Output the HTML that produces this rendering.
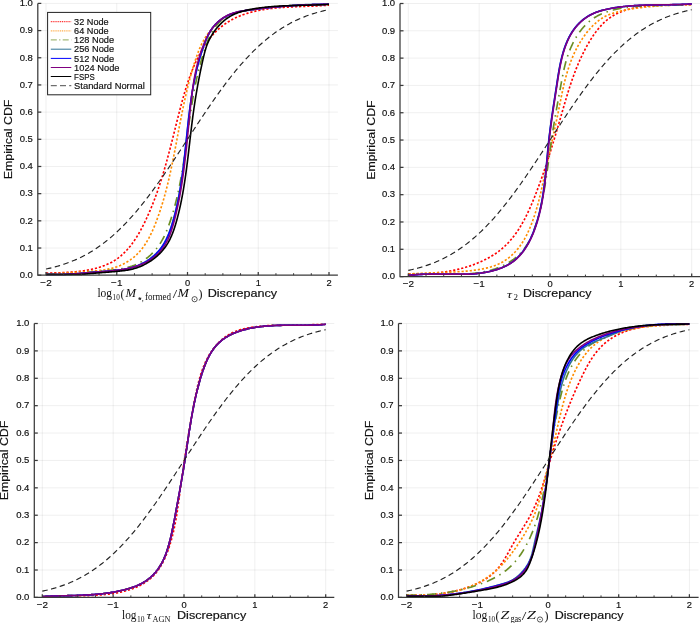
<!DOCTYPE html>
<html><head><meta charset="utf-8"><style>
html,body{margin:0;padding:0;background:#fff;width:700px;height:623px;overflow:hidden;font-family:"Liberation Sans",sans-serif;}
svg{display:block;will-change:transform}
</style></head><body>
<svg width="700" height="623" viewBox="0 0 700 623">
<rect width="700" height="623" fill="#fff"/>
<g stroke="#000" stroke-opacity="0.062" stroke-width="1">
<line x1="37.80" y1="248.02" x2="337.90" y2="248.02"/>
<line x1="37.80" y1="220.84" x2="337.90" y2="220.84"/>
<line x1="37.80" y1="193.66" x2="337.90" y2="193.66"/>
<line x1="37.80" y1="166.48" x2="337.90" y2="166.48"/>
<line x1="37.80" y1="139.30" x2="337.90" y2="139.30"/>
<line x1="37.80" y1="112.12" x2="337.90" y2="112.12"/>
<line x1="37.80" y1="84.94" x2="337.90" y2="84.94"/>
<line x1="37.80" y1="57.76" x2="337.90" y2="57.76"/>
<line x1="37.80" y1="30.58" x2="337.90" y2="30.58"/>
<line x1="37.80" y1="3.40" x2="337.90" y2="3.40"/>
<line x1="46.00" y1="275.20" x2="46.00" y2="3.40"/>
<line x1="116.75" y1="275.20" x2="116.75" y2="3.40"/>
<line x1="187.50" y1="275.20" x2="187.50" y2="3.40"/>
<line x1="258.25" y1="275.20" x2="258.25" y2="3.40"/>
<line x1="329.00" y1="275.20" x2="329.00" y2="3.40"/>
</g>
<g stroke="#000" stroke-opacity="0.062" stroke-width="1">
<line x1="400.00" y1="249.29" x2="700.50" y2="249.29"/>
<line x1="400.00" y1="221.98" x2="700.50" y2="221.98"/>
<line x1="400.00" y1="194.67" x2="700.50" y2="194.67"/>
<line x1="400.00" y1="167.36" x2="700.50" y2="167.36"/>
<line x1="400.00" y1="140.05" x2="700.50" y2="140.05"/>
<line x1="400.00" y1="112.74" x2="700.50" y2="112.74"/>
<line x1="400.00" y1="85.43" x2="700.50" y2="85.43"/>
<line x1="400.00" y1="58.12" x2="700.50" y2="58.12"/>
<line x1="400.00" y1="30.81" x2="700.50" y2="30.81"/>
<line x1="400.00" y1="3.50" x2="700.50" y2="3.50"/>
<line x1="408.30" y1="276.60" x2="408.30" y2="3.50"/>
<line x1="479.15" y1="276.60" x2="479.15" y2="3.50"/>
<line x1="550.00" y1="276.60" x2="550.00" y2="3.50"/>
<line x1="620.85" y1="276.60" x2="620.85" y2="3.50"/>
<line x1="691.70" y1="276.60" x2="691.70" y2="3.50"/>
</g>
<g stroke="#000" stroke-opacity="0.062" stroke-width="1">
<line x1="34.30" y1="570.01" x2="334.30" y2="570.01"/>
<line x1="34.30" y1="542.62" x2="334.30" y2="542.62"/>
<line x1="34.30" y1="515.23" x2="334.30" y2="515.23"/>
<line x1="34.30" y1="487.84" x2="334.30" y2="487.84"/>
<line x1="34.30" y1="460.45" x2="334.30" y2="460.45"/>
<line x1="34.30" y1="433.06" x2="334.30" y2="433.06"/>
<line x1="34.30" y1="405.67" x2="334.30" y2="405.67"/>
<line x1="34.30" y1="378.28" x2="334.30" y2="378.28"/>
<line x1="34.30" y1="350.89" x2="334.30" y2="350.89"/>
<line x1="34.30" y1="323.50" x2="334.30" y2="323.50"/>
<line x1="42.30" y1="597.40" x2="42.30" y2="323.50"/>
<line x1="113.15" y1="597.40" x2="113.15" y2="323.50"/>
<line x1="184.00" y1="597.40" x2="184.00" y2="323.50"/>
<line x1="254.85" y1="597.40" x2="254.85" y2="323.50"/>
<line x1="325.70" y1="597.40" x2="325.70" y2="323.50"/>
</g>
<g stroke="#000" stroke-opacity="0.062" stroke-width="1">
<line x1="398.50" y1="570.01" x2="698.60" y2="570.01"/>
<line x1="398.50" y1="542.62" x2="698.60" y2="542.62"/>
<line x1="398.50" y1="515.23" x2="698.60" y2="515.23"/>
<line x1="398.50" y1="487.84" x2="698.60" y2="487.84"/>
<line x1="398.50" y1="460.45" x2="698.60" y2="460.45"/>
<line x1="398.50" y1="433.06" x2="698.60" y2="433.06"/>
<line x1="398.50" y1="405.67" x2="698.60" y2="405.67"/>
<line x1="398.50" y1="378.28" x2="698.60" y2="378.28"/>
<line x1="398.50" y1="350.89" x2="698.60" y2="350.89"/>
<line x1="398.50" y1="323.50" x2="698.60" y2="323.50"/>
<line x1="406.60" y1="597.40" x2="406.60" y2="323.50"/>
<line x1="477.30" y1="597.40" x2="477.30" y2="323.50"/>
<line x1="548.00" y1="597.40" x2="548.00" y2="323.50"/>
<line x1="618.70" y1="597.40" x2="618.70" y2="323.50"/>
<line x1="689.40" y1="597.40" x2="689.40" y2="323.50"/>
</g>
<g fill="none" stroke-linejoin="round">
<path d="M46.00 273.06 L47.09 273.04 L48.18 273.02 L49.27 272.99 L50.36 272.97 L51.45 272.95 L52.54 272.92 L53.64 272.90 L54.73 272.87 L55.83 272.84 L56.93 272.82 L58.03 272.78 L59.13 272.75 L60.24 272.71 L61.34 272.67 L62.45 272.63 L63.56 272.58 L64.67 272.53 L65.78 272.47 L66.89 272.41 L68.01 272.35 L69.12 272.28 L70.24 272.20 L71.36 272.12 L72.48 272.03 L73.60 271.94 L74.72 271.84 L75.84 271.73 L76.97 271.61 L78.09 271.49 L79.22 271.36 L80.35 271.22 L81.48 271.07 L82.61 270.91 L83.74 270.74 L84.87 270.57 L86.00 270.38 L87.13 270.18 L88.26 269.98 L89.39 269.76 L90.51 269.53 L91.63 269.29 L92.75 269.04 L93.87 268.78 L94.97 268.50 L96.08 268.21 L97.18 267.91 L98.27 267.59 L99.36 267.27 L100.44 266.92 L101.51 266.57 L102.58 266.20 L103.63 265.81 L104.68 265.41 L105.71 264.99 L106.74 264.56 L107.76 264.11 L108.76 263.65 L109.76 263.17 L110.74 262.67 L111.71 262.16 L112.66 261.62 L113.60 261.07 L114.53 260.50 L115.45 259.92 L116.35 259.31 L117.23 258.69 L118.11 258.06 L118.97 257.40 L119.81 256.74 L120.65 256.05 L121.47 255.35 L122.28 254.64 L123.08 253.91 L123.86 253.16 L124.64 252.41 L125.40 251.64 L126.15 250.85 L126.89 250.06 L127.62 249.25 L128.34 248.43 L129.04 247.60 L129.74 246.75 L130.43 245.90 L131.10 245.03 L131.77 244.16 L132.43 243.27 L133.07 242.38 L133.71 241.48 L134.34 240.56 L134.96 239.64 L135.57 238.72 L136.18 237.78 L136.77 236.83 L137.36 235.88 L137.94 234.93 L138.51 233.96 L139.07 232.99 L139.63 232.02 L140.18 231.04 L140.72 230.05 L141.25 229.06 L141.78 228.07 L142.30 227.07 L142.82 226.07 L143.33 225.07 L143.83 224.06 L144.33 223.05 L144.82 222.04 L145.31 221.03 L145.79 220.01 L146.27 219.00 L146.74 217.98 L147.21 216.96 L147.67 215.94 L148.13 214.92 L148.58 213.90 L149.03 212.88 L149.48 211.85 L149.92 210.83 L150.35 209.80 L150.78 208.78 L151.21 207.75 L151.63 206.72 L152.05 205.69 L152.46 204.66 L152.87 203.63 L153.28 202.59 L153.68 201.56 L154.08 200.52 L154.47 199.49 L154.87 198.45 L155.25 197.41 L155.64 196.37 L156.01 195.33 L156.39 194.29 L156.76 193.25 L157.13 192.20 L157.50 191.16 L157.86 190.11 L158.22 189.07 L158.58 188.02 L158.93 186.97 L159.28 185.92 L159.63 184.87 L159.97 183.82 L160.31 182.77 L160.65 181.72 L160.98 180.66 L161.32 179.61 L161.65 178.55 L161.97 177.49 L162.30 176.44 L162.62 175.38 L162.94 174.32 L163.26 173.26 L163.57 172.20 L163.89 171.14 L164.20 170.08 L164.51 169.01 L164.81 167.95 L165.12 166.88 L165.42 165.82 L165.72 164.75 L166.02 163.68 L166.32 162.62 L166.61 161.55 L166.91 160.48 L167.20 159.41 L167.49 158.34 L167.78 157.27 L168.07 156.19 L168.36 155.12 L168.64 154.05 L168.92 152.97 L169.21 151.90 L169.49 150.82 L169.77 149.75 L170.05 148.67 L170.33 147.59 L170.61 146.51 L170.88 145.43 L171.16 144.35 L171.44 143.27 L171.71 142.19 L171.99 141.11 L172.26 140.03 L172.53 138.95 L172.81 137.86 L173.08 136.78 L173.35 135.69 L173.63 134.61 L173.90 133.52 L174.17 132.44 L174.44 131.35 L174.71 130.26 L174.99 129.18 L175.26 128.09 L175.53 127.00 L175.81 125.91 L176.08 124.82 L176.35 123.73 L176.63 122.64 L176.90 121.55 L177.18 120.46 L177.45 119.36 L177.73 118.27 L178.00 117.18 L178.28 116.08 L178.56 114.99 L178.84 113.90 L179.12 112.80 L179.40 111.71 L179.69 110.61 L179.97 109.52 L180.26 108.42 L180.54 107.32 L180.83 106.23 L181.12 105.13 L181.41 104.04 L181.71 102.94 L182.00 101.85 L182.30 100.75 L182.60 99.66 L182.90 98.57 L183.21 97.48 L183.52 96.38 L183.83 95.30 L184.14 94.21 L184.46 93.12 L184.78 92.03 L185.10 90.95 L185.43 89.87 L185.76 88.78 L186.09 87.70 L186.43 86.63 L186.77 85.55 L187.12 84.48 L187.47 83.41 L187.82 82.34 L188.18 81.27 L188.54 80.20 L188.91 79.14 L189.28 78.08 L189.66 77.03 L190.04 75.97 L190.42 74.92 L190.82 73.87 L191.21 72.83 L191.62 71.79 L192.02 70.75 L192.44 69.72 L192.86 68.68 L193.28 67.66 L193.71 66.63 L194.15 65.61 L194.59 64.60 L195.04 63.59 L195.50 62.58 L195.96 61.58 L196.43 60.58 L196.91 59.58 L197.39 58.59 L197.88 57.61 L198.38 56.63 L198.88 55.65 L199.40 54.68 L199.92 53.71 L200.44 52.75 L200.98 51.80 L201.52 50.85 L202.08 49.90 L202.63 48.97 L203.20 48.03 L203.78 47.11 L204.36 46.18 L204.96 45.27 L205.56 44.36 L206.17 43.46 L206.79 42.56 L207.42 41.67 L208.06 40.78 L208.71 39.91 L209.37 39.04 L210.04 38.18 L210.72 37.33 L211.41 36.49 L212.12 35.65 L212.84 34.83 L213.57 34.01 L214.31 33.21 L215.07 32.42 L215.84 31.63 L216.62 30.86 L217.42 30.10 L218.23 29.35 L219.06 28.62 L219.90 27.89 L220.75 27.18 L221.61 26.49 L222.49 25.80 L223.37 25.13 L224.27 24.48 L225.17 23.84 L226.09 23.21 L227.01 22.60 L227.94 22.01 L228.88 21.43 L229.82 20.87 L230.78 20.32 L231.74 19.79 L232.71 19.27 L233.68 18.76 L234.66 18.27 L235.65 17.80 L236.64 17.33 L237.65 16.88 L238.65 16.45 L239.67 16.03 L240.69 15.62 L241.71 15.22 L242.74 14.84 L243.78 14.46 L244.82 14.10 L245.87 13.75 L246.92 13.42 L247.98 13.09 L249.04 12.78 L250.11 12.47 L251.18 12.18 L252.26 11.90 L253.34 11.63 L254.42 11.36 L255.51 11.11 L256.60 10.87 L257.70 10.64 L258.80 10.41 L259.90 10.20 L261.01 9.99 L262.12 9.79 L263.23 9.60 L264.35 9.42 L265.47 9.25 L266.59 9.08 L267.71 8.92 L268.83 8.77 L269.96 8.63 L271.09 8.49 L272.22 8.36 L273.36 8.23 L274.49 8.11 L275.63 8.00 L276.76 7.89 L277.90 7.79 L279.04 7.69 L280.18 7.60 L281.32 7.51 L282.46 7.43 L283.61 7.35 L284.75 7.27 L285.89 7.20 L287.03 7.14 L288.17 7.07 L289.32 7.01 L290.46 6.96 L291.60 6.90 L292.74 6.85 L293.88 6.80 L295.01 6.75 L296.15 6.71 L297.29 6.66 L298.42 6.62 L299.55 6.58 L300.68 6.54 L301.81 6.50 L302.94 6.46 L304.06 6.42 L305.19 6.38 L306.31 6.34 L307.42 6.30 L308.54 6.26 L309.65 6.22 L310.76 6.18 L311.86 6.14 L312.96 6.10 L314.06 6.05 L315.16 6.00 L316.25 5.95 L317.34 5.90 L318.42 5.85 L319.50 5.79 L320.57 5.73 L321.64 5.67 L322.71 5.60 L323.77 5.53 L324.82 5.46 L325.87 5.38 L326.92 5.30 L327.96 5.21 L329.00 5.12" stroke="#ff0000" stroke-width="1.65" stroke-dasharray="2.2 1.9"/>
<path d="M46.00 273.79 L47.16 273.79 L48.32 273.79 L49.48 273.77 L50.63 273.75 L51.78 273.73 L52.93 273.70 L54.08 273.66 L55.22 273.61 L56.36 273.56 L57.50 273.51 L58.64 273.45 L59.78 273.39 L60.91 273.32 L62.05 273.25 L63.18 273.18 L64.32 273.10 L65.45 273.02 L66.58 272.94 L67.72 272.85 L68.85 272.77 L69.98 272.68 L71.12 272.60 L72.25 272.51 L73.39 272.43 L74.53 272.34 L75.67 272.25 L76.81 272.17 L77.95 272.09 L79.10 272.01 L80.24 271.93 L81.39 271.85 L82.55 271.78 L83.70 271.71 L84.86 271.63 L86.02 271.56 L87.18 271.49 L88.34 271.42 L89.50 271.35 L90.66 271.27 L91.83 271.19 L92.99 271.10 L94.15 271.01 L95.31 270.91 L96.48 270.81 L97.64 270.69 L98.80 270.57 L99.95 270.44 L101.11 270.29 L102.26 270.14 L103.41 269.97 L104.56 269.80 L105.70 269.60 L106.85 269.39 L107.98 269.17 L109.12 268.93 L110.25 268.67 L111.37 268.40 L112.49 268.11 L113.61 267.79 L114.71 267.46 L115.82 267.10 L116.92 266.73 L118.01 266.32 L119.09 265.90 L120.17 265.46 L121.23 264.99 L122.29 264.50 L123.34 263.99 L124.38 263.45 L125.40 262.90 L126.41 262.33 L127.41 261.74 L128.40 261.13 L129.36 260.49 L130.32 259.85 L131.25 259.18 L132.17 258.49 L133.07 257.79 L133.95 257.07 L134.81 256.33 L135.65 255.58 L136.47 254.81 L137.27 254.03 L138.06 253.23 L138.83 252.42 L139.58 251.59 L140.32 250.75 L141.04 249.89 L141.74 249.02 L142.43 248.14 L143.10 247.25 L143.76 246.34 L144.40 245.43 L145.03 244.50 L145.64 243.56 L146.24 242.61 L146.83 241.65 L147.41 240.68 L147.97 239.71 L148.52 238.72 L149.07 237.73 L149.60 236.72 L150.11 235.71 L150.62 234.69 L151.12 233.67 L151.61 232.64 L152.09 231.60 L152.56 230.56 L153.03 229.51 L153.48 228.46 L153.93 227.40 L154.37 226.34 L154.80 225.27 L155.23 224.20 L155.65 223.13 L156.06 222.06 L156.47 220.98 L156.88 219.90 L157.28 218.82 L157.67 217.74 L158.06 216.66 L158.45 215.57 L158.83 214.49 L159.20 213.40 L159.57 212.31 L159.94 211.22 L160.30 210.12 L160.66 209.03 L161.01 207.93 L161.36 206.84 L161.70 205.74 L162.04 204.63 L162.38 203.53 L162.71 202.43 L163.04 201.32 L163.37 200.22 L163.69 199.11 L164.00 198.00 L164.32 196.89 L164.63 195.78 L164.93 194.67 L165.24 193.55 L165.53 192.44 L165.83 191.32 L166.12 190.20 L166.41 189.09 L166.70 187.97 L166.98 186.85 L167.26 185.72 L167.54 184.60 L167.82 183.48 L168.09 182.36 L168.36 181.23 L168.62 180.10 L168.89 178.98 L169.15 177.85 L169.41 176.72 L169.66 175.59 L169.92 174.46 L170.17 173.33 L170.42 172.20 L170.67 171.07 L170.91 169.93 L171.15 168.80 L171.40 167.67 L171.63 166.53 L171.87 165.40 L172.11 164.26 L172.34 163.13 L172.58 161.99 L172.81 160.85 L173.04 159.72 L173.26 158.58 L173.49 157.44 L173.72 156.30 L173.94 155.16 L174.16 154.03 L174.39 152.89 L174.61 151.75 L174.83 150.61 L175.05 149.47 L175.26 148.33 L175.48 147.19 L175.70 146.05 L175.92 144.91 L176.13 143.77 L176.35 142.63 L176.56 141.49 L176.78 140.35 L176.99 139.21 L177.21 138.07 L177.42 136.93 L177.63 135.79 L177.85 134.65 L178.06 133.51 L178.27 132.38 L178.49 131.24 L178.70 130.10 L178.92 128.96 L179.13 127.82 L179.35 126.69 L179.56 125.55 L179.78 124.41 L180.00 123.28 L180.22 122.14 L180.44 121.01 L180.65 119.87 L180.88 118.74 L181.10 117.61 L181.32 116.47 L181.54 115.34 L181.77 114.21 L181.99 113.08 L182.22 111.95 L182.45 110.82 L182.68 109.69 L182.91 108.57 L183.14 107.44 L183.38 106.31 L183.62 105.19 L183.85 104.06 L184.09 102.94 L184.34 101.82 L184.58 100.70 L184.82 99.58 L185.07 98.46 L185.32 97.34 L185.57 96.22 L185.83 95.11 L186.08 93.99 L186.34 92.88 L186.60 91.77 L186.86 90.66 L187.13 89.55 L187.39 88.44 L187.66 87.33 L187.94 86.22 L188.21 85.12 L188.49 84.02 L188.77 82.91 L189.05 81.81 L189.34 80.71 L189.63 79.62 L189.92 78.52 L190.21 77.43 L190.51 76.33 L190.81 75.24 L191.11 74.15 L191.42 73.06 L191.73 71.98 L192.04 70.89 L192.36 69.81 L192.68 68.73 L193.00 67.65 L193.33 66.57 L193.66 65.50 L193.99 64.42 L194.33 63.35 L194.67 62.28 L195.02 61.21 L195.37 60.14 L195.72 59.08 L196.08 58.02 L196.44 56.96 L196.80 55.90 L197.18 54.84 L197.55 53.79 L197.94 52.74 L198.34 51.69 L198.75 50.64 L199.17 49.59 L199.61 48.55 L200.06 47.51 L200.52 46.47 L201.00 45.44 L201.50 44.40 L202.02 43.37 L202.56 42.34 L203.12 41.32 L203.70 40.29 L204.29 39.28 L204.91 38.27 L205.54 37.27 L206.19 36.27 L206.86 35.29 L207.55 34.31 L208.25 33.34 L208.97 32.39 L209.71 31.44 L210.46 30.51 L211.22 29.60 L212.00 28.70 L212.80 27.81 L213.61 26.94 L214.43 26.09 L215.27 25.26 L216.12 24.44 L216.98 23.65 L217.86 22.87 L218.74 22.12 L219.64 21.39 L220.55 20.68 L221.47 20.00 L222.40 19.34 L223.34 18.71 L224.29 18.11 L225.25 17.53 L226.22 16.98 L227.20 16.46 L228.19 15.96 L229.18 15.49 L230.18 15.05 L231.19 14.62 L232.21 14.22 L233.24 13.84 L234.28 13.48 L235.32 13.13 L236.37 12.81 L237.42 12.50 L238.49 12.20 L239.56 11.93 L240.64 11.66 L241.72 11.41 L242.81 11.17 L243.90 10.94 L245.00 10.71 L246.11 10.50 L247.22 10.29 L248.34 10.09 L249.46 9.90 L250.59 9.71 L251.72 9.53 L252.86 9.35 L254.00 9.17 L255.15 9.00 L256.29 8.83 L257.45 8.67 L258.60 8.52 L259.77 8.36 L260.93 8.21 L262.10 8.07 L263.27 7.93 L264.44 7.79 L265.61 7.66 L266.79 7.53 L267.97 7.40 L269.15 7.28 L270.34 7.16 L271.52 7.05 L272.71 6.94 L273.90 6.83 L275.09 6.73 L276.28 6.63 L277.47 6.53 L278.66 6.43 L279.85 6.34 L281.04 6.25 L282.24 6.17 L283.43 6.09 L284.62 6.01 L285.81 5.93 L287.00 5.85 L288.19 5.78 L289.38 5.71 L290.57 5.65 L291.76 5.58 L292.94 5.52 L294.13 5.46 L295.31 5.40 L296.49 5.34 L297.67 5.29 L298.84 5.24 L300.01 5.19 L301.18 5.14 L302.35 5.09 L303.51 5.05 L304.67 5.00 L305.83 4.96 L306.98 4.92 L308.13 4.88 L309.28 4.84 L310.42 4.81 L311.55 4.77 L312.69 4.74 L313.81 4.70 L314.94 4.67 L316.05 4.64 L317.16 4.61 L318.27 4.58 L319.37 4.55 L320.47 4.52 L321.55 4.49 L322.64 4.46 L323.71 4.43 L324.78 4.41 L325.85 4.38 L326.90 4.35 L327.95 4.32 L328.99 4.30" stroke="#ff8c00" stroke-width="1.65" stroke-dasharray="2.2 1.9"/>
<path d="M46.00 274.11 L47.21 274.11 L48.42 274.11 L49.63 274.11 L50.83 274.11 L52.03 274.11 L53.22 274.11 L54.41 274.11 L55.59 274.11 L56.78 274.11 L57.95 274.11 L59.13 274.11 L60.30 274.11 L61.47 274.11 L62.64 274.11 L63.80 274.11 L64.96 274.11 L66.13 274.11 L67.28 274.11 L68.44 274.11 L69.59 274.11 L70.75 274.11 L71.90 274.06 L73.05 273.97 L74.20 273.87 L75.35 273.77 L76.50 273.66 L77.65 273.55 L78.80 273.44 L79.95 273.32 L81.10 273.20 L82.25 273.08 L83.40 272.95 L84.55 272.83 L85.70 272.70 L86.85 272.57 L88.00 272.44 L89.16 272.31 L90.31 272.18 L91.47 272.06 L92.63 271.93 L93.79 271.80 L94.96 271.68 L96.12 271.55 L97.29 271.43 L98.47 271.32 L99.64 271.20 L100.82 271.09 L102.00 270.98 L103.18 270.88 L104.37 270.77 L105.55 270.66 L106.74 270.56 L107.93 270.45 L109.12 270.34 L110.30 270.22 L111.49 270.10 L112.68 269.97 L113.86 269.84 L115.04 269.70 L116.22 269.55 L117.40 269.39 L118.58 269.21 L119.75 269.03 L120.91 268.84 L122.08 268.63 L123.23 268.40 L124.38 268.17 L125.53 267.91 L126.67 267.64 L127.80 267.35 L128.93 267.03 L130.05 266.70 L131.16 266.35 L132.26 265.98 L133.35 265.58 L134.43 265.16 L135.51 264.71 L136.57 264.24 L137.63 263.74 L138.67 263.22 L139.70 262.68 L140.72 262.11 L141.73 261.52 L142.72 260.91 L143.70 260.28 L144.67 259.62 L145.62 258.95 L146.56 258.26 L147.49 257.54 L148.40 256.81 L149.29 256.06 L150.17 255.29 L151.03 254.50 L151.88 253.70 L152.70 252.87 L153.51 252.04 L154.30 251.18 L155.08 250.31 L155.83 249.43 L156.57 248.53 L157.28 247.62 L157.98 246.69 L158.65 245.75 L159.31 244.80 L159.95 243.84 L160.57 242.86 L161.17 241.87 L161.75 240.87 L162.32 239.87 L162.88 238.85 L163.42 237.82 L163.94 236.79 L164.45 235.74 L164.95 234.69 L165.43 233.63 L165.91 232.56 L166.37 231.49 L166.82 230.41 L167.25 229.33 L167.68 228.24 L168.10 227.14 L168.51 226.05 L168.92 224.94 L169.31 223.84 L169.70 222.73 L170.08 221.62 L170.45 220.51 L170.82 219.39 L171.18 218.28 L171.54 217.16 L171.89 216.04 L172.24 214.92 L172.58 213.80 L172.92 212.68 L173.25 211.55 L173.57 210.43 L173.89 209.30 L174.21 208.17 L174.52 207.04 L174.83 205.91 L175.13 204.78 L175.42 203.64 L175.71 202.51 L176.00 201.37 L176.28 200.24 L176.56 199.10 L176.84 197.96 L177.11 196.82 L177.37 195.67 L177.63 194.53 L177.89 193.39 L178.15 192.24 L178.40 191.09 L178.64 189.95 L178.88 188.80 L179.12 187.65 L179.36 186.50 L179.59 185.35 L179.82 184.20 L180.04 183.04 L180.27 181.89 L180.49 180.73 L180.70 179.58 L180.92 178.42 L181.13 177.27 L181.33 176.11 L181.54 174.95 L181.74 173.79 L181.94 172.63 L182.14 171.47 L182.33 170.31 L182.52 169.15 L182.71 167.98 L182.90 166.82 L183.09 165.66 L183.27 164.49 L183.45 163.33 L183.63 162.17 L183.81 161.00 L183.99 159.83 L184.16 158.67 L184.33 157.50 L184.51 156.34 L184.68 155.17 L184.84 154.00 L185.01 152.83 L185.18 151.66 L185.34 150.50 L185.51 149.33 L185.67 148.16 L185.83 146.99 L186.00 145.82 L186.16 144.65 L186.32 143.48 L186.48 142.31 L186.64 141.14 L186.80 139.97 L186.95 138.81 L187.11 137.64 L187.27 136.47 L187.43 135.30 L187.59 134.13 L187.75 132.96 L187.90 131.79 L188.06 130.62 L188.22 129.45 L188.38 128.28 L188.54 127.11 L188.70 125.95 L188.86 124.78 L189.02 123.61 L189.19 122.44 L189.35 121.28 L189.51 120.11 L189.68 118.94 L189.84 117.78 L190.01 116.61 L190.18 115.45 L190.35 114.28 L190.52 113.12 L190.69 111.96 L190.87 110.79 L191.04 109.63 L191.22 108.47 L191.40 107.31 L191.58 106.15 L191.77 104.99 L191.95 103.83 L192.14 102.67 L192.33 101.51 L192.52 100.35 L192.71 99.20 L192.91 98.04 L193.11 96.88 L193.31 95.73 L193.52 94.58 L193.72 93.42 L193.93 92.27 L194.14 91.12 L194.36 89.97 L194.58 88.82 L194.80 87.68 L195.02 86.53 L195.25 85.38 L195.48 84.24 L195.72 83.10 L195.96 81.95 L196.20 80.81 L196.44 79.67 L196.69 78.53 L196.95 77.39 L197.20 76.26 L197.46 75.12 L197.73 73.99 L198.00 72.85 L198.27 71.72 L198.55 70.59 L198.83 69.46 L199.12 68.34 L199.41 67.21 L199.70 66.08 L200.00 64.96 L200.31 63.84 L200.62 62.72 L200.93 61.60 L201.25 60.48 L201.57 59.36 L201.90 58.25 L202.24 57.14 L202.58 56.03 L202.92 54.92 L203.27 53.81 L203.63 52.70 L203.99 51.60 L204.36 50.50 L204.73 49.39 L205.11 48.29 L205.50 47.20 L205.89 46.10 L206.29 45.01 L206.69 43.92 L207.10 42.83 L207.52 41.74 L207.94 40.66 L208.38 39.58 L208.83 38.51 L209.29 37.45 L209.77 36.39 L210.26 35.34 L210.77 34.31 L211.30 33.28 L211.84 32.27 L212.41 31.27 L213.00 30.28 L213.61 29.31 L214.24 28.35 L214.90 27.41 L215.59 26.49 L216.30 25.59 L217.05 24.71 L217.82 23.84 L218.62 23.00 L219.45 22.18 L220.30 21.39 L221.19 20.61 L222.09 19.87 L223.02 19.15 L223.98 18.45 L224.95 17.79 L225.94 17.15 L226.96 16.55 L227.99 15.97 L229.04 15.43 L230.11 14.92 L231.19 14.44 L232.28 14.00 L233.39 13.58 L234.51 13.20 L235.64 12.84 L236.78 12.51 L237.93 12.19 L239.09 11.90 L240.26 11.63 L241.43 11.38 L242.60 11.15 L243.78 10.92 L244.97 10.71 L246.15 10.51 L247.34 10.32 L248.52 10.14 L249.71 9.96 L250.89 9.78 L252.07 9.61 L253.25 9.44 L254.43 9.28 L255.61 9.12 L256.78 8.96 L257.96 8.80 L259.13 8.65 L260.30 8.50 L261.47 8.36 L262.64 8.22 L263.80 8.08 L264.97 7.95 L266.14 7.82 L267.30 7.69 L268.46 7.56 L269.62 7.44 L270.78 7.32 L271.95 7.21 L273.10 7.09 L274.26 6.98 L275.42 6.87 L276.58 6.77 L277.74 6.67 L278.89 6.57 L280.05 6.47 L281.21 6.38 L282.36 6.29 L283.52 6.20 L284.67 6.11 L285.83 6.03 L286.98 5.95 L288.14 5.87 L289.29 5.79 L290.45 5.72 L291.60 5.65 L292.76 5.58 L293.92 5.51 L295.07 5.44 L296.23 5.38 L297.39 5.32 L298.54 5.26 L299.70 5.20 L300.86 5.15 L302.02 5.09 L303.18 5.04 L304.34 4.99 L305.50 4.94 L306.67 4.90 L307.83 4.85 L308.99 4.81 L310.16 4.77 L311.33 4.73 L312.49 4.69 L313.66 4.65 L314.83 4.62 L316.01 4.59 L317.18 4.55 L318.35 4.52 L319.53 4.49 L320.71 4.46 L321.89 4.44 L323.07 4.41 L324.25 4.39 L325.43 4.36 L326.62 4.34 L327.81 4.32 L329.00 4.30" stroke="#6b8e23" stroke-width="1.65" stroke-dasharray="9 5 1.5 5"/>
<path d="M46.00 274.49 L47.12 274.49 L48.24 274.49 L49.37 274.49 L50.50 274.49 L51.64 274.49 L52.78 274.49 L53.92 274.49 L55.07 274.49 L56.23 274.49 L57.38 274.49 L58.55 274.49 L59.71 274.49 L60.88 274.49 L62.05 274.49 L63.23 274.49 L64.40 274.49 L65.59 274.49 L66.77 274.49 L67.96 274.49 L69.15 274.49 L70.34 274.45 L71.53 274.36 L72.73 274.26 L73.92 274.16 L75.12 274.06 L76.32 273.95 L77.53 273.84 L78.73 273.72 L79.94 273.60 L81.14 273.48 L82.35 273.36 L83.56 273.24 L84.77 273.11 L85.98 272.99 L87.18 272.87 L88.39 272.74 L89.60 272.62 L90.81 272.50 L92.02 272.38 L93.23 272.26 L94.44 272.14 L95.65 272.03 L96.86 271.92 L98.06 271.82 L99.27 271.71 L100.47 271.62 L101.67 271.52 L102.87 271.44 L104.07 271.35 L105.27 271.27 L106.47 271.18 L107.66 271.10 L108.85 271.01 L110.04 270.93 L111.23 270.84 L112.41 270.74 L113.59 270.64 L114.77 270.54 L115.95 270.43 L117.12 270.31 L118.29 270.18 L119.45 270.04 L120.61 269.89 L121.77 269.73 L122.92 269.55 L124.07 269.37 L125.22 269.16 L126.36 268.95 L127.50 268.71 L128.63 268.46 L129.76 268.19 L130.88 267.90 L131.99 267.59 L133.11 267.26 L134.21 266.90 L135.31 266.53 L136.41 266.12 L137.50 265.70 L138.58 265.25 L139.65 264.78 L140.72 264.29 L141.77 263.77 L142.82 263.23 L143.86 262.67 L144.88 262.09 L145.90 261.48 L146.90 260.86 L147.89 260.21 L148.86 259.55 L149.82 258.86 L150.77 258.15 L151.70 257.43 L152.61 256.68 L153.51 255.92 L154.39 255.14 L155.25 254.34 L156.10 253.52 L156.92 252.68 L157.72 251.83 L158.51 250.96 L159.27 250.07 L160.01 249.16 L160.72 248.24 L161.42 247.31 L162.09 246.35 L162.73 245.39 L163.36 244.41 L163.96 243.41 L164.55 242.40 L165.11 241.38 L165.66 240.35 L166.19 239.31 L166.70 238.25 L167.19 237.19 L167.67 236.11 L168.13 235.03 L168.58 233.94 L169.02 232.84 L169.44 231.73 L169.84 230.62 L170.24 229.50 L170.63 228.37 L171.00 227.24 L171.37 226.11 L171.73 224.97 L172.08 223.83 L172.42 222.68 L172.75 221.54 L173.08 220.39 L173.40 219.24 L173.72 218.09 L174.03 216.94 L174.34 215.79 L174.64 214.64 L174.94 213.48 L175.23 212.33 L175.51 211.17 L175.79 210.02 L176.07 208.86 L176.33 207.70 L176.60 206.54 L176.86 205.38 L177.11 204.21 L177.37 203.05 L177.61 201.89 L177.85 200.72 L178.09 199.56 L178.32 198.39 L178.55 197.22 L178.78 196.05 L179.00 194.88 L179.21 193.71 L179.43 192.54 L179.63 191.37 L179.84 190.20 L180.04 189.03 L180.24 187.85 L180.43 186.68 L180.62 185.50 L180.81 184.33 L181.00 183.15 L181.18 181.98 L181.36 180.80 L181.53 179.62 L181.71 178.44 L181.88 177.26 L182.04 176.09 L182.21 174.91 L182.37 173.73 L182.53 172.55 L182.69 171.36 L182.84 170.18 L182.99 169.00 L183.14 167.82 L183.29 166.64 L183.44 165.45 L183.58 164.27 L183.73 163.09 L183.87 161.91 L184.01 160.72 L184.14 159.54 L184.28 158.35 L184.42 157.17 L184.55 155.99 L184.68 154.80 L184.82 153.62 L184.95 152.43 L185.08 151.25 L185.20 150.06 L185.33 148.88 L185.46 147.70 L185.59 146.51 L185.71 145.33 L185.84 144.14 L185.96 142.96 L186.09 141.77 L186.21 140.59 L186.34 139.41 L186.46 138.22 L186.59 137.04 L186.71 135.86 L186.84 134.67 L186.96 133.49 L187.09 132.31 L187.22 131.13 L187.34 129.94 L187.47 128.76 L187.60 127.58 L187.73 126.40 L187.86 125.22 L187.99 124.04 L188.12 122.86 L188.26 121.68 L188.39 120.50 L188.53 119.32 L188.66 118.15 L188.80 116.97 L188.94 115.79 L189.09 114.62 L189.23 113.44 L189.37 112.27 L189.52 111.09 L189.67 109.92 L189.82 108.75 L189.98 107.58 L190.13 106.40 L190.29 105.23 L190.45 104.06 L190.62 102.90 L190.78 101.73 L190.95 100.56 L191.12 99.39 L191.29 98.23 L191.47 97.06 L191.65 95.90 L191.83 94.74 L192.02 93.57 L192.21 92.41 L192.40 91.25 L192.60 90.09 L192.80 88.94 L193.00 87.78 L193.21 86.62 L193.42 85.47 L193.63 84.32 L193.85 83.16 L194.08 82.01 L194.30 80.86 L194.53 79.71 L194.77 78.56 L195.01 77.42 L195.25 76.27 L195.50 75.13 L195.75 73.99 L196.01 72.84 L196.27 71.70 L196.54 70.56 L196.81 69.43 L197.09 68.29 L197.37 67.16 L197.66 66.02 L197.95 64.89 L198.25 63.76 L198.55 62.63 L198.86 61.51 L199.18 60.38 L199.50 59.26 L199.82 58.13 L200.15 57.01 L200.49 55.89 L200.84 54.78 L201.19 53.66 L201.54 52.54 L201.90 51.43 L202.27 50.32 L202.65 49.21 L203.03 48.10 L203.42 47.00 L203.81 45.89 L204.21 44.79 L204.62 43.69 L205.04 42.60 L205.47 41.50 L205.90 40.41 L206.35 39.33 L206.82 38.25 L207.30 37.18 L207.79 36.12 L208.30 35.07 L208.83 34.03 L209.39 33.00 L209.96 31.99 L210.56 30.98 L211.18 30.00 L211.83 29.02 L212.51 28.07 L213.21 27.13 L213.95 26.21 L214.72 25.31 L215.52 24.43 L216.35 23.57 L217.22 22.74 L218.12 21.92 L219.05 21.14 L220.00 20.37 L220.97 19.64 L221.97 18.93 L222.99 18.25 L224.03 17.60 L225.09 16.97 L226.16 16.39 L227.24 15.83 L228.33 15.30 L229.44 14.81 L230.55 14.36 L231.66 13.94 L232.79 13.55 L233.91 13.18 L235.05 12.85 L236.19 12.54 L237.33 12.25 L238.48 11.99 L239.63 11.74 L240.79 11.51 L241.95 11.30 L243.11 11.10 L244.27 10.91 L245.44 10.73 L246.61 10.56 L247.78 10.40 L248.95 10.23 L250.11 10.07 L251.28 9.92 L252.45 9.76 L253.62 9.60 L254.79 9.45 L255.97 9.29 L257.14 9.14 L258.31 8.99 L259.48 8.84 L260.65 8.69 L261.82 8.55 L262.99 8.40 L264.16 8.26 L265.34 8.12 L266.51 7.98 L267.68 7.84 L268.85 7.71 L270.02 7.57 L271.20 7.44 L272.37 7.31 L273.54 7.18 L274.72 7.06 L275.89 6.93 L277.07 6.81 L278.24 6.69 L279.41 6.58 L280.59 6.46 L281.76 6.35 L282.94 6.24 L284.12 6.13 L285.29 6.03 L286.47 5.93 L287.64 5.83 L288.82 5.73 L290.00 5.63 L291.17 5.54 L292.35 5.45 L293.53 5.37 L294.71 5.28 L295.88 5.20 L297.06 5.12 L298.24 5.05 L299.42 4.98 L300.60 4.91 L301.78 4.84 L302.96 4.78 L304.14 4.72 L305.32 4.67 L306.50 4.61 L307.68 4.56 L308.86 4.52 L310.05 4.47 L311.23 4.44 L312.41 4.40 L313.59 4.37 L314.78 4.34 L315.96 4.31 L317.14 4.29 L318.33 4.28 L319.51 4.26 L320.70 4.25 L321.88 4.25 L323.07 4.25 L324.25 4.25 L325.44 4.25 L326.63 4.25 L327.81 4.25 L329.00 4.25" stroke="#2e7396" stroke-width="1.6"/>
<path d="M46.00 274.49 L47.12 274.49 L48.24 274.49 L49.37 274.49 L50.50 274.49 L51.64 274.49 L52.78 274.49 L53.93 274.49 L55.08 274.49 L56.23 274.49 L57.39 274.49 L58.55 274.49 L59.72 274.49 L60.89 274.49 L62.06 274.49 L63.24 274.46 L64.42 274.41 L65.60 274.36 L66.78 274.30 L67.97 274.24 L69.16 274.18 L70.35 274.11 L71.55 274.04 L72.74 273.96 L73.94 273.88 L75.14 273.80 L76.34 273.72 L77.55 273.63 L78.75 273.54 L79.96 273.45 L81.17 273.36 L82.38 273.26 L83.58 273.17 L84.79 273.07 L86.00 272.97 L87.22 272.87 L88.43 272.77 L89.64 272.67 L90.85 272.57 L92.06 272.47 L93.27 272.37 L94.48 272.27 L95.69 272.17 L96.90 272.07 L98.11 271.98 L99.31 271.88 L100.52 271.79 L101.72 271.69 L102.93 271.60 L104.13 271.51 L105.33 271.41 L106.52 271.32 L107.72 271.22 L108.91 271.12 L110.10 271.01 L111.29 270.91 L112.48 270.79 L113.66 270.67 L114.84 270.55 L116.02 270.42 L117.19 270.28 L118.36 270.13 L119.53 269.97 L120.69 269.80 L121.85 269.63 L123.01 269.44 L124.16 269.24 L125.31 269.02 L126.45 268.80 L127.59 268.56 L128.72 268.30 L129.85 268.03 L130.98 267.74 L132.10 267.44 L133.21 267.12 L134.32 266.78 L135.43 266.42 L136.52 266.04 L137.61 265.64 L138.70 265.22 L139.78 264.78 L140.84 264.32 L141.90 263.84 L142.95 263.33 L143.99 262.80 L145.02 262.25 L146.04 261.67 L147.04 261.07 L148.03 260.44 L149.01 259.79 L149.97 259.11 L150.92 258.41 L151.86 257.69 L152.77 256.94 L153.67 256.18 L154.56 255.39 L155.42 254.58 L156.27 253.75 L157.09 252.90 L157.90 252.04 L158.69 251.15 L159.45 250.26 L160.19 249.34 L160.91 248.41 L161.61 247.46 L162.28 246.50 L162.93 245.53 L163.56 244.54 L164.17 243.54 L164.76 242.53 L165.32 241.51 L165.87 240.47 L166.40 239.43 L166.91 238.37 L167.41 237.31 L167.89 236.24 L168.35 235.15 L168.80 234.06 L169.23 232.97 L169.66 231.86 L170.07 230.75 L170.46 229.64 L170.85 228.52 L171.22 227.39 L171.59 226.26 L171.95 225.13 L172.30 223.99 L172.64 222.85 L172.97 221.71 L173.30 220.57 L173.62 219.42 L173.94 218.28 L174.25 217.13 L174.55 215.98 L174.85 214.83 L175.15 213.68 L175.43 212.53 L175.72 211.37 L176.00 210.22 L176.27 209.06 L176.54 207.90 L176.80 206.74 L177.06 205.58 L177.31 204.42 L177.56 203.26 L177.81 202.09 L178.05 200.93 L178.28 199.76 L178.51 198.60 L178.74 197.43 L178.96 196.26 L179.18 195.09 L179.40 193.92 L179.61 192.75 L179.81 191.58 L180.02 190.40 L180.22 189.23 L180.41 188.06 L180.60 186.88 L180.79 185.70 L180.98 184.53 L181.16 183.35 L181.34 182.17 L181.52 180.99 L181.69 179.81 L181.86 178.63 L182.03 177.45 L182.19 176.27 L182.36 175.08 L182.52 173.90 L182.67 172.72 L182.83 171.53 L182.98 170.35 L183.13 169.17 L183.28 167.98 L183.42 166.79 L183.57 165.61 L183.71 164.42 L183.85 163.24 L183.99 162.05 L184.13 160.86 L184.26 159.67 L184.40 158.49 L184.53 157.30 L184.66 156.11 L184.79 154.92 L184.92 153.73 L185.05 152.55 L185.18 151.36 L185.30 150.17 L185.43 148.98 L185.55 147.79 L185.68 146.60 L185.80 145.41 L185.92 144.22 L186.05 143.04 L186.17 141.85 L186.29 140.66 L186.41 139.47 L186.54 138.28 L186.66 137.09 L186.78 135.91 L186.90 134.72 L187.03 133.53 L187.15 132.34 L187.27 131.16 L187.40 129.97 L187.52 128.79 L187.65 127.60 L187.78 126.41 L187.90 125.23 L188.03 124.05 L188.16 122.86 L188.29 121.68 L188.42 120.49 L188.56 119.31 L188.69 118.13 L188.83 116.95 L188.97 115.77 L189.11 114.59 L189.25 113.41 L189.39 112.23 L189.53 111.05 L189.68 109.87 L189.83 108.70 L189.98 107.52 L190.14 106.35 L190.29 105.17 L190.45 104.00 L190.61 102.83 L190.77 101.66 L190.94 100.48 L191.11 99.31 L191.28 98.15 L191.46 96.98 L191.63 95.81 L191.81 94.64 L192.00 93.48 L192.19 92.32 L192.38 91.15 L192.57 89.99 L192.77 88.83 L192.97 87.67 L193.17 86.51 L193.38 85.36 L193.60 84.20 L193.81 83.05 L194.03 81.89 L194.26 80.74 L194.49 79.59 L194.72 78.44 L194.96 77.29 L195.20 76.15 L195.44 75.00 L195.70 73.86 L195.95 72.72 L196.21 71.57 L196.48 70.44 L196.75 69.30 L197.02 68.16 L197.30 67.03 L197.59 65.89 L197.88 64.76 L198.18 63.63 L198.48 62.50 L198.79 61.38 L199.10 60.25 L199.42 59.13 L199.74 58.01 L200.08 56.89 L200.41 55.77 L200.75 54.66 L201.10 53.54 L201.46 52.43 L201.82 51.32 L202.19 50.21 L202.56 49.11 L202.94 48.00 L203.33 46.90 L203.72 45.80 L204.13 44.70 L204.53 43.61 L204.95 42.51 L205.38 41.42 L205.81 40.34 L206.26 39.26 L206.72 38.19 L207.20 37.12 L207.70 36.07 L208.21 35.02 L208.74 33.99 L209.29 32.96 L209.86 31.95 L210.46 30.96 L211.08 29.97 L211.73 29.00 L212.40 28.05 L213.10 27.12 L213.84 26.20 L214.60 25.31 L215.40 24.43 L216.23 23.57 L217.09 22.74 L217.98 21.93 L218.90 21.14 L219.84 20.38 L220.81 19.64 L221.81 18.93 L222.82 18.25 L223.85 17.60 L224.90 16.98 L225.97 16.38 L227.05 15.82 L228.14 15.29 L229.24 14.80 L230.35 14.34 L231.47 13.91 L232.60 13.51 L233.73 13.13 L234.87 12.79 L236.02 12.47 L237.17 12.17 L238.33 11.89 L239.49 11.64 L240.66 11.40 L241.83 11.17 L243.00 10.96 L244.18 10.76 L245.36 10.58 L246.54 10.40 L247.71 10.22 L248.89 10.06 L250.07 9.89 L251.25 9.73 L252.43 9.57 L253.61 9.42 L254.78 9.26 L255.96 9.11 L257.14 8.96 L258.31 8.82 L259.49 8.68 L260.66 8.53 L261.83 8.40 L263.01 8.26 L264.18 8.13 L265.35 7.99 L266.53 7.87 L267.70 7.74 L268.87 7.62 L270.04 7.49 L271.22 7.37 L272.39 7.26 L273.56 7.14 L274.73 7.03 L275.90 6.92 L277.07 6.81 L278.25 6.71 L279.42 6.61 L280.59 6.51 L281.76 6.41 L282.93 6.31 L284.10 6.22 L285.28 6.13 L286.45 6.04 L287.62 5.95 L288.79 5.87 L289.97 5.79 L291.14 5.71 L292.31 5.63 L293.49 5.55 L294.66 5.48 L295.84 5.41 L297.01 5.34 L298.19 5.28 L299.36 5.21 L300.54 5.15 L301.72 5.09 L302.89 5.03 L304.07 4.98 L305.25 4.92 L306.43 4.87 L307.61 4.82 L308.79 4.78 L309.97 4.73 L311.16 4.69 L312.34 4.65 L313.52 4.61 L314.71 4.57 L315.89 4.54 L317.08 4.51 L318.27 4.48 L319.46 4.45 L320.65 4.42 L321.84 4.40 L323.03 4.38 L324.22 4.36 L325.41 4.34 L326.61 4.32 L327.80 4.31 L329.00 4.30" stroke="#0000ff" stroke-width="1.6"/>
<path d="M46.00 274.49 L47.13 274.49 L48.26 274.49 L49.40 274.49 L50.54 274.49 L51.68 274.49 L52.83 274.49 L53.98 274.49 L55.14 274.49 L56.29 274.49 L57.46 274.49 L58.62 274.49 L59.79 274.49 L60.96 274.49 L62.14 274.48 L63.32 274.44 L64.50 274.39 L65.68 274.34 L66.87 274.29 L68.05 274.23 L69.25 274.16 L70.44 274.10 L71.63 274.02 L72.83 273.95 L74.03 273.87 L75.23 273.79 L76.43 273.71 L77.63 273.63 L78.84 273.54 L80.04 273.45 L81.25 273.36 L82.45 273.26 L83.66 273.17 L84.87 273.07 L86.08 272.97 L87.29 272.87 L88.50 272.77 L89.71 272.67 L90.92 272.57 L92.13 272.47 L93.34 272.37 L94.56 272.27 L95.77 272.17 L96.97 272.07 L98.18 271.97 L99.39 271.87 L100.60 271.77 L101.81 271.67 L103.01 271.58 L104.22 271.48 L105.42 271.38 L106.62 271.28 L107.82 271.18 L109.02 271.07 L110.21 270.96 L111.41 270.85 L112.60 270.73 L113.79 270.61 L114.98 270.48 L116.17 270.34 L117.35 270.20 L118.53 270.05 L119.71 269.89 L120.88 269.72 L122.06 269.54 L123.23 269.35 L124.39 269.16 L125.55 268.94 L126.71 268.72 L127.87 268.49 L129.02 268.24 L130.17 267.97 L131.31 267.70 L132.45 267.40 L133.59 267.09 L134.72 266.77 L135.85 266.43 L136.97 266.07 L138.09 265.69 L139.20 265.29 L140.30 264.87 L141.39 264.44 L142.48 263.98 L143.56 263.50 L144.63 263.00 L145.68 262.48 L146.73 261.93 L147.76 261.36 L148.78 260.77 L149.79 260.15 L150.78 259.51 L151.75 258.84 L152.71 258.15 L153.66 257.44 L154.58 256.70 L155.49 255.95 L156.38 255.17 L157.24 254.37 L158.09 253.56 L158.92 252.72 L159.72 251.87 L160.50 250.99 L161.26 250.10 L161.99 249.20 L162.70 248.27 L163.38 247.33 L164.04 246.38 L164.67 245.41 L165.28 244.42 L165.87 243.42 L166.43 242.41 L166.97 241.39 L167.50 240.35 L168.00 239.31 L168.48 238.25 L168.95 237.18 L169.40 236.10 L169.83 235.02 L170.25 233.92 L170.65 232.82 L171.04 231.71 L171.42 230.59 L171.79 229.47 L172.14 228.34 L172.49 227.20 L172.82 226.07 L173.15 224.92 L173.47 223.78 L173.78 222.63 L174.09 221.48 L174.39 220.33 L174.69 219.18 L174.99 218.02 L175.28 216.87 L175.56 215.71 L175.84 214.55 L176.12 213.39 L176.39 212.23 L176.66 211.07 L176.92 209.91 L177.18 208.74 L177.44 207.58 L177.69 206.41 L177.94 205.24 L178.18 204.08 L178.42 202.91 L178.66 201.74 L178.89 200.56 L179.12 199.39 L179.34 198.22 L179.57 197.04 L179.78 195.87 L180.00 194.69 L180.21 193.51 L180.42 192.34 L180.63 191.16 L180.83 189.98 L181.03 188.80 L181.22 187.62 L181.41 186.43 L181.60 185.25 L181.79 184.07 L181.98 182.89 L182.16 181.70 L182.34 180.52 L182.51 179.33 L182.69 178.14 L182.86 176.96 L183.03 175.77 L183.19 174.58 L183.36 173.39 L183.52 172.20 L183.68 171.01 L183.83 169.82 L183.99 168.63 L184.14 167.44 L184.29 166.25 L184.44 165.06 L184.59 163.87 L184.73 162.68 L184.87 161.49 L185.02 160.29 L185.16 159.10 L185.29 157.91 L185.43 156.72 L185.56 155.52 L185.70 154.33 L185.83 153.14 L185.96 151.94 L186.09 150.75 L186.22 149.56 L186.35 148.36 L186.47 147.17 L186.60 145.98 L186.72 144.78 L186.84 143.59 L186.97 142.40 L187.09 141.20 L187.21 140.01 L187.33 138.82 L187.45 137.63 L187.57 136.43 L187.68 135.24 L187.80 134.05 L187.92 132.86 L188.04 131.67 L188.15 130.48 L188.27 129.28 L188.38 128.09 L188.50 126.90 L188.62 125.72 L188.73 124.53 L188.85 123.34 L188.96 122.15 L189.08 120.96 L189.20 119.77 L189.31 118.59 L189.43 117.40 L189.55 116.22 L189.66 115.03 L189.78 113.85 L189.90 112.66 L190.02 111.48 L190.14 110.30 L190.26 109.12 L190.38 107.94 L190.51 106.76 L190.63 105.58 L190.76 104.40 L190.89 103.22 L191.01 102.05 L191.15 100.87 L191.28 99.70 L191.42 98.52 L191.55 97.35 L191.70 96.18 L191.84 95.01 L191.99 93.84 L192.14 92.67 L192.29 91.50 L192.45 90.33 L192.61 89.17 L192.78 88.00 L192.94 86.84 L193.12 85.68 L193.30 84.52 L193.48 83.36 L193.66 82.20 L193.86 81.04 L194.05 79.89 L194.25 78.73 L194.46 77.58 L194.68 76.43 L194.89 75.27 L195.12 74.13 L195.35 72.98 L195.59 71.83 L195.83 70.69 L196.08 69.54 L196.34 68.40 L196.60 67.26 L196.87 66.12 L197.15 64.99 L197.43 63.85 L197.73 62.72 L198.03 61.58 L198.33 60.45 L198.65 59.32 L198.98 58.20 L199.31 57.07 L199.65 55.95 L200.00 54.82 L200.36 53.70 L200.73 52.59 L201.11 51.47 L201.50 50.35 L201.89 49.24 L202.30 48.13 L202.72 47.02 L203.14 45.91 L203.58 44.81 L204.03 43.71 L204.48 42.61 L204.95 41.51 L205.44 40.42 L205.93 39.33 L206.44 38.25 L206.97 37.18 L207.51 36.12 L208.07 35.07 L208.64 34.02 L209.23 32.99 L209.84 31.97 L210.47 30.97 L211.12 29.98 L211.79 29.00 L212.49 28.05 L213.20 27.10 L213.94 26.18 L214.70 25.28 L215.49 24.40 L216.30 23.54 L217.13 22.70 L217.99 21.88 L218.87 21.09 L219.78 20.32 L220.70 19.59 L221.65 18.87 L222.61 18.19 L223.60 17.53 L224.60 16.91 L225.62 16.32 L226.66 15.76 L227.72 15.23 L228.79 14.74 L229.87 14.28 L230.97 13.85 L232.09 13.45 L233.21 13.08 L234.35 12.74 L235.50 12.42 L236.65 12.13 L237.82 11.85 L238.99 11.60 L240.17 11.36 L241.36 11.14 L242.55 10.94 L243.74 10.74 L244.94 10.56 L246.14 10.38 L247.34 10.22 L248.54 10.05 L249.74 9.89 L250.94 9.74 L252.14 9.58 L253.33 9.43 L254.53 9.28 L255.72 9.13 L256.91 8.99 L258.11 8.84 L259.30 8.70 L260.49 8.56 L261.68 8.43 L262.86 8.29 L264.05 8.16 L265.24 8.03 L266.42 7.91 L267.61 7.78 L268.79 7.66 L269.97 7.54 L271.16 7.42 L272.34 7.30 L273.52 7.19 L274.70 7.08 L275.88 6.97 L277.06 6.86 L278.24 6.75 L279.42 6.65 L280.60 6.55 L281.78 6.45 L282.95 6.36 L284.13 6.26 L285.31 6.17 L286.49 6.08 L287.66 5.99 L288.84 5.91 L290.02 5.83 L291.19 5.74 L292.37 5.67 L293.54 5.59 L294.72 5.51 L295.90 5.44 L297.07 5.37 L298.25 5.30 L299.43 5.24 L300.60 5.18 L301.78 5.11 L302.96 5.06 L304.14 5.00 L305.32 4.94 L306.49 4.89 L307.67 4.84 L308.85 4.79 L310.03 4.75 L311.21 4.70 L312.39 4.66 L313.57 4.62 L314.76 4.58 L315.94 4.55 L317.12 4.51 L318.31 4.48 L319.49 4.45 L320.68 4.43 L321.86 4.40 L323.05 4.38 L324.24 4.36 L325.43 4.34 L326.62 4.32 L327.81 4.31 L329.00 4.30" stroke="#800080" stroke-width="1.6"/>
<path d="M46.00 274.49 L47.15 274.49 L48.31 274.49 L49.46 274.49 L50.62 274.49 L51.78 274.49 L52.94 274.49 L54.11 274.49 L55.28 274.49 L56.45 274.49 L57.62 274.49 L58.79 274.49 L59.96 274.49 L61.14 274.49 L62.32 274.49 L63.50 274.49 L64.68 274.49 L65.86 274.49 L67.05 274.49 L68.23 274.49 L69.42 274.49 L70.61 274.49 L71.80 274.49 L72.99 274.49 L74.18 274.49 L75.37 274.49 L76.56 274.49 L77.75 274.49 L78.95 274.49 L80.14 274.45 L81.34 274.36 L82.53 274.27 L83.73 274.18 L84.92 274.08 L86.12 273.98 L87.31 273.88 L88.51 273.78 L89.70 273.68 L90.90 273.57 L92.09 273.47 L93.29 273.37 L94.48 273.26 L95.68 273.16 L96.87 273.06 L98.06 272.95 L99.25 272.85 L100.44 272.75 L101.63 272.66 L102.82 272.56 L104.01 272.47 L105.20 272.37 L106.39 272.28 L107.57 272.18 L108.75 272.09 L109.94 271.99 L111.12 271.90 L112.30 271.80 L113.47 271.70 L114.65 271.60 L115.82 271.49 L117.00 271.39 L118.17 271.28 L119.34 271.16 L120.50 271.04 L121.67 270.91 L122.83 270.77 L123.99 270.63 L125.14 270.47 L126.30 270.29 L127.45 270.11 L128.60 269.90 L129.75 269.68 L130.89 269.43 L132.04 269.17 L133.17 268.89 L134.31 268.58 L135.44 268.24 L136.57 267.88 L137.70 267.49 L138.82 267.08 L139.93 266.64 L141.04 266.18 L142.14 265.69 L143.24 265.18 L144.32 264.65 L145.40 264.09 L146.46 263.51 L147.52 262.91 L148.57 262.29 L149.60 261.65 L150.62 260.99 L151.62 260.30 L152.62 259.60 L153.60 258.88 L154.56 258.14 L155.50 257.38 L156.43 256.60 L157.34 255.81 L158.24 254.99 L159.11 254.17 L159.96 253.32 L160.80 252.46 L161.61 251.59 L162.40 250.70 L163.17 249.79 L163.91 248.87 L164.63 247.94 L165.33 247.00 L166.00 246.04 L166.64 245.07 L167.27 244.09 L167.87 243.10 L168.44 242.09 L169.00 241.08 L169.54 240.06 L170.06 239.02 L170.56 237.98 L171.04 236.93 L171.51 235.87 L171.96 234.80 L172.39 233.73 L172.81 232.65 L173.22 231.56 L173.61 230.47 L173.99 229.37 L174.36 228.27 L174.72 227.16 L175.07 226.04 L175.41 224.93 L175.75 223.81 L176.07 222.68 L176.39 221.56 L176.70 220.43 L177.01 219.30 L177.32 218.17 L177.61 217.04 L177.91 215.90 L178.19 214.76 L178.48 213.63 L178.76 212.49 L179.03 211.35 L179.30 210.20 L179.56 209.06 L179.82 207.91 L180.08 206.76 L180.33 205.62 L180.58 204.46 L180.82 203.31 L181.06 202.16 L181.30 201.00 L181.53 199.85 L181.75 198.69 L181.98 197.53 L182.20 196.37 L182.42 195.21 L182.63 194.05 L182.84 192.89 L183.04 191.72 L183.25 190.55 L183.45 189.39 L183.64 188.22 L183.84 187.05 L184.03 185.88 L184.21 184.71 L184.40 183.54 L184.58 182.36 L184.76 181.19 L184.94 180.01 L185.11 178.84 L185.29 177.66 L185.46 176.48 L185.62 175.31 L185.79 174.13 L185.95 172.95 L186.11 171.77 L186.27 170.58 L186.43 169.40 L186.59 168.22 L186.74 167.04 L186.89 165.85 L187.04 164.67 L187.19 163.48 L187.34 162.30 L187.49 161.11 L187.63 159.93 L187.78 158.74 L187.92 157.55 L188.07 156.37 L188.21 155.18 L188.35 153.99 L188.49 152.80 L188.63 151.61 L188.77 150.42 L188.90 149.24 L189.04 148.05 L189.18 146.86 L189.32 145.67 L189.46 144.48 L189.59 143.29 L189.73 142.10 L189.87 140.91 L190.00 139.72 L190.14 138.53 L190.28 137.34 L190.42 136.15 L190.56 134.96 L190.70 133.77 L190.84 132.58 L190.98 131.39 L191.12 130.20 L191.26 129.02 L191.40 127.83 L191.55 126.64 L191.69 125.45 L191.84 124.27 L191.98 123.08 L192.13 121.89 L192.28 120.71 L192.44 119.52 L192.59 118.34 L192.74 117.15 L192.90 115.97 L193.06 114.78 L193.22 113.60 L193.38 112.42 L193.55 111.24 L193.71 110.06 L193.88 108.88 L194.05 107.70 L194.22 106.52 L194.40 105.34 L194.58 104.17 L194.75 102.99 L194.94 101.81 L195.12 100.64 L195.30 99.47 L195.49 98.29 L195.68 97.12 L195.87 95.95 L196.06 94.78 L196.26 93.61 L196.46 92.45 L196.66 91.28 L196.86 90.11 L197.06 88.95 L197.27 87.79 L197.47 86.63 L197.68 85.47 L197.89 84.31 L198.11 83.15 L198.32 81.99 L198.54 80.84 L198.76 79.68 L198.98 78.53 L199.21 77.38 L199.43 76.23 L199.66 75.08 L199.89 73.94 L200.12 72.79 L200.35 71.65 L200.59 70.51 L200.83 69.37 L201.07 68.23 L201.31 67.09 L201.55 65.96 L201.80 64.82 L202.05 63.69 L202.30 62.56 L202.55 61.43 L202.80 60.31 L203.06 59.18 L203.31 58.06 L203.57 56.94 L203.84 55.82 L204.10 54.70 L204.38 53.59 L204.66 52.48 L204.96 51.36 L205.27 50.26 L205.60 49.15 L205.94 48.04 L206.30 46.94 L206.69 45.84 L207.09 44.74 L207.53 43.65 L207.98 42.56 L208.47 41.47 L208.97 40.38 L209.51 39.31 L210.06 38.23 L210.64 37.17 L211.24 36.12 L211.86 35.07 L212.51 34.04 L213.17 33.01 L213.86 32.00 L214.57 31.00 L215.29 30.02 L216.04 29.05 L216.80 28.10 L217.58 27.17 L218.38 26.25 L219.20 25.35 L220.03 24.47 L220.88 23.62 L221.74 22.78 L222.62 21.97 L223.51 21.18 L224.42 20.41 L225.34 19.68 L226.28 18.96 L227.22 18.28 L228.18 17.62 L229.15 16.99 L230.14 16.40 L231.13 15.83 L232.13 15.29 L233.14 14.78 L234.17 14.30 L235.20 13.84 L236.24 13.40 L237.29 12.99 L238.36 12.60 L239.43 12.23 L240.50 11.88 L241.59 11.55 L242.69 11.23 L243.79 10.93 L244.90 10.65 L246.02 10.38 L247.14 10.12 L248.28 9.87 L249.42 9.63 L250.56 9.40 L251.71 9.18 L252.87 8.97 L254.04 8.76 L255.21 8.57 L256.38 8.38 L257.56 8.20 L258.75 8.03 L259.94 7.87 L261.13 7.71 L262.33 7.56 L263.53 7.42 L264.74 7.28 L265.95 7.15 L267.16 7.03 L268.38 6.92 L269.60 6.80 L270.82 6.70 L272.04 6.60 L273.27 6.50 L274.49 6.42 L275.72 6.33 L276.96 6.25 L278.19 6.18 L279.42 6.10 L280.65 6.04 L281.89 5.97 L283.12 5.92 L284.36 5.86 L285.59 5.81 L286.83 5.76 L288.06 5.71 L289.29 5.67 L290.52 5.62 L291.75 5.59 L292.98 5.55 L294.21 5.51 L295.43 5.48 L296.65 5.45 L297.87 5.41 L299.09 5.38 L300.30 5.36 L301.51 5.33 L302.72 5.30 L303.92 5.27 L305.12 5.24 L306.32 5.21 L307.51 5.19 L308.70 5.16 L309.88 5.13 L311.05 5.09 L312.23 5.06 L313.39 5.03 L314.55 4.99 L315.70 4.96 L316.85 4.92 L317.99 4.88 L319.13 4.83 L320.25 4.79 L321.37 4.74 L322.49 4.68 L323.59 4.63 L324.69 4.57 L325.78 4.51 L326.86 4.44 L327.93 4.37 L328.99 4.30" stroke="#000000" stroke-width="1.6"/>
<path d="M46.00 269.02 L47.42 268.72 L48.84 268.40 L50.27 268.08 L51.69 267.74 L53.11 267.39 L54.53 267.02 L55.95 266.64 L57.38 266.25 L58.80 265.84 L60.22 265.41 L61.64 264.97 L63.07 264.52 L64.49 264.04 L65.91 263.55 L67.33 263.05 L68.75 262.52 L70.18 261.98 L71.60 261.42 L73.02 260.84 L74.44 260.24 L75.86 259.63 L77.29 258.99 L78.71 258.33 L80.13 257.65 L81.55 256.95 L82.97 256.23 L84.40 255.49 L85.82 254.72 L87.24 253.94 L88.66 253.13 L90.09 252.29 L91.51 251.44 L92.93 250.56 L94.35 249.65 L95.77 248.73 L97.20 247.77 L98.62 246.80 L100.04 245.79 L101.46 244.76 L102.88 243.71 L104.31 242.63 L105.73 241.53 L107.15 240.40 L108.57 239.24 L109.99 238.06 L111.42 236.85 L112.84 235.61 L114.26 234.35 L115.68 233.06 L117.11 231.75 L118.53 230.40 L119.95 229.04 L121.37 227.64 L122.79 226.22 L124.22 224.77 L125.64 223.30 L127.06 221.80 L128.48 220.27 L129.90 218.72 L131.33 217.14 L132.75 215.54 L134.17 213.91 L135.59 212.26 L137.02 210.58 L138.44 208.88 L139.86 207.15 L141.28 205.40 L142.70 203.63 L144.13 201.84 L145.55 200.02 L146.97 198.18 L148.39 196.32 L149.81 194.44 L151.24 192.54 L152.66 190.62 L154.08 188.68 L155.50 186.72 L156.92 184.74 L158.35 182.75 L159.77 180.74 L161.19 178.71 L162.61 176.67 L164.04 174.61 L165.46 172.54 L166.88 170.46 L168.30 168.37 L169.72 166.26 L171.15 164.14 L172.57 162.02 L173.99 159.88 L175.41 157.74 L176.83 155.58 L178.26 153.43 L179.68 151.26 L181.10 149.09 L182.52 146.92 L183.94 144.75 L185.37 142.57 L186.79 140.39 L188.21 138.21 L189.63 136.03 L191.06 133.85 L192.48 131.68 L193.90 129.51 L195.32 127.34 L196.74 125.17 L198.17 123.02 L199.59 120.86 L201.01 118.72 L202.43 116.58 L203.85 114.46 L205.28 112.34 L206.70 110.23 L208.12 108.14 L209.54 106.06 L210.96 103.99 L212.39 101.93 L213.81 99.89 L215.23 97.86 L216.65 95.85 L218.08 93.86 L219.50 91.88 L220.92 89.92 L222.34 87.98 L223.76 86.06 L225.19 84.16 L226.61 82.28 L228.03 80.42 L229.45 78.58 L230.87 76.76 L232.30 74.97 L233.72 73.20 L235.14 71.45 L236.56 69.72 L237.98 68.02 L239.41 66.34 L240.83 64.69 L242.25 63.06 L243.67 61.46 L245.10 59.88 L246.52 58.33 L247.94 56.80 L249.36 55.30 L250.78 53.83 L252.21 52.38 L253.63 50.96 L255.05 49.56 L256.47 48.20 L257.89 46.85 L259.32 45.54 L260.74 44.25 L262.16 42.99 L263.58 41.75 L265.01 40.54 L266.43 39.36 L267.85 38.20 L269.27 37.07 L270.69 35.97 L272.12 34.89 L273.54 33.84 L274.96 32.81 L276.38 31.80 L277.80 30.83 L279.23 29.87 L280.65 28.95 L282.07 28.04 L283.49 27.16 L284.91 26.31 L286.34 25.47 L287.76 24.66 L289.18 23.88 L290.60 23.11 L292.03 22.37 L293.45 21.65 L294.87 20.95 L296.29 20.27 L297.71 19.61 L299.14 18.97 L300.56 18.36 L301.98 17.76 L303.40 17.18 L304.82 16.62 L306.25 16.08 L307.67 15.55 L309.09 15.05 L310.51 14.56 L311.93 14.08 L313.36 13.63 L314.78 13.19 L316.20 12.76 L317.62 12.35 L319.05 11.96 L320.47 11.58 L321.89 11.21 L323.31 10.86 L324.73 10.52 L326.16 10.20 L327.58 9.88 L329.00 9.58" stroke="#222" stroke-width="1.15" stroke-dasharray="5.5 3.5"/>
</g>
<g stroke="#3a3a3a" stroke-width="1.25" fill="none">
<path d="M37.80 3.40 L37.80 275.20 L337.90 275.20"/>
<line x1="37.80" y1="275.20" x2="41.30" y2="275.20"/>
<line x1="37.80" y1="248.02" x2="41.30" y2="248.02"/>
<line x1="37.80" y1="220.84" x2="41.30" y2="220.84"/>
<line x1="37.80" y1="193.66" x2="41.30" y2="193.66"/>
<line x1="37.80" y1="166.48" x2="41.30" y2="166.48"/>
<line x1="37.80" y1="139.30" x2="41.30" y2="139.30"/>
<line x1="37.80" y1="112.12" x2="41.30" y2="112.12"/>
<line x1="37.80" y1="84.94" x2="41.30" y2="84.94"/>
<line x1="37.80" y1="57.76" x2="41.30" y2="57.76"/>
<line x1="37.80" y1="30.58" x2="41.30" y2="30.58"/>
<line x1="37.80" y1="3.40" x2="41.30" y2="3.40"/>
<line x1="46.00" y1="275.20" x2="46.00" y2="272.00"/>
<line x1="116.75" y1="275.20" x2="116.75" y2="272.00"/>
<line x1="187.50" y1="275.20" x2="187.50" y2="272.00"/>
<line x1="258.25" y1="275.20" x2="258.25" y2="272.00"/>
<line x1="329.00" y1="275.20" x2="329.00" y2="272.00"/>
</g>
<g stroke="#3a3a3a" stroke-width="1" fill="none">
<line x1="63.69" y1="275.20" x2="63.69" y2="273.20"/>
<line x1="81.38" y1="275.20" x2="81.38" y2="273.20"/>
<line x1="99.06" y1="275.20" x2="99.06" y2="273.20"/>
<line x1="134.44" y1="275.20" x2="134.44" y2="273.20"/>
<line x1="152.12" y1="275.20" x2="152.12" y2="273.20"/>
<line x1="169.81" y1="275.20" x2="169.81" y2="273.20"/>
<line x1="205.19" y1="275.20" x2="205.19" y2="273.20"/>
<line x1="222.88" y1="275.20" x2="222.88" y2="273.20"/>
<line x1="240.56" y1="275.20" x2="240.56" y2="273.20"/>
<line x1="275.94" y1="275.20" x2="275.94" y2="273.20"/>
<line x1="293.62" y1="275.20" x2="293.62" y2="273.20"/>
<line x1="311.31" y1="275.20" x2="311.31" y2="273.20"/>
</g>
<g font-family="Liberation Sans, sans-serif" stroke="#111" stroke-width="0.18" font-size="9.8" fill="#111">
<text x="32.90" y="278.00" text-anchor="end" textLength="13.2" lengthAdjust="spacingAndGlyphs">0.0</text>
<text x="32.90" y="250.82" text-anchor="end" textLength="13.2" lengthAdjust="spacingAndGlyphs">0.1</text>
<text x="32.90" y="223.64" text-anchor="end" textLength="13.2" lengthAdjust="spacingAndGlyphs">0.2</text>
<text x="32.90" y="196.46" text-anchor="end" textLength="13.2" lengthAdjust="spacingAndGlyphs">0.3</text>
<text x="32.90" y="169.28" text-anchor="end" textLength="13.2" lengthAdjust="spacingAndGlyphs">0.4</text>
<text x="32.90" y="142.10" text-anchor="end" textLength="13.2" lengthAdjust="spacingAndGlyphs">0.5</text>
<text x="32.90" y="114.92" text-anchor="end" textLength="13.2" lengthAdjust="spacingAndGlyphs">0.6</text>
<text x="32.90" y="87.74" text-anchor="end" textLength="13.2" lengthAdjust="spacingAndGlyphs">0.7</text>
<text x="32.90" y="60.56" text-anchor="end" textLength="13.2" lengthAdjust="spacingAndGlyphs">0.8</text>
<text x="32.90" y="33.38" text-anchor="end" textLength="13.2" lengthAdjust="spacingAndGlyphs">0.9</text>
<text x="32.90" y="6.20" text-anchor="end" textLength="13.2" lengthAdjust="spacingAndGlyphs">1.0</text>
<text x="46.00" y="286.00" text-anchor="middle" textLength="11.3" lengthAdjust="spacingAndGlyphs">−2</text>
<text x="116.75" y="286.00" text-anchor="middle" textLength="11.3" lengthAdjust="spacingAndGlyphs">−1</text>
<text x="187.50" y="286.00" text-anchor="middle" textLength="5.2" lengthAdjust="spacingAndGlyphs">0</text>
<text x="258.25" y="286.00" text-anchor="middle" textLength="5.2" lengthAdjust="spacingAndGlyphs">1</text>
<text x="329.00" y="286.00" text-anchor="middle" textLength="5.2" lengthAdjust="spacingAndGlyphs">2</text>
</g>
<g fill="none" stroke-linejoin="round">
<path d="M408.30 273.87 L409.36 273.87 L410.41 273.87 L411.47 273.87 L412.54 273.87 L413.61 273.87 L414.68 273.87 L415.76 273.87 L416.84 273.87 L417.92 273.87 L419.01 273.87 L420.10 273.87 L421.19 273.87 L422.28 273.87 L423.38 273.87 L424.48 273.84 L425.58 273.79 L426.69 273.73 L427.79 273.67 L428.90 273.60 L430.01 273.53 L431.12 273.45 L432.23 273.36 L433.34 273.27 L434.46 273.17 L435.57 273.06 L436.69 272.94 L437.81 272.82 L438.92 272.69 L440.04 272.56 L441.16 272.42 L442.27 272.27 L443.39 272.11 L444.51 271.95 L445.62 271.77 L446.74 271.59 L447.86 271.41 L448.97 271.21 L450.08 271.01 L451.20 270.80 L452.31 270.58 L453.42 270.36 L454.53 270.12 L455.63 269.88 L456.74 269.63 L457.84 269.37 L458.94 269.11 L460.04 268.83 L461.13 268.55 L462.23 268.26 L463.32 267.96 L464.41 267.65 L465.49 267.33 L466.57 267.01 L467.65 266.67 L468.72 266.33 L469.80 265.98 L470.86 265.62 L471.93 265.24 L472.99 264.86 L474.04 264.48 L475.09 264.08 L476.14 263.67 L477.18 263.25 L478.22 262.83 L479.25 262.39 L480.28 261.94 L481.30 261.49 L482.31 261.02 L483.32 260.55 L484.33 260.06 L485.32 259.57 L486.31 259.06 L487.30 258.55 L488.27 258.02 L489.24 257.48 L490.20 256.94 L491.15 256.38 L492.09 255.81 L493.02 255.24 L493.95 254.65 L494.86 254.05 L495.77 253.44 L496.66 252.82 L497.54 252.19 L498.42 251.55 L499.28 250.89 L500.13 250.23 L500.97 249.55 L501.80 248.86 L502.62 248.17 L503.43 247.46 L504.22 246.74 L505.00 246.01 L505.78 245.27 L506.54 244.52 L507.29 243.75 L508.03 242.98 L508.76 242.20 L509.48 241.41 L510.19 240.61 L510.89 239.80 L511.58 238.99 L512.26 238.16 L512.93 237.32 L513.59 236.48 L514.25 235.63 L514.89 234.77 L515.52 233.90 L516.15 233.02 L516.77 232.14 L517.38 231.25 L517.98 230.35 L518.57 229.44 L519.16 228.53 L519.74 227.61 L520.31 226.69 L520.87 225.75 L521.43 224.81 L521.97 223.87 L522.52 222.92 L523.05 221.96 L523.58 221.00 L524.10 220.03 L524.62 219.06 L525.13 218.08 L525.63 217.10 L526.13 216.11 L526.62 215.12 L527.11 214.13 L527.59 213.13 L528.06 212.12 L528.53 211.11 L529.00 210.10 L529.46 209.09 L529.92 208.07 L530.37 207.05 L530.82 206.02 L531.26 205.00 L531.70 203.97 L532.14 202.93 L532.57 201.90 L533.00 200.86 L533.42 199.82 L533.84 198.78 L534.26 197.74 L534.68 196.70 L535.09 195.65 L535.50 194.61 L535.91 193.56 L536.32 192.52 L536.72 191.47 L537.12 190.42 L537.52 189.37 L537.92 188.32 L538.31 187.27 L538.70 186.21 L539.09 185.16 L539.48 184.11 L539.87 183.05 L540.25 182.00 L540.63 180.94 L541.01 179.88 L541.39 178.83 L541.76 177.77 L542.13 176.71 L542.51 175.65 L542.88 174.59 L543.24 173.53 L543.61 172.47 L543.97 171.41 L544.33 170.35 L544.69 169.29 L545.05 168.22 L545.41 167.16 L545.76 166.10 L546.11 165.03 L546.47 163.97 L546.81 162.90 L547.16 161.84 L547.51 160.77 L547.85 159.71 L548.20 158.64 L548.54 157.57 L548.88 156.51 L549.22 155.44 L549.56 154.37 L549.89 153.31 L550.23 152.24 L550.56 151.17 L550.89 150.11 L551.23 149.04 L551.56 147.97 L551.88 146.90 L552.21 145.84 L552.54 144.77 L552.86 143.70 L553.19 142.63 L553.51 141.56 L553.83 140.50 L554.16 139.43 L554.48 138.36 L554.80 137.29 L555.11 136.23 L555.43 135.16 L555.75 134.09 L556.06 133.03 L556.38 131.96 L556.69 130.89 L557.01 129.83 L557.32 128.76 L557.63 127.70 L557.95 126.63 L558.26 125.57 L558.57 124.50 L558.88 123.44 L559.19 122.38 L559.50 121.31 L559.81 120.25 L560.11 119.19 L560.42 118.13 L560.73 117.06 L561.04 116.00 L561.34 114.94 L561.65 113.88 L561.96 112.82 L562.26 111.77 L562.57 110.71 L562.87 109.65 L563.18 108.59 L563.49 107.54 L563.79 106.48 L564.10 105.43 L564.41 104.37 L564.71 103.32 L565.02 102.27 L565.33 101.22 L565.64 100.17 L565.96 99.12 L566.27 98.07 L566.59 97.02 L566.90 95.97 L567.22 94.92 L567.54 93.88 L567.86 92.83 L568.19 91.79 L568.51 90.75 L568.84 89.71 L569.17 88.67 L569.50 87.63 L569.84 86.59 L570.18 85.55 L570.52 84.51 L570.87 83.48 L571.21 82.45 L571.56 81.41 L571.92 80.38 L572.28 79.35 L572.64 78.32 L573.00 77.29 L573.37 76.27 L573.74 75.24 L574.12 74.22 L574.50 73.19 L574.89 72.17 L575.28 71.15 L575.67 70.13 L576.07 69.12 L576.47 68.10 L576.88 67.09 L577.30 66.07 L577.72 65.06 L578.14 64.05 L578.57 63.04 L579.01 62.04 L579.45 61.03 L579.89 60.03 L580.35 59.02 L580.80 58.02 L581.27 57.02 L581.74 56.03 L582.22 55.03 L582.70 54.04 L583.19 53.04 L583.69 52.05 L584.19 51.07 L584.70 50.08 L585.22 49.09 L585.75 48.11 L586.28 47.13 L586.82 46.15 L587.37 45.17 L587.92 44.19 L588.49 43.22 L589.06 42.25 L589.64 41.28 L590.22 40.31 L590.82 39.35 L591.43 38.39 L592.04 37.44 L592.66 36.49 L593.29 35.55 L593.93 34.62 L594.58 33.70 L595.24 32.78 L595.91 31.87 L596.59 30.98 L597.28 30.09 L597.98 29.21 L598.69 28.35 L599.41 27.50 L600.14 26.66 L600.88 25.83 L601.63 25.02 L602.40 24.23 L603.17 23.45 L603.96 22.69 L604.76 21.94 L605.57 21.21 L606.39 20.50 L607.22 19.81 L608.07 19.13 L608.93 18.48 L609.80 17.85 L610.68 17.24 L611.58 16.65 L612.48 16.08 L613.40 15.52 L614.33 14.99 L615.27 14.47 L616.22 13.98 L617.18 13.50 L618.16 13.04 L619.14 12.59 L620.13 12.17 L621.13 11.76 L622.13 11.36 L623.15 10.98 L624.18 10.62 L625.21 10.27 L626.25 9.94 L627.30 9.62 L628.36 9.32 L629.42 9.03 L630.49 8.75 L631.57 8.49 L632.65 8.24 L633.74 8.00 L634.83 7.77 L635.93 7.56 L637.04 7.36 L638.15 7.16 L639.26 6.98 L640.38 6.81 L641.50 6.65 L642.63 6.50 L643.76 6.36 L644.89 6.23 L646.02 6.11 L647.16 6.00 L648.30 5.89 L649.45 5.79 L650.59 5.70 L651.74 5.62 L652.88 5.54 L654.03 5.47 L655.18 5.41 L656.33 5.35 L657.48 5.30 L658.63 5.25 L659.78 5.21 L660.93 5.17 L662.07 5.13 L663.22 5.10 L664.36 5.07 L665.51 5.05 L666.65 5.03 L667.79 5.01 L668.92 4.99 L670.06 4.98 L671.19 4.96 L672.31 4.95 L673.44 4.94 L674.56 4.93 L675.67 4.92 L676.78 4.90 L677.89 4.89 L678.99 4.88 L680.08 4.86 L681.17 4.85 L682.26 4.83 L683.33 4.81 L684.40 4.78 L685.47 4.76 L686.53 4.73 L687.58 4.69 L688.62 4.66 L689.66 4.61 L690.68 4.57 L691.70 4.52" stroke="#ff0000" stroke-width="1.65" stroke-dasharray="2.2 1.9"/>
<path d="M408.30 274.14 L409.42 274.04 L410.54 273.94 L411.66 273.85 L412.78 273.76 L413.91 273.67 L415.03 273.59 L416.16 273.52 L417.29 273.45 L418.43 273.38 L419.56 273.32 L420.70 273.26 L421.84 273.20 L422.98 273.15 L424.12 273.10 L425.27 273.05 L426.41 273.00 L427.56 272.96 L428.71 272.92 L429.86 272.88 L431.01 272.84 L432.16 272.80 L433.31 272.76 L434.46 272.73 L435.62 272.69 L436.77 272.66 L437.93 272.62 L439.08 272.59 L440.24 272.55 L441.40 272.51 L442.56 272.47 L443.72 272.44 L444.88 272.40 L446.03 272.35 L447.19 272.31 L448.35 272.27 L449.51 272.22 L450.67 272.17 L451.83 272.11 L452.99 272.06 L454.15 272.00 L455.31 271.94 L456.47 271.87 L457.63 271.80 L458.78 271.73 L459.94 271.65 L461.10 271.57 L462.25 271.48 L463.41 271.39 L464.56 271.29 L465.72 271.19 L466.87 271.08 L468.02 270.96 L469.17 270.84 L470.32 270.72 L471.47 270.58 L472.61 270.44 L473.76 270.29 L474.90 270.14 L476.04 269.98 L477.18 269.81 L478.32 269.63 L479.46 269.44 L480.59 269.25 L481.73 269.05 L482.86 268.83 L483.98 268.61 L485.11 268.37 L486.22 268.12 L487.34 267.86 L488.45 267.58 L489.55 267.29 L490.64 266.98 L491.73 266.66 L492.81 266.31 L493.88 265.95 L494.95 265.57 L496.00 265.17 L497.05 264.75 L498.08 264.30 L499.11 263.84 L500.12 263.35 L501.12 262.83 L502.11 262.29 L503.09 261.73 L504.05 261.14 L505.00 260.53 L505.94 259.90 L506.87 259.25 L507.78 258.58 L508.67 257.89 L509.56 257.18 L510.43 256.45 L511.28 255.70 L512.12 254.94 L512.95 254.16 L513.76 253.36 L514.55 252.54 L515.33 251.72 L516.10 250.87 L516.84 250.02 L517.58 249.15 L518.29 248.27 L518.99 247.37 L519.67 246.47 L520.34 245.55 L520.99 244.62 L521.63 243.68 L522.25 242.73 L522.86 241.77 L523.45 240.81 L524.03 239.83 L524.60 238.84 L525.15 237.85 L525.70 236.85 L526.23 235.84 L526.75 234.82 L527.25 233.80 L527.75 232.77 L528.23 231.73 L528.71 230.69 L529.17 229.64 L529.63 228.59 L530.07 227.54 L530.51 226.48 L530.94 225.41 L531.36 224.35 L531.77 223.28 L532.17 222.20 L532.56 221.13 L532.95 220.06 L533.33 218.98 L533.71 217.90 L534.07 216.82 L534.44 215.73 L534.79 214.65 L535.14 213.56 L535.48 212.47 L535.81 211.38 L536.15 210.29 L536.47 209.19 L536.79 208.10 L537.10 207.00 L537.41 205.90 L537.72 204.80 L538.02 203.70 L538.31 202.60 L538.60 201.49 L538.89 200.38 L539.17 199.28 L539.45 198.17 L539.72 197.06 L539.99 195.94 L540.26 194.83 L540.53 193.72 L540.79 192.60 L541.05 191.48 L541.31 190.37 L541.56 189.25 L541.81 188.13 L542.06 187.01 L542.31 185.88 L542.56 184.76 L542.80 183.63 L543.05 182.51 L543.29 181.38 L543.53 180.26 L543.77 179.13 L544.01 178.00 L544.25 176.87 L544.49 175.74 L544.73 174.61 L544.97 173.48 L545.21 172.34 L545.44 171.21 L545.68 170.08 L545.93 168.94 L546.17 167.81 L546.41 166.67 L546.65 165.53 L546.90 164.40 L547.14 163.26 L547.39 162.12 L547.64 160.98 L547.89 159.85 L548.13 158.71 L548.38 157.57 L548.63 156.43 L548.88 155.29 L549.14 154.15 L549.39 153.01 L549.64 151.87 L549.89 150.73 L550.14 149.59 L550.40 148.45 L550.65 147.31 L550.90 146.17 L551.16 145.03 L551.41 143.89 L551.66 142.75 L551.92 141.61 L552.17 140.47 L552.42 139.33 L552.67 138.19 L552.92 137.05 L553.17 135.92 L553.43 134.78 L553.68 133.64 L553.93 132.50 L554.17 131.36 L554.42 130.23 L554.67 129.09 L554.92 127.95 L555.16 126.82 L555.41 125.68 L555.65 124.55 L555.89 123.42 L556.13 122.28 L556.37 121.15 L556.61 120.02 L556.85 118.89 L557.09 117.76 L557.32 116.63 L557.56 115.50 L557.79 114.37 L558.02 113.24 L558.25 112.12 L558.47 110.99 L558.70 109.87 L558.92 108.75 L559.15 107.62 L559.37 106.50 L559.59 105.38 L559.81 104.27 L560.03 103.15 L560.26 102.03 L560.48 100.92 L560.70 99.80 L560.92 98.69 L561.15 97.58 L561.37 96.47 L561.60 95.36 L561.83 94.25 L562.06 93.15 L562.30 92.04 L562.53 90.94 L562.77 89.84 L563.01 88.74 L563.26 87.64 L563.50 86.54 L563.76 85.45 L564.01 84.35 L564.27 83.26 L564.54 82.17 L564.80 81.08 L565.08 80.00 L565.36 78.91 L565.64 77.83 L565.93 76.75 L566.22 75.67 L566.52 74.59 L566.83 73.52 L567.14 72.44 L567.46 71.37 L567.79 70.30 L568.13 69.24 L568.47 68.17 L568.82 67.11 L569.17 66.05 L569.54 64.99 L569.91 63.93 L570.29 62.88 L570.68 61.83 L571.08 60.78 L571.49 59.73 L571.90 58.69 L572.33 57.65 L572.77 56.61 L573.22 55.57 L573.67 54.54 L574.14 53.50 L574.62 52.47 L575.11 51.45 L575.61 50.42 L576.12 49.40 L576.65 48.38 L577.18 47.37 L577.73 46.35 L578.29 45.34 L578.87 44.33 L579.45 43.33 L580.05 42.33 L580.67 41.33 L581.29 40.33 L581.93 39.34 L582.59 38.35 L583.25 37.36 L583.93 36.39 L584.63 35.42 L585.33 34.45 L586.05 33.50 L586.79 32.55 L587.53 31.62 L588.29 30.70 L589.06 29.79 L589.84 28.89 L590.64 28.01 L591.44 27.14 L592.26 26.29 L593.09 25.45 L593.93 24.64 L594.79 23.84 L595.65 23.06 L596.53 22.30 L597.42 21.56 L598.32 20.85 L599.23 20.16 L600.15 19.49 L601.08 18.85 L602.02 18.24 L602.97 17.65 L603.94 17.09 L604.91 16.56 L605.89 16.05 L606.89 15.58 L607.89 15.12 L608.90 14.70 L609.92 14.29 L610.95 13.91 L611.99 13.54 L613.04 13.19 L614.09 12.86 L615.16 12.55 L616.23 12.25 L617.31 11.96 L618.39 11.68 L619.48 11.41 L620.58 11.15 L621.69 10.90 L622.80 10.65 L623.91 10.41 L625.04 10.18 L626.17 9.95 L627.30 9.73 L628.44 9.52 L629.58 9.31 L630.73 9.11 L631.88 8.92 L633.04 8.73 L634.20 8.55 L635.36 8.38 L636.53 8.21 L637.70 8.04 L638.87 7.88 L640.05 7.73 L641.22 7.58 L642.40 7.44 L643.58 7.30 L644.77 7.17 L645.95 7.04 L647.14 6.92 L648.32 6.80 L649.51 6.69 L650.70 6.58 L651.89 6.47 L653.07 6.37 L654.26 6.27 L655.45 6.18 L656.63 6.09 L657.82 6.00 L659.00 5.92 L660.19 5.84 L661.37 5.76 L662.54 5.69 L663.72 5.62 L664.89 5.55 L666.07 5.49 L667.23 5.43 L668.40 5.37 L669.56 5.31 L670.72 5.26 L671.87 5.21 L673.02 5.16 L674.17 5.11 L675.31 5.06 L676.44 5.02 L677.57 4.98 L678.70 4.93 L679.82 4.89 L680.93 4.86 L682.04 4.82 L683.14 4.78 L684.24 4.75 L685.32 4.71 L686.41 4.68 L687.48 4.64 L688.55 4.61 L689.60 4.58 L690.65 4.54 L691.70 4.51" stroke="#ff8c00" stroke-width="1.65" stroke-dasharray="2.2 1.9"/>
<path d="M408.30 275.24 L409.41 275.10 L410.52 274.98 L411.63 274.87 L412.75 274.77 L413.88 274.68 L415.01 274.60 L416.15 274.52 L417.29 274.45 L418.43 274.39 L419.58 274.34 L420.73 274.30 L421.89 274.26 L423.05 274.22 L424.22 274.20 L425.38 274.17 L426.56 274.16 L427.73 274.15 L428.91 274.14 L430.09 274.13 L431.27 274.13 L432.46 274.13 L433.65 274.13 L434.84 274.13 L436.03 274.13 L437.23 274.13 L438.42 274.13 L439.62 274.13 L440.82 274.13 L442.02 274.13 L443.23 274.13 L444.43 274.13 L445.63 274.13 L446.84 274.13 L448.05 274.13 L449.25 274.13 L450.46 274.13 L451.67 274.13 L452.87 274.13 L454.08 274.13 L455.29 274.13 L456.49 274.13 L457.70 274.13 L458.90 274.13 L460.11 274.13 L461.31 274.13 L462.51 274.12 L463.71 274.07 L464.91 274.01 L466.10 273.95 L467.30 273.88 L468.49 273.80 L469.68 273.72 L470.87 273.62 L472.05 273.52 L473.24 273.40 L474.42 273.28 L475.59 273.14 L476.77 273.00 L477.94 272.84 L479.11 272.68 L480.27 272.50 L481.43 272.31 L482.59 272.10 L483.74 271.88 L484.89 271.65 L486.03 271.41 L487.17 271.15 L488.30 270.88 L489.43 270.59 L490.56 270.29 L491.68 269.97 L492.79 269.64 L493.90 269.29 L495.00 268.92 L496.10 268.53 L497.19 268.13 L498.27 267.71 L499.35 267.28 L500.42 266.82 L501.49 266.35 L502.54 265.86 L503.59 265.35 L504.63 264.82 L505.66 264.28 L506.68 263.72 L507.68 263.14 L508.68 262.55 L509.66 261.93 L510.64 261.30 L511.60 260.65 L512.54 259.99 L513.48 259.30 L514.39 258.60 L515.30 257.89 L516.19 257.15 L517.06 256.40 L517.92 255.63 L518.76 254.84 L519.58 254.04 L520.38 253.22 L521.17 252.38 L521.94 251.52 L522.69 250.65 L523.41 249.76 L524.12 248.85 L524.81 247.92 L525.48 246.98 L526.13 246.03 L526.76 245.06 L527.37 244.07 L527.96 243.07 L528.54 242.06 L529.10 241.04 L529.64 240.00 L530.17 238.96 L530.69 237.90 L531.19 236.83 L531.67 235.75 L532.14 234.67 L532.60 233.58 L533.05 232.48 L533.48 231.37 L533.91 230.26 L534.32 229.14 L534.72 228.02 L535.11 226.89 L535.49 225.76 L535.87 224.63 L536.24 223.49 L536.59 222.35 L536.94 221.22 L537.29 220.08 L537.63 218.94 L537.96 217.80 L538.28 216.65 L538.60 215.51 L538.91 214.37 L539.21 213.22 L539.51 212.08 L539.81 210.93 L540.09 209.79 L540.37 208.64 L540.65 207.49 L540.92 206.34 L541.19 205.19 L541.45 204.04 L541.70 202.89 L541.95 201.74 L542.19 200.59 L542.43 199.44 L542.67 198.28 L542.90 197.13 L543.13 195.97 L543.35 194.82 L543.57 193.66 L543.78 192.50 L543.99 191.35 L544.20 190.19 L544.40 189.03 L544.60 187.87 L544.80 186.71 L544.99 185.55 L545.18 184.39 L545.37 183.23 L545.56 182.07 L545.74 180.91 L545.92 179.75 L546.10 178.58 L546.27 177.42 L546.44 176.26 L546.62 175.09 L546.78 173.93 L546.95 172.77 L547.12 171.60 L547.28 170.44 L547.44 169.27 L547.61 168.11 L547.77 166.94 L547.92 165.77 L548.08 164.61 L548.24 163.44 L548.40 162.28 L548.55 161.11 L548.71 159.94 L548.87 158.77 L549.02 157.61 L549.18 156.44 L549.34 155.27 L549.49 154.11 L549.65 152.94 L549.81 151.77 L549.96 150.60 L550.12 149.43 L550.28 148.27 L550.44 147.10 L550.61 145.93 L550.77 144.76 L550.93 143.60 L551.10 142.43 L551.27 141.26 L551.44 140.09 L551.61 138.93 L551.78 137.76 L551.96 136.59 L552.14 135.42 L552.32 134.26 L552.50 133.09 L552.68 131.92 L552.86 130.76 L553.05 129.59 L553.24 128.43 L553.43 127.26 L553.62 126.09 L553.81 124.93 L554.00 123.76 L554.19 122.60 L554.39 121.44 L554.59 120.27 L554.78 119.11 L554.98 117.95 L555.18 116.78 L555.38 115.62 L555.59 114.46 L555.79 113.30 L555.99 112.14 L556.20 110.97 L556.40 109.81 L556.61 108.65 L556.81 107.49 L557.02 106.34 L557.23 105.18 L557.44 104.02 L557.65 102.86 L557.86 101.71 L558.07 100.55 L558.27 99.39 L558.49 98.24 L558.70 97.09 L558.91 95.93 L559.12 94.78 L559.33 93.63 L559.54 92.48 L559.75 91.32 L559.96 90.17 L560.17 89.02 L560.38 87.88 L560.59 86.73 L560.80 85.58 L561.01 84.43 L561.22 83.29 L561.43 82.14 L561.64 81.00 L561.86 79.86 L562.07 78.71 L562.29 77.57 L562.51 76.43 L562.74 75.29 L562.97 74.15 L563.20 73.02 L563.44 71.88 L563.68 70.74 L563.93 69.61 L564.19 68.47 L564.46 67.34 L564.73 66.21 L565.01 65.08 L565.30 63.95 L565.60 62.82 L565.91 61.69 L566.24 60.57 L566.57 59.44 L566.91 58.32 L567.27 57.19 L567.63 56.07 L568.01 54.95 L568.41 53.83 L568.81 52.72 L569.23 51.61 L569.66 50.50 L570.10 49.40 L570.56 48.30 L571.03 47.21 L571.51 46.13 L572.01 45.05 L572.52 43.98 L573.04 42.91 L573.58 41.85 L574.13 40.81 L574.70 39.77 L575.28 38.74 L575.87 37.72 L576.48 36.71 L577.10 35.71 L577.74 34.73 L578.39 33.75 L579.06 32.79 L579.74 31.84 L580.43 30.90 L581.14 29.98 L581.87 29.08 L582.61 28.18 L583.37 27.31 L584.14 26.45 L584.93 25.60 L585.73 24.78 L586.55 23.97 L587.39 23.18 L588.24 22.40 L589.11 21.65 L589.99 20.92 L590.89 20.20 L591.81 19.51 L592.74 18.83 L593.70 18.18 L594.66 17.55 L595.65 16.95 L596.65 16.36 L597.67 15.80 L598.70 15.26 L599.75 14.74 L600.81 14.25 L601.89 13.77 L602.97 13.31 L604.07 12.87 L605.18 12.45 L606.30 12.05 L607.43 11.67 L608.56 11.30 L609.71 10.95 L610.86 10.62 L612.01 10.30 L613.17 10.00 L614.34 9.71 L615.51 9.43 L616.68 9.17 L617.85 8.92 L619.02 8.68 L620.19 8.46 L621.37 8.24 L622.54 8.04 L623.72 7.85 L624.89 7.67 L626.07 7.49 L627.24 7.33 L628.42 7.18 L629.60 7.04 L630.78 6.90 L631.95 6.78 L633.13 6.66 L634.31 6.55 L635.49 6.45 L636.67 6.35 L637.84 6.26 L639.02 6.18 L640.20 6.11 L641.38 6.04 L642.56 5.98 L643.74 5.92 L644.92 5.87 L646.10 5.82 L647.27 5.77 L648.45 5.73 L649.63 5.70 L650.81 5.66 L651.99 5.63 L653.17 5.61 L654.34 5.58 L655.52 5.56 L656.70 5.54 L657.87 5.52 L659.05 5.50 L660.23 5.49 L661.40 5.47 L662.58 5.46 L663.75 5.44 L664.92 5.42 L666.10 5.40 L667.27 5.39 L668.44 5.37 L669.61 5.34 L670.78 5.32 L671.95 5.29 L673.12 5.27 L674.29 5.23 L675.46 5.20 L676.62 5.16 L677.79 5.12 L678.95 5.07 L680.12 5.02 L681.28 4.96 L682.44 4.90 L683.60 4.83 L684.76 4.76 L685.92 4.68 L687.08 4.60 L688.24 4.50 L689.39 4.40 L690.55 4.30 L691.70 4.18" stroke="#6b8e23" stroke-width="1.65" stroke-dasharray="9 5 1.5 5"/>
<path d="M408.30 275.51 L409.48 275.36 L410.65 275.22 L411.83 275.09 L413.01 274.97 L414.19 274.86 L415.37 274.76 L416.54 274.67 L417.72 274.59 L418.91 274.52 L420.09 274.45 L421.27 274.40 L422.45 274.35 L423.63 274.31 L424.82 274.28 L426.00 274.25 L427.19 274.23 L428.37 274.22 L429.56 274.21 L430.74 274.20 L431.93 274.20 L433.12 274.20 L434.31 274.20 L435.50 274.20 L436.69 274.20 L437.88 274.20 L439.07 274.20 L440.26 274.20 L441.45 274.20 L442.65 274.20 L443.84 274.20 L445.04 274.20 L446.23 274.20 L447.43 274.20 L448.62 274.20 L449.82 274.20 L451.02 274.20 L452.22 274.20 L453.42 274.20 L454.62 274.20 L455.82 274.20 L457.02 274.20 L458.23 274.20 L459.43 274.20 L460.63 274.20 L461.84 274.20 L463.05 274.20 L464.25 274.20 L465.46 274.20 L466.67 274.20 L467.88 274.20 L469.09 274.17 L470.30 274.10 L471.51 274.02 L472.72 273.93 L473.93 273.83 L475.15 273.72 L476.36 273.60 L477.58 273.46 L478.79 273.32 L480.01 273.17 L481.23 273.00 L482.45 272.82 L483.66 272.63 L484.88 272.42 L486.09 272.20 L487.30 271.97 L488.50 271.72 L489.71 271.45 L490.90 271.17 L492.09 270.88 L493.27 270.57 L494.45 270.24 L495.62 269.90 L496.77 269.54 L497.92 269.16 L499.06 268.76 L500.19 268.34 L501.30 267.91 L502.40 267.45 L503.49 266.98 L504.57 266.48 L505.63 265.97 L506.67 265.43 L507.70 264.87 L508.71 264.30 L509.71 263.69 L510.68 263.07 L511.64 262.42 L512.58 261.75 L513.49 261.06 L514.39 260.34 L515.27 259.60 L516.13 258.85 L516.97 258.07 L517.79 257.27 L518.60 256.45 L519.39 255.61 L520.16 254.75 L520.91 253.88 L521.65 252.99 L522.37 252.08 L523.07 251.16 L523.76 250.22 L524.43 249.26 L525.08 248.29 L525.72 247.31 L526.35 246.31 L526.96 245.30 L527.55 244.28 L528.14 243.24 L528.70 242.20 L529.26 241.14 L529.79 240.07 L530.32 238.99 L530.83 237.91 L531.33 236.81 L531.82 235.71 L532.30 234.60 L532.76 233.49 L533.21 232.36 L533.65 231.23 L534.08 230.10 L534.50 228.96 L534.91 227.82 L535.30 226.67 L535.69 225.52 L536.07 224.37 L536.43 223.21 L536.79 222.06 L537.14 220.90 L537.48 219.74 L537.81 218.58 L538.13 217.42 L538.45 216.26 L538.75 215.10 L539.05 213.94 L539.34 212.78 L539.62 211.61 L539.89 210.45 L540.16 209.29 L540.42 208.12 L540.67 206.95 L540.91 205.79 L541.15 204.62 L541.38 203.45 L541.61 202.28 L541.83 201.11 L542.04 199.94 L542.24 198.77 L542.45 197.60 L542.64 196.42 L542.83 195.25 L543.02 194.08 L543.20 192.90 L543.37 191.73 L543.54 190.55 L543.71 189.37 L543.87 188.20 L544.02 187.02 L544.18 185.84 L544.33 184.66 L544.47 183.49 L544.61 182.31 L544.75 181.13 L544.89 179.95 L545.02 178.77 L545.15 177.58 L545.28 176.40 L545.40 175.22 L545.53 174.04 L545.65 172.86 L545.76 171.67 L545.88 170.49 L545.99 169.30 L546.11 168.12 L546.22 166.94 L546.33 165.75 L546.44 164.57 L546.55 163.38 L546.66 162.19 L546.77 161.01 L546.88 159.82 L546.98 158.63 L547.09 157.45 L547.20 156.26 L547.31 155.07 L547.42 153.88 L547.53 152.70 L547.64 151.51 L547.75 150.32 L547.87 149.13 L547.98 147.94 L548.10 146.75 L548.22 145.57 L548.34 144.38 L548.46 143.19 L548.59 142.00 L548.72 140.81 L548.85 139.62 L548.98 138.43 L549.12 137.24 L549.25 136.05 L549.40 134.86 L549.54 133.67 L549.68 132.48 L549.83 131.29 L549.98 130.10 L550.14 128.91 L550.29 127.72 L550.45 126.53 L550.61 125.34 L550.77 124.15 L550.93 122.96 L551.09 121.78 L551.26 120.59 L551.42 119.40 L551.59 118.21 L551.76 117.02 L551.93 115.83 L552.11 114.64 L552.28 113.45 L552.46 112.27 L552.63 111.08 L552.81 109.89 L552.99 108.70 L553.17 107.52 L553.35 106.33 L553.53 105.14 L553.71 103.96 L553.89 102.77 L554.07 101.58 L554.25 100.40 L554.43 99.21 L554.62 98.03 L554.80 96.84 L554.98 95.66 L555.17 94.48 L555.35 93.29 L555.53 92.11 L555.71 90.93 L555.90 89.74 L556.08 88.56 L556.26 87.38 L556.44 86.20 L556.62 85.02 L556.80 83.84 L556.98 82.66 L557.16 81.48 L557.34 80.30 L557.53 79.12 L557.71 77.94 L557.90 76.77 L558.09 75.59 L558.28 74.41 L558.48 73.24 L558.68 72.06 L558.88 70.89 L559.09 69.72 L559.30 68.54 L559.53 67.37 L559.75 66.20 L559.99 65.03 L560.23 63.86 L560.48 62.69 L560.73 61.52 L561.00 60.35 L561.27 59.18 L561.56 58.01 L561.85 56.85 L562.15 55.68 L562.47 54.52 L562.79 53.36 L563.13 52.20 L563.48 51.05 L563.84 49.90 L564.22 48.75 L564.61 47.61 L565.01 46.48 L565.42 45.35 L565.85 44.23 L566.30 43.12 L566.76 42.01 L567.24 40.92 L567.73 39.83 L568.24 38.75 L568.76 37.69 L569.31 36.63 L569.87 35.59 L570.45 34.55 L571.04 33.54 L571.66 32.53 L572.30 31.54 L572.95 30.56 L573.63 29.60 L574.33 28.65 L575.05 27.72 L575.79 26.81 L576.55 25.91 L577.33 25.04 L578.13 24.18 L578.95 23.34 L579.79 22.52 L580.65 21.72 L581.53 20.94 L582.43 20.18 L583.34 19.44 L584.27 18.73 L585.22 18.04 L586.19 17.37 L587.17 16.73 L588.17 16.11 L589.18 15.52 L590.21 14.95 L591.25 14.41 L592.31 13.90 L593.38 13.41 L594.47 12.95 L595.56 12.50 L596.67 12.08 L597.78 11.69 L598.91 11.31 L600.05 10.95 L601.19 10.61 L602.34 10.29 L603.50 9.98 L604.67 9.69 L605.84 9.42 L607.01 9.16 L608.19 8.91 L609.38 8.67 L610.56 8.45 L611.75 8.23 L612.94 8.03 L614.13 7.83 L615.32 7.65 L616.51 7.47 L617.70 7.29 L618.90 7.13 L620.09 6.98 L621.29 6.83 L622.48 6.69 L623.68 6.56 L624.88 6.43 L626.08 6.31 L627.28 6.20 L628.48 6.09 L629.68 5.99 L630.88 5.90 L632.08 5.81 L633.28 5.73 L634.49 5.65 L635.69 5.58 L636.89 5.51 L638.09 5.45 L639.30 5.39 L640.50 5.33 L641.70 5.28 L642.91 5.24 L644.11 5.19 L645.31 5.15 L646.52 5.12 L647.72 5.08 L648.92 5.05 L650.12 5.02 L651.33 5.00 L652.53 4.97 L653.73 4.95 L654.93 4.93 L656.13 4.91 L657.33 4.89 L658.53 4.87 L659.73 4.86 L660.93 4.84 L662.13 4.82 L663.32 4.81 L664.52 4.79 L665.71 4.78 L666.91 4.76 L668.10 4.74 L669.29 4.72 L670.48 4.70 L671.67 4.68 L672.86 4.66 L674.05 4.64 L675.24 4.61 L676.42 4.58 L677.61 4.55 L678.79 4.52 L679.97 4.48 L681.15 4.44 L682.33 4.40 L683.51 4.35 L684.68 4.30 L685.86 4.25 L687.03 4.19 L688.20 4.12 L689.37 4.06 L690.53 3.98 L691.70 3.91" stroke="#2e7396" stroke-width="1.6"/>
<path d="M408.30 275.51 L409.48 275.36 L410.66 275.21 L411.83 275.08 L413.01 274.96 L414.19 274.85 L415.37 274.75 L416.55 274.66 L417.73 274.58 L418.91 274.51 L420.09 274.45 L421.27 274.39 L422.46 274.34 L423.64 274.30 L424.82 274.27 L426.01 274.24 L427.19 274.22 L428.38 274.21 L429.56 274.20 L430.75 274.19 L431.94 274.19 L433.12 274.19 L434.31 274.19 L435.50 274.19 L436.69 274.19 L437.88 274.19 L439.07 274.19 L440.26 274.19 L441.46 274.19 L442.65 274.19 L443.84 274.19 L445.04 274.19 L446.23 274.19 L447.43 274.19 L448.62 274.19 L449.82 274.19 L451.02 274.19 L452.22 274.19 L453.42 274.19 L454.62 274.19 L455.82 274.19 L457.02 274.19 L458.22 274.19 L459.43 274.19 L460.63 274.19 L461.83 274.19 L463.04 274.19 L464.25 274.19 L465.45 274.19 L466.66 274.19 L467.87 274.19 L469.08 274.17 L470.29 274.10 L471.50 274.02 L472.71 273.93 L473.93 273.83 L475.14 273.72 L476.35 273.60 L477.57 273.46 L478.79 273.32 L480.00 273.17 L481.22 273.00 L482.44 272.82 L483.66 272.63 L484.87 272.43 L486.09 272.21 L487.30 271.98 L488.50 271.73 L489.70 271.47 L490.90 271.19 L492.09 270.90 L493.27 270.59 L494.45 270.26 L495.62 269.92 L496.78 269.56 L497.93 269.18 L499.07 268.78 L500.19 268.37 L501.31 267.93 L502.41 267.48 L503.50 267.01 L504.58 266.52 L505.64 266.00 L506.69 265.47 L507.72 264.91 L508.73 264.33 L509.73 263.73 L510.71 263.11 L511.66 262.47 L512.60 261.80 L513.52 261.11 L514.42 260.39 L515.30 259.66 L516.16 258.90 L517.01 258.12 L517.83 257.32 L518.64 256.51 L519.43 255.67 L520.20 254.82 L520.95 253.94 L521.69 253.05 L522.41 252.15 L523.12 251.22 L523.81 250.28 L524.48 249.33 L525.13 248.36 L525.78 247.38 L526.40 246.38 L527.01 245.37 L527.61 244.35 L528.19 243.32 L528.76 242.27 L529.31 241.22 L529.85 240.15 L530.38 239.08 L530.89 237.99 L531.40 236.90 L531.88 235.80 L532.36 234.69 L532.83 233.57 L533.28 232.45 L533.72 231.32 L534.15 230.18 L534.57 229.05 L534.98 227.90 L535.37 226.76 L535.76 225.61 L536.14 224.46 L536.51 223.30 L536.86 222.15 L537.21 220.99 L537.55 219.83 L537.88 218.67 L538.21 217.51 L538.52 216.35 L538.83 215.19 L539.12 214.03 L539.41 212.87 L539.70 211.70 L539.97 210.54 L540.24 209.38 L540.49 208.21 L540.75 207.04 L540.99 205.88 L541.23 204.71 L541.46 203.54 L541.69 202.37 L541.91 201.20 L542.12 200.03 L542.33 198.86 L542.53 197.69 L542.72 196.52 L542.92 195.34 L543.10 194.17 L543.28 192.99 L543.46 191.82 L543.63 190.64 L543.79 189.47 L543.95 188.29 L544.11 187.11 L544.26 185.94 L544.41 184.76 L544.56 183.58 L544.70 182.40 L544.84 181.22 L544.98 180.04 L545.11 178.86 L545.24 177.68 L545.37 176.50 L545.49 175.32 L545.61 174.13 L545.74 172.95 L545.85 171.77 L545.97 170.58 L546.09 169.40 L546.20 168.22 L546.31 167.03 L546.42 165.85 L546.53 164.66 L546.64 163.48 L546.75 162.29 L546.86 161.10 L546.97 159.92 L547.08 158.73 L547.18 157.54 L547.29 156.36 L547.40 155.17 L547.51 153.98 L547.62 152.79 L547.73 151.61 L547.85 150.42 L547.96 149.23 L548.07 148.04 L548.19 146.85 L548.31 145.66 L548.43 144.47 L548.55 143.28 L548.68 142.10 L548.81 140.91 L548.94 139.72 L549.07 138.53 L549.20 137.34 L549.34 136.15 L549.48 134.96 L549.63 133.77 L549.77 132.58 L549.92 131.39 L550.07 130.20 L550.22 129.01 L550.38 127.82 L550.53 126.63 L550.69 125.44 L550.85 124.25 L551.02 123.06 L551.18 121.87 L551.34 120.68 L551.51 119.50 L551.68 118.31 L551.85 117.12 L552.02 115.93 L552.19 114.74 L552.37 113.55 L552.54 112.36 L552.72 111.18 L552.90 109.99 L553.07 108.80 L553.25 107.61 L553.43 106.43 L553.61 105.24 L553.79 104.05 L553.97 102.87 L554.16 101.68 L554.34 100.50 L554.52 99.31 L554.70 98.13 L554.89 96.94 L555.07 95.76 L555.25 94.57 L555.43 93.39 L555.62 92.21 L555.80 91.02 L555.98 89.84 L556.16 88.66 L556.35 87.48 L556.53 86.30 L556.71 85.12 L556.89 83.93 L557.07 82.76 L557.25 81.58 L557.43 80.40 L557.61 79.22 L557.80 78.04 L557.98 76.86 L558.17 75.69 L558.36 74.51 L558.56 73.34 L558.76 72.16 L558.96 70.99 L559.17 69.81 L559.39 68.64 L559.61 67.47 L559.83 66.29 L560.07 65.12 L560.31 63.95 L560.56 62.78 L560.81 61.61 L561.08 60.44 L561.35 59.28 L561.63 58.11 L561.93 56.94 L562.23 55.78 L562.54 54.61 L562.87 53.45 L563.20 52.29 L563.55 51.14 L563.91 49.99 L564.29 48.84 L564.68 47.70 L565.08 46.57 L565.49 45.44 L565.92 44.32 L566.36 43.20 L566.82 42.10 L567.30 41.00 L567.79 39.91 L568.30 38.84 L568.82 37.77 L569.36 36.71 L569.92 35.67 L570.50 34.63 L571.10 33.61 L571.71 32.61 L572.35 31.61 L573.00 30.64 L573.68 29.67 L574.37 28.73 L575.09 27.79 L575.82 26.88 L576.58 25.98 L577.36 25.10 L578.16 24.24 L578.98 23.40 L579.82 22.58 L580.68 21.77 L581.56 20.99 L582.45 20.23 L583.37 19.50 L584.30 18.78 L585.25 18.09 L586.21 17.42 L587.19 16.77 L588.19 16.15 L589.20 15.56 L590.23 14.99 L591.27 14.45 L592.33 13.93 L593.40 13.44 L594.48 12.98 L595.57 12.53 L596.68 12.11 L597.79 11.71 L598.92 11.33 L600.05 10.97 L601.20 10.63 L602.35 10.31 L603.51 10.00 L604.67 9.71 L605.84 9.43 L607.02 9.17 L608.19 8.92 L609.38 8.69 L610.56 8.46 L611.75 8.24 L612.94 8.04 L614.13 7.84 L615.32 7.65 L616.51 7.47 L617.70 7.30 L618.90 7.14 L620.09 6.98 L621.29 6.83 L622.48 6.69 L623.68 6.56 L624.88 6.43 L626.08 6.31 L627.28 6.20 L628.48 6.09 L629.68 5.99 L630.88 5.89 L632.08 5.81 L633.28 5.72 L634.48 5.64 L635.69 5.57 L636.89 5.50 L638.09 5.44 L639.29 5.38 L640.50 5.33 L641.70 5.27 L642.90 5.23 L644.11 5.18 L645.31 5.14 L646.52 5.11 L647.72 5.07 L648.92 5.04 L650.12 5.01 L651.33 4.99 L652.53 4.96 L653.73 4.94 L654.93 4.92 L656.13 4.90 L657.33 4.88 L658.53 4.86 L659.73 4.85 L660.93 4.83 L662.13 4.82 L663.32 4.80 L664.52 4.78 L665.72 4.77 L666.91 4.75 L668.10 4.73 L669.30 4.72 L670.49 4.70 L671.68 4.68 L672.87 4.65 L674.05 4.63 L675.24 4.60 L676.43 4.58 L677.61 4.55 L678.79 4.51 L679.97 4.48 L681.15 4.44 L682.33 4.39 L683.51 4.35 L684.68 4.30 L685.86 4.24 L687.03 4.19 L688.20 4.12 L689.37 4.06 L690.53 3.98 L691.70 3.91" stroke="#0000ff" stroke-width="1.6"/>
<path d="M408.30 275.51 L409.48 275.35 L410.66 275.21 L411.84 275.08 L413.02 274.95 L414.20 274.84 L415.38 274.74 L416.56 274.65 L417.75 274.56 L418.93 274.49 L420.11 274.42 L421.29 274.37 L422.47 274.32 L423.66 274.28 L424.84 274.24 L426.03 274.21 L427.21 274.19 L428.40 274.17 L429.58 274.16 L430.77 274.16 L431.95 274.15 L433.14 274.15 L434.33 274.15 L435.51 274.15 L436.70 274.15 L437.89 274.15 L439.08 274.15 L440.27 274.15 L441.46 274.15 L442.65 274.15 L443.85 274.15 L445.04 274.15 L446.23 274.15 L447.43 274.15 L448.62 274.15 L449.82 274.15 L451.01 274.15 L452.21 274.15 L453.41 274.15 L454.61 274.15 L455.81 274.15 L457.01 274.15 L458.21 274.15 L459.41 274.15 L460.61 274.15 L461.82 274.15 L463.02 274.15 L464.23 274.15 L465.43 274.15 L466.64 274.15 L467.85 274.15 L469.06 274.15 L470.27 274.08 L471.48 274.01 L472.69 273.92 L473.90 273.82 L475.12 273.71 L476.33 273.60 L477.55 273.47 L478.76 273.33 L479.98 273.18 L481.20 273.02 L482.42 272.84 L483.64 272.65 L484.86 272.45 L486.07 272.24 L487.28 272.01 L488.49 271.76 L489.70 271.50 L490.90 271.23 L492.09 270.94 L493.27 270.64 L494.45 270.31 L495.63 269.98 L496.79 269.62 L497.94 269.25 L499.08 268.86 L500.22 268.45 L501.34 268.02 L502.44 267.57 L503.54 267.10 L504.62 266.61 L505.69 266.10 L506.74 265.58 L507.77 265.02 L508.79 264.45 L509.79 263.86 L510.77 263.24 L511.74 262.60 L512.68 261.94 L513.60 261.25 L514.51 260.54 L515.40 259.81 L516.26 259.06 L517.11 258.29 L517.94 257.50 L518.75 256.68 L519.55 255.85 L520.32 255.00 L521.08 254.13 L521.82 253.25 L522.55 252.35 L523.26 251.43 L523.95 250.49 L524.62 249.54 L525.28 248.58 L525.93 247.60 L526.56 246.60 L527.17 245.60 L527.77 244.58 L528.36 243.55 L528.93 242.51 L529.49 241.45 L530.03 240.39 L530.56 239.32 L531.08 238.23 L531.58 237.14 L532.07 236.04 L532.55 234.94 L533.02 233.82 L533.47 232.70 L533.92 231.57 L534.35 230.44 L534.77 229.30 L535.18 228.16 L535.58 227.02 L535.97 225.87 L536.35 224.72 L536.72 223.56 L537.08 222.41 L537.43 221.25 L537.77 220.09 L538.11 218.94 L538.43 217.78 L538.75 216.62 L539.05 215.46 L539.35 214.30 L539.64 213.13 L539.93 211.97 L540.20 210.81 L540.47 209.64 L540.73 208.48 L540.99 207.31 L541.23 206.15 L541.47 204.98 L541.71 203.81 L541.93 202.64 L542.15 201.47 L542.37 200.30 L542.58 199.13 L542.78 197.96 L542.98 196.79 L543.17 195.62 L543.35 194.44 L543.54 193.27 L543.71 192.10 L543.88 190.92 L544.05 189.74 L544.21 188.57 L544.37 187.39 L544.53 186.21 L544.68 185.04 L544.82 183.86 L544.97 182.68 L545.11 181.50 L545.24 180.32 L545.38 179.14 L545.51 177.96 L545.64 176.78 L545.76 175.60 L545.88 174.42 L546.01 173.23 L546.12 172.05 L546.24 170.87 L546.36 169.69 L546.47 168.50 L546.58 167.32 L546.70 166.13 L546.81 164.95 L546.92 163.76 L547.02 162.58 L547.13 161.39 L547.24 160.21 L547.35 159.02 L547.46 157.83 L547.57 156.65 L547.68 155.46 L547.79 154.27 L547.90 153.08 L548.01 151.90 L548.12 150.71 L548.23 149.52 L548.35 148.33 L548.46 147.14 L548.58 145.96 L548.70 144.77 L548.82 143.58 L548.95 142.39 L549.08 141.20 L549.21 140.01 L549.34 138.82 L549.47 137.63 L549.61 136.44 L549.75 135.25 L549.89 134.06 L550.04 132.88 L550.19 131.69 L550.34 130.50 L550.49 129.31 L550.64 128.12 L550.80 126.93 L550.96 125.74 L551.12 124.55 L551.28 123.36 L551.44 122.17 L551.61 120.98 L551.77 119.79 L551.94 118.60 L552.11 117.42 L552.28 116.23 L552.45 115.04 L552.63 113.85 L552.80 112.66 L552.98 111.47 L553.15 110.29 L553.33 109.10 L553.51 107.91 L553.69 106.73 L553.87 105.54 L554.05 104.35 L554.23 103.17 L554.41 101.98 L554.59 100.79 L554.78 99.61 L554.96 98.42 L555.14 97.24 L555.33 96.05 L555.51 94.87 L555.69 93.69 L555.87 92.50 L556.06 91.32 L556.24 90.14 L556.42 88.95 L556.60 87.77 L556.79 86.59 L556.97 85.41 L557.15 84.23 L557.33 83.05 L557.51 81.87 L557.69 80.69 L557.87 79.51 L558.05 78.33 L558.24 77.16 L558.43 75.98 L558.62 74.80 L558.81 73.63 L559.01 72.45 L559.21 71.28 L559.42 70.10 L559.64 68.93 L559.85 67.75 L560.08 66.58 L560.31 65.41 L560.55 64.24 L560.80 63.07 L561.05 61.90 L561.31 60.73 L561.58 59.56 L561.86 58.39 L562.15 57.22 L562.46 56.06 L562.77 54.89 L563.09 53.73 L563.42 52.57 L563.77 51.42 L564.13 50.26 L564.50 49.12 L564.88 47.97 L565.28 46.84 L565.69 45.71 L566.12 44.58 L566.56 43.47 L567.01 42.36 L567.48 41.26 L567.97 40.17 L568.47 39.09 L568.99 38.02 L569.53 36.96 L570.09 35.91 L570.66 34.87 L571.25 33.85 L571.86 32.84 L572.49 31.84 L573.14 30.86 L573.81 29.89 L574.50 28.94 L575.21 28.00 L575.95 27.08 L576.70 26.18 L577.47 25.30 L578.27 24.43 L579.08 23.58 L579.92 22.76 L580.77 21.95 L581.65 21.16 L582.54 20.40 L583.45 19.65 L584.37 18.93 L585.32 18.23 L586.28 17.56 L587.25 16.91 L588.25 16.28 L589.25 15.68 L590.28 15.11 L591.32 14.56 L592.37 14.04 L593.44 13.54 L594.51 13.07 L595.61 12.62 L596.71 12.20 L597.82 11.79 L598.94 11.41 L600.08 11.04 L601.22 10.70 L602.37 10.37 L603.52 10.06 L604.68 9.76 L605.85 9.48 L607.02 9.22 L608.20 8.97 L609.38 8.73 L610.56 8.50 L611.75 8.28 L612.94 8.07 L614.13 7.87 L615.31 7.68 L616.51 7.49 L617.70 7.32 L618.89 7.15 L620.08 6.99 L621.28 6.84 L622.48 6.70 L623.67 6.56 L624.87 6.43 L626.07 6.31 L627.27 6.20 L628.47 6.09 L629.67 5.98 L630.87 5.89 L632.07 5.80 L633.27 5.71 L634.47 5.63 L635.68 5.56 L636.88 5.49 L638.08 5.42 L639.29 5.36 L640.49 5.30 L641.70 5.25 L642.90 5.20 L644.10 5.16 L645.31 5.12 L646.51 5.08 L647.72 5.04 L648.92 5.01 L650.12 4.98 L651.33 4.95 L652.53 4.93 L653.73 4.91 L654.93 4.88 L656.13 4.86 L657.33 4.85 L658.53 4.83 L659.73 4.81 L660.93 4.80 L662.13 4.78 L663.33 4.77 L664.53 4.75 L665.72 4.73 L666.92 4.72 L668.11 4.70 L669.30 4.68 L670.49 4.67 L671.68 4.65 L672.87 4.62 L674.06 4.60 L675.25 4.58 L676.43 4.55 L677.62 4.52 L678.80 4.49 L679.98 4.45 L681.16 4.42 L682.34 4.38 L683.51 4.33 L684.69 4.28 L685.86 4.23 L687.03 4.18 L688.20 4.12 L689.37 4.05 L690.53 3.98 L691.70 3.91" stroke="#800080" stroke-width="1.6"/>
<path d="M408.30 270.39 L409.72 270.08 L411.15 269.77 L412.57 269.44 L414.00 269.10 L415.42 268.75 L416.84 268.38 L418.27 268.00 L419.69 267.60 L421.12 267.19 L422.54 266.77 L423.97 266.32 L425.39 265.87 L426.81 265.39 L428.24 264.90 L429.66 264.39 L431.09 263.86 L432.51 263.32 L433.93 262.76 L435.36 262.17 L436.78 261.57 L438.21 260.95 L439.63 260.31 L441.05 259.65 L442.48 258.97 L443.90 258.27 L445.33 257.54 L446.75 256.80 L448.18 256.03 L449.60 255.24 L451.02 254.42 L452.45 253.58 L453.87 252.72 L455.30 251.84 L456.72 250.93 L458.14 250.00 L459.57 249.04 L460.99 248.06 L462.42 247.05 L463.84 246.02 L465.26 244.96 L466.69 243.88 L468.11 242.77 L469.54 241.63 L470.96 240.47 L472.39 239.28 L473.81 238.06 L475.23 236.82 L476.66 235.55 L478.08 234.26 L479.51 232.94 L480.93 231.59 L482.35 230.22 L483.78 228.81 L485.20 227.39 L486.63 225.93 L488.05 224.45 L489.47 222.94 L490.90 221.41 L492.32 219.85 L493.75 218.26 L495.17 216.65 L496.60 215.02 L498.02 213.36 L499.44 211.67 L500.87 209.96 L502.29 208.23 L503.72 206.47 L505.14 204.69 L506.56 202.89 L507.99 201.06 L509.41 199.21 L510.84 197.34 L512.26 195.45 L513.68 193.54 L515.11 191.61 L516.53 189.66 L517.96 187.69 L519.38 185.71 L520.81 183.71 L522.23 181.69 L523.65 179.65 L525.08 177.60 L526.50 175.53 L527.93 173.45 L529.35 171.36 L530.77 169.26 L532.20 167.14 L533.62 165.01 L535.05 162.88 L536.47 160.73 L537.89 158.57 L539.32 156.41 L540.74 154.24 L542.17 152.07 L543.59 149.89 L545.02 147.71 L546.44 145.52 L547.86 143.33 L549.29 141.14 L550.71 138.96 L552.14 136.77 L553.56 134.58 L554.98 132.39 L556.41 130.21 L557.83 128.03 L559.26 125.86 L560.68 123.69 L562.11 121.53 L563.53 119.37 L564.95 117.22 L566.38 115.09 L567.80 112.96 L569.23 110.84 L570.65 108.74 L572.07 106.65 L573.50 104.57 L574.92 102.50 L576.35 100.45 L577.77 98.41 L579.19 96.39 L580.62 94.39 L582.04 92.41 L583.47 90.44 L584.89 88.49 L586.32 86.56 L587.74 84.65 L589.16 82.76 L590.59 80.89 L592.01 79.04 L593.44 77.21 L594.86 75.41 L596.28 73.63 L597.71 71.87 L599.13 70.14 L600.56 68.43 L601.98 66.74 L603.40 65.08 L604.83 63.45 L606.25 61.84 L607.68 60.25 L609.10 58.69 L610.53 57.16 L611.95 55.65 L613.37 54.17 L614.80 52.71 L616.22 51.29 L617.65 49.88 L619.07 48.51 L620.49 47.16 L621.92 45.84 L623.34 44.55 L624.77 43.28 L626.19 42.04 L627.61 40.82 L629.04 39.63 L630.46 38.47 L631.89 37.33 L633.31 36.22 L634.74 35.14 L636.16 34.08 L637.58 33.05 L639.01 32.04 L640.43 31.06 L641.86 30.10 L643.28 29.17 L644.70 28.26 L646.13 27.38 L647.55 26.52 L648.98 25.68 L650.40 24.86 L651.82 24.07 L653.25 23.30 L654.67 22.56 L656.10 21.83 L657.52 21.13 L658.95 20.45 L660.37 19.79 L661.79 19.15 L663.22 18.53 L664.64 17.93 L666.07 17.34 L667.49 16.78 L668.91 16.24 L670.34 15.71 L671.76 15.20 L673.19 14.71 L674.61 14.23 L676.03 13.78 L677.46 13.33 L678.88 12.91 L680.31 12.50 L681.73 12.10 L683.16 11.72 L684.58 11.35 L686.00 11.00 L687.43 10.66 L688.85 10.33 L690.28 10.02 L691.70 9.71" stroke="#222" stroke-width="1.15" stroke-dasharray="5.5 3.5"/>
</g>
<g stroke="#3a3a3a" stroke-width="1.25" fill="none">
<path d="M400.00 3.50 L400.00 276.60 L700.50 276.60"/>
<line x1="400.00" y1="276.60" x2="403.50" y2="276.60"/>
<line x1="400.00" y1="249.29" x2="403.50" y2="249.29"/>
<line x1="400.00" y1="221.98" x2="403.50" y2="221.98"/>
<line x1="400.00" y1="194.67" x2="403.50" y2="194.67"/>
<line x1="400.00" y1="167.36" x2="403.50" y2="167.36"/>
<line x1="400.00" y1="140.05" x2="403.50" y2="140.05"/>
<line x1="400.00" y1="112.74" x2="403.50" y2="112.74"/>
<line x1="400.00" y1="85.43" x2="403.50" y2="85.43"/>
<line x1="400.00" y1="58.12" x2="403.50" y2="58.12"/>
<line x1="400.00" y1="30.81" x2="403.50" y2="30.81"/>
<line x1="400.00" y1="3.50" x2="403.50" y2="3.50"/>
<line x1="408.30" y1="276.60" x2="408.30" y2="273.40"/>
<line x1="479.15" y1="276.60" x2="479.15" y2="273.40"/>
<line x1="550.00" y1="276.60" x2="550.00" y2="273.40"/>
<line x1="620.85" y1="276.60" x2="620.85" y2="273.40"/>
<line x1="691.70" y1="276.60" x2="691.70" y2="273.40"/>
</g>
<g stroke="#3a3a3a" stroke-width="1" fill="none">
<line x1="426.01" y1="276.60" x2="426.01" y2="274.60"/>
<line x1="443.73" y1="276.60" x2="443.73" y2="274.60"/>
<line x1="461.44" y1="276.60" x2="461.44" y2="274.60"/>
<line x1="496.86" y1="276.60" x2="496.86" y2="274.60"/>
<line x1="514.58" y1="276.60" x2="514.58" y2="274.60"/>
<line x1="532.29" y1="276.60" x2="532.29" y2="274.60"/>
<line x1="567.71" y1="276.60" x2="567.71" y2="274.60"/>
<line x1="585.43" y1="276.60" x2="585.43" y2="274.60"/>
<line x1="603.14" y1="276.60" x2="603.14" y2="274.60"/>
<line x1="638.56" y1="276.60" x2="638.56" y2="274.60"/>
<line x1="656.28" y1="276.60" x2="656.28" y2="274.60"/>
<line x1="673.99" y1="276.60" x2="673.99" y2="274.60"/>
</g>
<g font-family="Liberation Sans, sans-serif" stroke="#111" stroke-width="0.18" font-size="9.8" fill="#111">
<text x="395.10" y="279.40" text-anchor="end" textLength="13.2" lengthAdjust="spacingAndGlyphs">0.0</text>
<text x="395.10" y="252.09" text-anchor="end" textLength="13.2" lengthAdjust="spacingAndGlyphs">0.1</text>
<text x="395.10" y="224.78" text-anchor="end" textLength="13.2" lengthAdjust="spacingAndGlyphs">0.2</text>
<text x="395.10" y="197.47" text-anchor="end" textLength="13.2" lengthAdjust="spacingAndGlyphs">0.3</text>
<text x="395.10" y="170.16" text-anchor="end" textLength="13.2" lengthAdjust="spacingAndGlyphs">0.4</text>
<text x="395.10" y="142.85" text-anchor="end" textLength="13.2" lengthAdjust="spacingAndGlyphs">0.5</text>
<text x="395.10" y="115.54" text-anchor="end" textLength="13.2" lengthAdjust="spacingAndGlyphs">0.6</text>
<text x="395.10" y="88.23" text-anchor="end" textLength="13.2" lengthAdjust="spacingAndGlyphs">0.7</text>
<text x="395.10" y="60.92" text-anchor="end" textLength="13.2" lengthAdjust="spacingAndGlyphs">0.8</text>
<text x="395.10" y="33.61" text-anchor="end" textLength="13.2" lengthAdjust="spacingAndGlyphs">0.9</text>
<text x="395.10" y="6.30" text-anchor="end" textLength="13.2" lengthAdjust="spacingAndGlyphs">1.0</text>
<text x="408.30" y="287.40" text-anchor="middle" textLength="11.3" lengthAdjust="spacingAndGlyphs">−2</text>
<text x="479.15" y="287.40" text-anchor="middle" textLength="11.3" lengthAdjust="spacingAndGlyphs">−1</text>
<text x="550.00" y="287.40" text-anchor="middle" textLength="5.2" lengthAdjust="spacingAndGlyphs">0</text>
<text x="620.85" y="287.40" text-anchor="middle" textLength="5.2" lengthAdjust="spacingAndGlyphs">1</text>
<text x="691.70" y="287.40" text-anchor="middle" textLength="5.2" lengthAdjust="spacingAndGlyphs">2</text>
</g>
<g fill="none" stroke-linejoin="round">
<path d="M42.30 596.85 L43.43 596.75 L44.57 596.65 L45.70 596.55 L46.84 596.47 L47.99 596.39 L49.14 596.32 L50.29 596.25 L51.44 596.19 L52.60 596.14 L53.76 596.09 L54.92 596.04 L56.09 596.00 L57.26 595.97 L58.43 595.94 L59.61 595.91 L60.79 595.88 L61.97 595.86 L63.15 595.85 L64.33 595.83 L65.52 595.82 L66.71 595.81 L67.90 595.80 L69.09 595.79 L70.28 595.78 L71.48 595.77 L72.67 595.77 L73.87 595.76 L75.07 595.75 L76.27 595.74 L77.47 595.73 L78.67 595.72 L79.88 595.71 L81.08 595.70 L82.29 595.68 L83.49 595.67 L84.70 595.64 L85.90 595.62 L87.11 595.59 L88.31 595.56 L89.52 595.53 L90.72 595.49 L91.93 595.44 L93.13 595.39 L94.34 595.34 L95.54 595.28 L96.75 595.21 L97.95 595.14 L99.15 595.06 L100.35 594.97 L101.55 594.88 L102.75 594.77 L103.95 594.67 L105.14 594.55 L106.34 594.42 L107.53 594.29 L108.72 594.14 L109.91 593.99 L111.10 593.83 L112.28 593.66 L113.46 593.47 L114.64 593.28 L115.82 593.07 L117.00 592.86 L118.17 592.63 L119.34 592.39 L120.51 592.14 L121.68 591.87 L122.84 591.60 L124.00 591.31 L125.15 591.00 L126.30 590.68 L127.45 590.35 L128.59 590.01 L129.72 589.64 L130.85 589.27 L131.96 588.88 L133.07 588.47 L134.18 588.05 L135.27 587.61 L136.35 587.15 L137.42 586.68 L138.48 586.19 L139.53 585.68 L140.57 585.15 L141.59 584.61 L142.60 584.05 L143.60 583.46 L144.59 582.86 L145.55 582.24 L146.51 581.60 L147.44 580.94 L148.36 580.26 L149.26 579.56 L150.15 578.84 L151.01 578.10 L151.86 577.33 L152.69 576.54 L153.49 575.74 L154.28 574.90 L155.05 574.05 L155.80 573.18 L156.52 572.29 L157.23 571.38 L157.93 570.45 L158.60 569.50 L159.26 568.54 L159.90 567.55 L160.52 566.56 L161.13 565.55 L161.72 564.52 L162.29 563.49 L162.85 562.44 L163.39 561.37 L163.92 560.30 L164.44 559.22 L164.94 558.12 L165.43 557.02 L165.90 555.91 L166.37 554.79 L166.82 553.67 L167.25 552.54 L167.68 551.40 L168.09 550.26 L168.50 549.11 L168.89 547.96 L169.27 546.81 L169.65 545.66 L170.01 544.50 L170.37 543.35 L170.71 542.19 L171.05 541.03 L171.38 539.87 L171.70 538.71 L172.01 537.55 L172.31 536.39 L172.61 535.22 L172.90 534.06 L173.18 532.89 L173.45 531.73 L173.72 530.56 L173.98 529.39 L174.23 528.22 L174.48 527.06 L174.72 525.89 L174.95 524.72 L175.18 523.55 L175.40 522.38 L175.62 521.20 L175.83 520.03 L176.04 518.86 L176.25 517.69 L176.44 516.52 L176.64 515.34 L176.83 514.17 L177.02 513.00 L177.20 511.82 L177.38 510.65 L177.55 509.48 L177.73 508.31 L177.90 507.13 L178.07 505.96 L178.23 504.79 L178.39 503.61 L178.55 502.44 L178.71 501.27 L178.87 500.10 L179.03 498.93 L179.18 497.76 L179.34 496.59 L179.49 495.42 L179.64 494.25 L179.80 493.08 L179.95 491.91 L180.10 490.74 L180.25 489.58 L180.41 488.41 L180.56 487.24 L180.71 486.08 L180.87 484.92 L181.02 483.75 L181.18 482.59 L181.34 481.43 L181.50 480.27 L181.66 479.11 L181.82 477.95 L181.98 476.79 L182.14 475.63 L182.30 474.47 L182.47 473.31 L182.63 472.16 L182.80 471.00 L182.96 469.84 L183.13 468.68 L183.30 467.53 L183.47 466.37 L183.64 465.22 L183.81 464.06 L183.98 462.91 L184.15 461.75 L184.33 460.59 L184.50 459.44 L184.68 458.28 L184.85 457.13 L185.03 455.97 L185.21 454.82 L185.39 453.66 L185.57 452.50 L185.75 451.35 L185.93 450.19 L186.11 449.03 L186.29 447.88 L186.48 446.72 L186.66 445.56 L186.85 444.40 L187.04 443.24 L187.23 442.08 L187.41 440.92 L187.61 439.76 L187.80 438.60 L187.99 437.44 L188.18 436.28 L188.38 435.12 L188.57 433.95 L188.77 432.79 L188.96 431.62 L189.16 430.45 L189.36 429.29 L189.56 428.12 L189.76 426.95 L189.96 425.78 L190.17 424.61 L190.37 423.44 L190.57 422.26 L190.78 421.09 L190.99 419.91 L191.19 418.74 L191.40 417.56 L191.61 416.38 L191.82 415.20 L192.04 414.02 L192.25 412.84 L192.46 411.65 L192.68 410.46 L192.89 409.28 L193.11 408.09 L193.33 406.90 L193.55 405.71 L193.77 404.51 L193.99 403.32 L194.21 402.12 L194.44 400.93 L194.67 399.73 L194.90 398.53 L195.13 397.33 L195.37 396.14 L195.61 394.94 L195.85 393.74 L196.10 392.55 L196.36 391.36 L196.62 390.17 L196.88 388.98 L197.15 387.79 L197.42 386.60 L197.70 385.42 L197.99 384.24 L198.29 383.07 L198.59 381.89 L198.90 380.73 L199.22 379.56 L199.54 378.40 L199.88 377.25 L200.22 376.10 L200.57 374.95 L200.93 373.81 L201.30 372.68 L201.68 371.55 L202.08 370.43 L202.48 369.31 L202.89 368.20 L203.32 367.10 L203.75 366.01 L204.20 364.92 L204.66 363.84 L205.14 362.77 L205.62 361.71 L206.12 360.65 L206.64 359.61 L207.16 358.57 L207.70 357.55 L208.26 356.53 L208.83 355.52 L209.42 354.53 L210.02 353.54 L210.64 352.57 L211.27 351.60 L211.92 350.65 L212.59 349.71 L213.28 348.78 L213.98 347.87 L214.70 346.96 L215.44 346.07 L216.19 345.19 L216.97 344.33 L217.76 343.47 L218.57 342.64 L219.41 341.81 L220.26 341.01 L221.13 340.22 L222.02 339.45 L222.92 338.70 L223.84 337.98 L224.78 337.28 L225.73 336.60 L226.70 335.95 L227.68 335.32 L228.68 334.71 L229.69 334.13 L230.72 333.58 L231.75 333.05 L232.80 332.54 L233.86 332.05 L234.93 331.59 L236.02 331.15 L237.11 330.74 L238.21 330.35 L239.32 329.98 L240.44 329.64 L241.57 329.32 L242.70 329.02 L243.85 328.74 L245.00 328.47 L246.15 328.23 L247.31 328.00 L248.48 327.78 L249.65 327.58 L250.83 327.40 L252.01 327.22 L253.19 327.06 L254.37 326.90 L255.56 326.75 L256.75 326.61 L257.94 326.48 L259.13 326.35 L260.33 326.24 L261.53 326.12 L262.72 326.02 L263.92 325.92 L265.12 325.83 L266.32 325.75 L267.53 325.67 L268.73 325.59 L269.94 325.52 L271.14 325.46 L272.35 325.40 L273.55 325.34 L274.76 325.29 L275.97 325.25 L277.18 325.21 L278.39 325.17 L279.59 325.13 L280.80 325.10 L282.01 325.07 L283.22 325.05 L284.43 325.02 L285.63 325.00 L286.84 324.99 L288.05 324.97 L289.25 324.95 L290.46 324.94 L291.66 324.93 L292.86 324.92 L294.07 324.90 L295.27 324.89 L296.46 324.88 L297.66 324.87 L298.86 324.86 L300.05 324.85 L301.24 324.84 L302.43 324.83 L303.62 324.82 L304.81 324.80 L305.99 324.79 L307.18 324.77 L308.36 324.75 L309.53 324.72 L310.71 324.70 L311.88 324.67 L313.05 324.64 L314.22 324.61 L315.38 324.57 L316.54 324.53 L317.70 324.49 L318.85 324.44 L320.00 324.38 L321.15 324.33 L322.29 324.26 L323.43 324.20 L324.57 324.13 L325.70 324.05" stroke="#ff0000" stroke-width="1.65" stroke-dasharray="2.2 1.9"/>
<path d="M42.30 596.58 L43.43 596.51 L44.56 596.45 L45.70 596.39 L46.84 596.33 L47.99 596.28 L49.13 596.23 L50.28 596.18 L51.44 596.14 L52.59 596.10 L53.75 596.06 L54.91 596.02 L56.08 595.98 L57.25 595.95 L58.42 595.91 L59.59 595.88 L60.77 595.85 L61.94 595.82 L63.12 595.79 L64.30 595.76 L65.49 595.73 L66.67 595.70 L67.86 595.67 L69.04 595.64 L70.23 595.61 L71.42 595.58 L72.62 595.54 L73.81 595.51 L75.00 595.47 L76.20 595.43 L77.39 595.39 L78.59 595.35 L79.79 595.30 L80.99 595.26 L82.18 595.20 L83.38 595.15 L84.58 595.09 L85.78 595.03 L86.98 594.97 L88.17 594.90 L89.37 594.83 L90.57 594.75 L91.77 594.67 L92.96 594.59 L94.16 594.50 L95.35 594.40 L96.55 594.30 L97.74 594.19 L98.93 594.08 L100.12 593.96 L101.31 593.84 L102.50 593.71 L103.68 593.57 L104.87 593.42 L106.05 593.27 L107.23 593.11 L108.41 592.95 L109.58 592.77 L110.76 592.59 L111.93 592.40 L113.10 592.20 L114.27 592.00 L115.43 591.78 L116.59 591.56 L117.75 591.33 L118.91 591.08 L120.06 590.83 L121.21 590.57 L122.36 590.30 L123.50 590.01 L124.64 589.72 L125.77 589.42 L126.91 589.11 L128.03 588.78 L129.16 588.44 L130.28 588.10 L131.39 587.73 L132.50 587.36 L133.60 586.97 L134.69 586.56 L135.78 586.14 L136.85 585.69 L137.92 585.24 L138.98 584.76 L140.02 584.26 L141.06 583.74 L142.08 583.20 L143.09 582.64 L144.09 582.05 L145.08 581.44 L146.05 580.80 L147.00 580.14 L147.94 579.45 L148.86 578.74 L149.77 578.00 L150.66 577.23 L151.52 576.43 L152.38 575.62 L153.21 574.78 L154.02 573.92 L154.81 573.05 L155.58 572.15 L156.32 571.24 L157.05 570.32 L157.75 569.38 L158.43 568.44 L159.08 567.48 L159.71 566.51 L160.32 565.53 L160.91 564.54 L161.48 563.54 L162.02 562.53 L162.55 561.51 L163.06 560.48 L163.56 559.44 L164.03 558.39 L164.49 557.34 L164.94 556.28 L165.37 555.20 L165.78 554.13 L166.18 553.04 L166.57 551.95 L166.95 550.85 L167.31 549.74 L167.66 548.63 L168.01 547.51 L168.34 546.38 L168.67 545.25 L168.98 544.12 L169.29 542.98 L169.60 541.83 L169.89 540.68 L170.18 539.53 L170.47 538.37 L170.75 537.21 L171.02 536.05 L171.29 534.88 L171.55 533.71 L171.81 532.53 L172.06 531.36 L172.31 530.18 L172.56 529.00 L172.80 527.82 L173.04 526.64 L173.27 525.45 L173.51 524.27 L173.74 523.08 L173.97 521.90 L174.19 520.71 L174.42 519.53 L174.64 518.34 L174.86 517.16 L175.08 515.98 L175.30 514.79 L175.52 513.61 L175.74 512.44 L175.96 511.26 L176.18 510.08 L176.40 508.91 L176.61 507.74 L176.83 506.57 L177.05 505.40 L177.26 504.23 L177.48 503.06 L177.69 501.89 L177.91 500.73 L178.12 499.56 L178.33 498.40 L178.55 497.24 L178.76 496.07 L178.97 494.91 L179.18 493.75 L179.39 492.59 L179.59 491.44 L179.80 490.28 L180.01 489.12 L180.21 487.97 L180.42 486.81 L180.62 485.66 L180.83 484.50 L181.03 483.35 L181.23 482.19 L181.43 481.04 L181.63 479.89 L181.83 478.74 L182.03 477.58 L182.22 476.43 L182.42 475.28 L182.61 474.13 L182.81 472.98 L183.00 471.83 L183.19 470.68 L183.38 469.53 L183.57 468.38 L183.76 467.23 L183.94 466.08 L184.13 464.93 L184.31 463.78 L184.50 462.62 L184.68 461.47 L184.86 460.32 L185.04 459.17 L185.22 458.02 L185.40 456.87 L185.57 455.71 L185.75 454.56 L185.92 453.41 L186.10 452.25 L186.27 451.10 L186.44 449.95 L186.62 448.79 L186.79 447.64 L186.96 446.48 L187.13 445.33 L187.30 444.17 L187.48 443.02 L187.65 441.86 L187.82 440.71 L188.00 439.55 L188.17 438.40 L188.35 437.24 L188.52 436.08 L188.70 434.92 L188.88 433.77 L189.05 432.61 L189.23 431.45 L189.42 430.29 L189.60 429.14 L189.78 427.98 L189.97 426.82 L190.16 425.66 L190.35 424.50 L190.54 423.34 L190.73 422.18 L190.92 421.02 L191.12 419.87 L191.32 418.71 L191.52 417.55 L191.73 416.39 L191.94 415.22 L192.15 414.06 L192.36 412.90 L192.57 411.74 L192.79 410.58 L193.02 409.42 L193.24 408.26 L193.47 407.10 L193.70 405.94 L193.94 404.77 L194.18 403.61 L194.42 402.45 L194.67 401.29 L194.92 400.13 L195.17 398.96 L195.43 397.80 L195.69 396.64 L195.96 395.47 L196.23 394.31 L196.51 393.15 L196.79 391.99 L197.08 390.82 L197.37 389.66 L197.66 388.49 L197.96 387.33 L198.27 386.17 L198.58 385.00 L198.90 383.84 L199.22 382.68 L199.55 381.51 L199.88 380.35 L200.22 379.18 L200.57 378.02 L200.92 376.85 L201.28 375.69 L201.64 374.53 L202.01 373.37 L202.39 372.21 L202.78 371.05 L203.18 369.90 L203.58 368.76 L204.00 367.62 L204.43 366.48 L204.86 365.35 L205.31 364.23 L205.77 363.12 L206.24 362.02 L206.72 360.92 L207.22 359.84 L207.73 358.77 L208.25 357.71 L208.79 356.66 L209.34 355.62 L209.91 354.60 L210.50 353.59 L211.10 352.59 L211.71 351.61 L212.34 350.65 L212.99 349.71 L213.66 348.78 L214.35 347.87 L215.06 346.98 L215.78 346.11 L216.52 345.25 L217.29 344.42 L218.07 343.62 L218.88 342.83 L219.71 342.07 L220.56 341.32 L221.43 340.60 L222.31 339.91 L223.22 339.23 L224.15 338.58 L225.09 337.94 L226.05 337.33 L227.03 336.73 L228.02 336.16 L229.02 335.61 L230.05 335.07 L231.08 334.55 L232.13 334.05 L233.19 333.57 L234.27 333.11 L235.35 332.67 L236.45 332.24 L237.55 331.83 L238.67 331.43 L239.79 331.05 L240.92 330.69 L242.06 330.34 L243.21 330.01 L244.36 329.69 L245.52 329.39 L246.69 329.10 L247.86 328.82 L249.03 328.56 L250.21 328.31 L251.39 328.07 L252.57 327.85 L253.75 327.64 L254.94 327.44 L256.12 327.25 L257.31 327.07 L258.49 326.90 L259.68 326.75 L260.86 326.60 L262.05 326.46 L263.23 326.34 L264.42 326.22 L265.61 326.11 L266.79 326.01 L267.98 325.91 L269.17 325.83 L270.35 325.75 L271.54 325.68 L272.73 325.62 L273.91 325.56 L275.10 325.51 L276.29 325.46 L277.47 325.42 L278.66 325.39 L279.85 325.36 L281.03 325.33 L282.22 325.31 L283.41 325.29 L284.59 325.27 L285.78 325.26 L286.96 325.25 L288.15 325.25 L289.33 325.24 L290.51 325.24 L291.70 325.24 L292.88 325.24 L294.06 325.24 L295.24 325.24 L296.43 325.24 L297.61 325.24 L298.79 325.24 L299.97 325.24 L301.14 325.24 L302.32 325.23 L303.50 325.23 L304.68 325.22 L305.85 325.21 L307.03 325.20 L308.20 325.18 L309.38 325.16 L310.55 325.14 L311.72 325.11 L312.89 325.08 L314.06 325.04 L315.23 325.00 L316.40 324.95 L317.56 324.89 L318.73 324.83 L319.89 324.77 L321.06 324.69 L322.22 324.61 L323.38 324.52 L324.54 324.43 L325.70 324.32" stroke="#ff8c00" stroke-width="1.65" stroke-dasharray="2.2 1.9"/>
<path d="M42.30 596.58 L43.43 596.51 L44.56 596.45 L45.70 596.39 L46.84 596.33 L47.99 596.28 L49.13 596.23 L50.28 596.18 L51.44 596.14 L52.59 596.10 L53.75 596.06 L54.91 596.02 L56.08 595.98 L57.25 595.95 L58.42 595.91 L59.59 595.88 L60.77 595.85 L61.94 595.82 L63.12 595.79 L64.30 595.76 L65.49 595.73 L66.67 595.70 L67.86 595.67 L69.04 595.64 L70.23 595.61 L71.42 595.58 L72.62 595.54 L73.81 595.51 L75.00 595.47 L76.20 595.43 L77.39 595.39 L78.59 595.35 L79.79 595.30 L80.99 595.26 L82.18 595.20 L83.38 595.15 L84.58 595.09 L85.78 595.03 L86.98 594.97 L88.17 594.90 L89.37 594.83 L90.57 594.75 L91.77 594.67 L92.96 594.59 L94.16 594.50 L95.35 594.40 L96.55 594.30 L97.74 594.19 L98.93 594.08 L100.12 593.96 L101.31 593.84 L102.50 593.71 L103.68 593.57 L104.87 593.42 L106.05 593.27 L107.23 593.11 L108.41 592.95 L109.58 592.77 L110.76 592.59 L111.93 592.40 L113.10 592.20 L114.27 592.00 L115.43 591.78 L116.59 591.56 L117.75 591.33 L118.91 591.08 L120.06 590.83 L121.21 590.57 L122.36 590.30 L123.50 590.01 L124.64 589.72 L125.77 589.42 L126.91 589.11 L128.03 588.78 L129.16 588.44 L130.28 588.10 L131.39 587.73 L132.50 587.36 L133.60 586.97 L134.69 586.56 L135.78 586.14 L136.85 585.69 L137.92 585.24 L138.98 584.76 L140.02 584.26 L141.06 583.74 L142.08 583.20 L143.09 582.64 L144.09 582.05 L145.08 581.44 L146.05 580.80 L147.00 580.14 L147.94 579.45 L148.86 578.74 L149.77 578.00 L150.66 577.23 L151.52 576.43 L152.38 575.62 L153.21 574.78 L154.02 573.92 L154.81 573.05 L155.58 572.15 L156.32 571.24 L157.05 570.32 L157.75 569.38 L158.43 568.44 L159.08 567.48 L159.71 566.51 L160.32 565.53 L160.91 564.54 L161.48 563.54 L162.02 562.53 L162.55 561.51 L163.06 560.48 L163.56 559.44 L164.03 558.39 L164.49 557.34 L164.94 556.28 L165.37 555.20 L165.78 554.13 L166.18 553.04 L166.57 551.95 L166.95 550.85 L167.31 549.74 L167.66 548.63 L168.01 547.51 L168.34 546.38 L168.67 545.25 L168.98 544.12 L169.29 542.98 L169.60 541.83 L169.89 540.68 L170.18 539.53 L170.47 538.37 L170.75 537.21 L171.02 536.05 L171.29 534.88 L171.55 533.71 L171.81 532.53 L172.06 531.36 L172.31 530.18 L172.56 529.00 L172.80 527.82 L173.04 526.64 L173.27 525.45 L173.51 524.27 L173.74 523.08 L173.97 521.90 L174.19 520.71 L174.42 519.53 L174.64 518.34 L174.86 517.16 L175.08 515.98 L175.30 514.79 L175.52 513.61 L175.74 512.44 L175.96 511.26 L176.18 510.08 L176.40 508.91 L176.61 507.74 L176.83 506.57 L177.05 505.40 L177.26 504.23 L177.48 503.06 L177.69 501.89 L177.91 500.73 L178.12 499.56 L178.33 498.40 L178.55 497.24 L178.76 496.07 L178.97 494.91 L179.18 493.75 L179.39 492.59 L179.59 491.44 L179.80 490.28 L180.01 489.12 L180.21 487.97 L180.42 486.81 L180.62 485.66 L180.83 484.50 L181.03 483.35 L181.23 482.19 L181.43 481.04 L181.63 479.89 L181.83 478.74 L182.03 477.58 L182.22 476.43 L182.42 475.28 L182.61 474.13 L182.81 472.98 L183.00 471.83 L183.19 470.68 L183.38 469.53 L183.57 468.38 L183.76 467.23 L183.94 466.08 L184.13 464.93 L184.31 463.78 L184.50 462.62 L184.68 461.47 L184.86 460.32 L185.04 459.17 L185.22 458.02 L185.40 456.87 L185.57 455.71 L185.75 454.56 L185.92 453.41 L186.10 452.25 L186.27 451.10 L186.44 449.95 L186.62 448.79 L186.79 447.64 L186.96 446.48 L187.13 445.33 L187.30 444.17 L187.48 443.02 L187.65 441.86 L187.82 440.71 L188.00 439.55 L188.17 438.40 L188.35 437.24 L188.52 436.08 L188.70 434.92 L188.88 433.77 L189.05 432.61 L189.23 431.45 L189.42 430.29 L189.60 429.14 L189.78 427.98 L189.97 426.82 L190.16 425.66 L190.35 424.50 L190.54 423.34 L190.73 422.18 L190.92 421.02 L191.12 419.87 L191.32 418.71 L191.52 417.55 L191.73 416.39 L191.94 415.22 L192.15 414.06 L192.36 412.90 L192.57 411.74 L192.79 410.58 L193.02 409.42 L193.24 408.26 L193.47 407.10 L193.70 405.94 L193.94 404.77 L194.18 403.61 L194.42 402.45 L194.67 401.29 L194.92 400.13 L195.17 398.96 L195.43 397.80 L195.69 396.64 L195.96 395.47 L196.23 394.31 L196.51 393.15 L196.79 391.99 L197.08 390.82 L197.37 389.66 L197.66 388.49 L197.96 387.33 L198.27 386.17 L198.58 385.00 L198.90 383.84 L199.22 382.68 L199.55 381.51 L199.88 380.35 L200.22 379.18 L200.57 378.02 L200.92 376.85 L201.28 375.69 L201.64 374.53 L202.01 373.37 L202.39 372.21 L202.78 371.05 L203.18 369.90 L203.58 368.76 L204.00 367.62 L204.43 366.48 L204.86 365.35 L205.31 364.23 L205.77 363.12 L206.24 362.02 L206.72 360.92 L207.22 359.84 L207.73 358.77 L208.25 357.71 L208.79 356.66 L209.34 355.62 L209.91 354.60 L210.50 353.59 L211.10 352.59 L211.71 351.61 L212.34 350.65 L212.99 349.71 L213.66 348.78 L214.35 347.87 L215.06 346.98 L215.78 346.11 L216.52 345.25 L217.29 344.42 L218.07 343.62 L218.88 342.83 L219.71 342.07 L220.56 341.32 L221.43 340.60 L222.31 339.91 L223.22 339.23 L224.15 338.58 L225.09 337.94 L226.05 337.33 L227.03 336.73 L228.02 336.16 L229.02 335.61 L230.05 335.07 L231.08 334.55 L232.13 334.05 L233.19 333.57 L234.27 333.11 L235.35 332.67 L236.45 332.24 L237.55 331.83 L238.67 331.43 L239.79 331.05 L240.92 330.69 L242.06 330.34 L243.21 330.01 L244.36 329.69 L245.52 329.39 L246.69 329.10 L247.86 328.82 L249.03 328.56 L250.21 328.31 L251.39 328.07 L252.57 327.85 L253.75 327.64 L254.94 327.44 L256.12 327.25 L257.31 327.07 L258.49 326.90 L259.68 326.75 L260.86 326.60 L262.05 326.46 L263.23 326.34 L264.42 326.22 L265.61 326.11 L266.79 326.01 L267.98 325.91 L269.17 325.83 L270.35 325.75 L271.54 325.68 L272.73 325.62 L273.91 325.56 L275.10 325.51 L276.29 325.46 L277.47 325.42 L278.66 325.39 L279.85 325.36 L281.03 325.33 L282.22 325.31 L283.41 325.29 L284.59 325.27 L285.78 325.26 L286.96 325.25 L288.15 325.25 L289.33 325.24 L290.51 325.24 L291.70 325.24 L292.88 325.24 L294.06 325.24 L295.24 325.24 L296.43 325.24 L297.61 325.24 L298.79 325.24 L299.97 325.24 L301.14 325.24 L302.32 325.23 L303.50 325.23 L304.68 325.22 L305.85 325.21 L307.03 325.20 L308.20 325.18 L309.38 325.16 L310.55 325.14 L311.72 325.11 L312.89 325.08 L314.06 325.04 L315.23 325.00 L316.40 324.95 L317.56 324.89 L318.73 324.83 L319.89 324.77 L321.06 324.69 L322.22 324.61 L323.38 324.52 L324.54 324.43 L325.70 324.32" stroke="#6b8e23" stroke-width="1.65" stroke-dasharray="9 5 1.5 5"/>
<path d="M42.30 596.58 L43.43 596.51 L44.56 596.45 L45.70 596.39 L46.84 596.33 L47.99 596.28 L49.13 596.23 L50.28 596.18 L51.44 596.14 L52.59 596.10 L53.75 596.06 L54.91 596.02 L56.08 595.98 L57.25 595.95 L58.42 595.91 L59.59 595.88 L60.77 595.85 L61.94 595.82 L63.12 595.79 L64.30 595.76 L65.49 595.73 L66.67 595.70 L67.86 595.67 L69.04 595.64 L70.23 595.61 L71.42 595.58 L72.62 595.54 L73.81 595.51 L75.00 595.47 L76.20 595.43 L77.39 595.39 L78.59 595.35 L79.79 595.30 L80.99 595.26 L82.18 595.20 L83.38 595.15 L84.58 595.09 L85.78 595.03 L86.98 594.97 L88.17 594.90 L89.37 594.83 L90.57 594.75 L91.77 594.67 L92.96 594.59 L94.16 594.50 L95.35 594.40 L96.55 594.30 L97.74 594.19 L98.93 594.08 L100.12 593.96 L101.31 593.84 L102.50 593.71 L103.68 593.57 L104.87 593.42 L106.05 593.27 L107.23 593.11 L108.41 592.95 L109.58 592.77 L110.76 592.59 L111.93 592.40 L113.10 592.20 L114.27 592.00 L115.43 591.78 L116.59 591.56 L117.75 591.33 L118.91 591.08 L120.06 590.83 L121.21 590.57 L122.36 590.30 L123.50 590.01 L124.64 589.72 L125.77 589.42 L126.91 589.11 L128.03 588.78 L129.16 588.44 L130.28 588.10 L131.39 587.73 L132.50 587.36 L133.60 586.97 L134.69 586.56 L135.78 586.14 L136.85 585.69 L137.92 585.24 L138.98 584.76 L140.02 584.26 L141.06 583.74 L142.08 583.20 L143.09 582.64 L144.09 582.05 L145.08 581.44 L146.05 580.80 L147.00 580.14 L147.94 579.45 L148.86 578.74 L149.77 578.00 L150.66 577.23 L151.52 576.43 L152.38 575.62 L153.21 574.78 L154.02 573.92 L154.81 573.05 L155.58 572.15 L156.32 571.24 L157.05 570.32 L157.75 569.38 L158.43 568.44 L159.08 567.48 L159.71 566.51 L160.32 565.53 L160.91 564.54 L161.48 563.54 L162.02 562.53 L162.55 561.51 L163.06 560.48 L163.56 559.44 L164.03 558.39 L164.49 557.34 L164.94 556.28 L165.37 555.20 L165.78 554.13 L166.18 553.04 L166.57 551.95 L166.95 550.85 L167.31 549.74 L167.66 548.63 L168.01 547.51 L168.34 546.38 L168.67 545.25 L168.98 544.12 L169.29 542.98 L169.60 541.83 L169.89 540.68 L170.18 539.53 L170.47 538.37 L170.75 537.21 L171.02 536.05 L171.29 534.88 L171.55 533.71 L171.81 532.53 L172.06 531.36 L172.31 530.18 L172.56 529.00 L172.80 527.82 L173.04 526.64 L173.27 525.45 L173.51 524.27 L173.74 523.08 L173.97 521.90 L174.19 520.71 L174.42 519.53 L174.64 518.34 L174.86 517.16 L175.08 515.98 L175.30 514.79 L175.52 513.61 L175.74 512.44 L175.96 511.26 L176.18 510.08 L176.40 508.91 L176.61 507.74 L176.83 506.57 L177.05 505.40 L177.26 504.23 L177.48 503.06 L177.69 501.89 L177.91 500.73 L178.12 499.56 L178.33 498.40 L178.55 497.24 L178.76 496.07 L178.97 494.91 L179.18 493.75 L179.39 492.59 L179.59 491.44 L179.80 490.28 L180.01 489.12 L180.21 487.97 L180.42 486.81 L180.62 485.66 L180.83 484.50 L181.03 483.35 L181.23 482.19 L181.43 481.04 L181.63 479.89 L181.83 478.74 L182.03 477.58 L182.22 476.43 L182.42 475.28 L182.61 474.13 L182.81 472.98 L183.00 471.83 L183.19 470.68 L183.38 469.53 L183.57 468.38 L183.76 467.23 L183.94 466.08 L184.13 464.93 L184.31 463.78 L184.50 462.62 L184.68 461.47 L184.86 460.32 L185.04 459.17 L185.22 458.02 L185.40 456.87 L185.57 455.71 L185.75 454.56 L185.92 453.41 L186.10 452.25 L186.27 451.10 L186.44 449.95 L186.62 448.79 L186.79 447.64 L186.96 446.48 L187.13 445.33 L187.30 444.17 L187.48 443.02 L187.65 441.86 L187.82 440.71 L188.00 439.55 L188.17 438.40 L188.35 437.24 L188.52 436.08 L188.70 434.92 L188.88 433.77 L189.05 432.61 L189.23 431.45 L189.42 430.29 L189.60 429.14 L189.78 427.98 L189.97 426.82 L190.16 425.66 L190.35 424.50 L190.54 423.34 L190.73 422.18 L190.92 421.02 L191.12 419.87 L191.32 418.71 L191.52 417.55 L191.73 416.39 L191.94 415.22 L192.15 414.06 L192.36 412.90 L192.57 411.74 L192.79 410.58 L193.02 409.42 L193.24 408.26 L193.47 407.10 L193.70 405.94 L193.94 404.77 L194.18 403.61 L194.42 402.45 L194.67 401.29 L194.92 400.13 L195.17 398.96 L195.43 397.80 L195.69 396.64 L195.96 395.47 L196.23 394.31 L196.51 393.15 L196.79 391.99 L197.08 390.82 L197.37 389.66 L197.66 388.49 L197.96 387.33 L198.27 386.17 L198.58 385.00 L198.90 383.84 L199.22 382.68 L199.55 381.51 L199.88 380.35 L200.22 379.18 L200.57 378.02 L200.92 376.85 L201.28 375.69 L201.64 374.53 L202.01 373.37 L202.39 372.21 L202.78 371.05 L203.18 369.90 L203.58 368.76 L204.00 367.62 L204.43 366.48 L204.86 365.35 L205.31 364.23 L205.77 363.12 L206.24 362.02 L206.72 360.92 L207.22 359.84 L207.73 358.77 L208.25 357.71 L208.79 356.66 L209.34 355.62 L209.91 354.60 L210.50 353.59 L211.10 352.59 L211.71 351.61 L212.34 350.65 L212.99 349.71 L213.66 348.78 L214.35 347.87 L215.06 346.98 L215.78 346.11 L216.52 345.25 L217.29 344.42 L218.07 343.62 L218.88 342.83 L219.71 342.07 L220.56 341.32 L221.43 340.60 L222.31 339.91 L223.22 339.23 L224.15 338.58 L225.09 337.94 L226.05 337.33 L227.03 336.73 L228.02 336.16 L229.02 335.61 L230.05 335.07 L231.08 334.55 L232.13 334.05 L233.19 333.57 L234.27 333.11 L235.35 332.67 L236.45 332.24 L237.55 331.83 L238.67 331.43 L239.79 331.05 L240.92 330.69 L242.06 330.34 L243.21 330.01 L244.36 329.69 L245.52 329.39 L246.69 329.10 L247.86 328.82 L249.03 328.56 L250.21 328.31 L251.39 328.07 L252.57 327.85 L253.75 327.64 L254.94 327.44 L256.12 327.25 L257.31 327.07 L258.49 326.90 L259.68 326.75 L260.86 326.60 L262.05 326.46 L263.23 326.34 L264.42 326.22 L265.61 326.11 L266.79 326.01 L267.98 325.91 L269.17 325.83 L270.35 325.75 L271.54 325.68 L272.73 325.62 L273.91 325.56 L275.10 325.51 L276.29 325.46 L277.47 325.42 L278.66 325.39 L279.85 325.36 L281.03 325.33 L282.22 325.31 L283.41 325.29 L284.59 325.27 L285.78 325.26 L286.96 325.25 L288.15 325.25 L289.33 325.24 L290.51 325.24 L291.70 325.24 L292.88 325.24 L294.06 325.24 L295.24 325.24 L296.43 325.24 L297.61 325.24 L298.79 325.24 L299.97 325.24 L301.14 325.24 L302.32 325.23 L303.50 325.23 L304.68 325.22 L305.85 325.21 L307.03 325.20 L308.20 325.18 L309.38 325.16 L310.55 325.14 L311.72 325.11 L312.89 325.08 L314.06 325.04 L315.23 325.00 L316.40 324.95 L317.56 324.89 L318.73 324.83 L319.89 324.77 L321.06 324.69 L322.22 324.61 L323.38 324.52 L324.54 324.43 L325.70 324.32" stroke="#2e7396" stroke-width="1.6"/>
<path d="M42.30 596.58 L43.43 596.51 L44.56 596.45 L45.70 596.39 L46.84 596.33 L47.99 596.28 L49.13 596.23 L50.28 596.18 L51.44 596.14 L52.59 596.10 L53.75 596.06 L54.91 596.02 L56.08 595.98 L57.25 595.95 L58.42 595.91 L59.59 595.88 L60.77 595.85 L61.94 595.82 L63.12 595.79 L64.30 595.76 L65.49 595.73 L66.67 595.70 L67.86 595.67 L69.04 595.64 L70.23 595.61 L71.42 595.58 L72.62 595.54 L73.81 595.51 L75.00 595.47 L76.20 595.43 L77.39 595.39 L78.59 595.35 L79.79 595.30 L80.99 595.26 L82.18 595.20 L83.38 595.15 L84.58 595.09 L85.78 595.03 L86.98 594.97 L88.17 594.90 L89.37 594.83 L90.57 594.75 L91.77 594.67 L92.96 594.59 L94.16 594.50 L95.35 594.40 L96.55 594.30 L97.74 594.19 L98.93 594.08 L100.12 593.96 L101.31 593.84 L102.50 593.71 L103.68 593.57 L104.87 593.42 L106.05 593.27 L107.23 593.11 L108.41 592.95 L109.58 592.77 L110.76 592.59 L111.93 592.40 L113.10 592.20 L114.27 592.00 L115.43 591.78 L116.59 591.56 L117.75 591.33 L118.91 591.08 L120.06 590.83 L121.21 590.57 L122.36 590.30 L123.50 590.01 L124.64 589.72 L125.77 589.42 L126.91 589.11 L128.03 588.78 L129.16 588.44 L130.28 588.10 L131.39 587.73 L132.50 587.36 L133.60 586.97 L134.69 586.56 L135.78 586.14 L136.85 585.69 L137.92 585.24 L138.98 584.76 L140.02 584.26 L141.06 583.74 L142.08 583.20 L143.09 582.64 L144.09 582.05 L145.08 581.44 L146.05 580.80 L147.00 580.14 L147.94 579.45 L148.86 578.74 L149.77 578.00 L150.66 577.23 L151.52 576.43 L152.38 575.62 L153.21 574.78 L154.02 573.92 L154.81 573.05 L155.58 572.15 L156.32 571.24 L157.05 570.32 L157.75 569.38 L158.43 568.44 L159.08 567.48 L159.71 566.51 L160.32 565.53 L160.91 564.54 L161.48 563.54 L162.02 562.53 L162.55 561.51 L163.06 560.48 L163.56 559.44 L164.03 558.39 L164.49 557.34 L164.94 556.28 L165.37 555.20 L165.78 554.13 L166.18 553.04 L166.57 551.95 L166.95 550.85 L167.31 549.74 L167.66 548.63 L168.01 547.51 L168.34 546.38 L168.67 545.25 L168.98 544.12 L169.29 542.98 L169.60 541.83 L169.89 540.68 L170.18 539.53 L170.47 538.37 L170.75 537.21 L171.02 536.05 L171.29 534.88 L171.55 533.71 L171.81 532.53 L172.06 531.36 L172.31 530.18 L172.56 529.00 L172.80 527.82 L173.04 526.64 L173.27 525.45 L173.51 524.27 L173.74 523.08 L173.97 521.90 L174.19 520.71 L174.42 519.53 L174.64 518.34 L174.86 517.16 L175.08 515.98 L175.30 514.79 L175.52 513.61 L175.74 512.44 L175.96 511.26 L176.18 510.08 L176.40 508.91 L176.61 507.74 L176.83 506.57 L177.05 505.40 L177.26 504.23 L177.48 503.06 L177.69 501.89 L177.91 500.73 L178.12 499.56 L178.33 498.40 L178.55 497.24 L178.76 496.07 L178.97 494.91 L179.18 493.75 L179.39 492.59 L179.59 491.44 L179.80 490.28 L180.01 489.12 L180.21 487.97 L180.42 486.81 L180.62 485.66 L180.83 484.50 L181.03 483.35 L181.23 482.19 L181.43 481.04 L181.63 479.89 L181.83 478.74 L182.03 477.58 L182.22 476.43 L182.42 475.28 L182.61 474.13 L182.81 472.98 L183.00 471.83 L183.19 470.68 L183.38 469.53 L183.57 468.38 L183.76 467.23 L183.94 466.08 L184.13 464.93 L184.31 463.78 L184.50 462.62 L184.68 461.47 L184.86 460.32 L185.04 459.17 L185.22 458.02 L185.40 456.87 L185.57 455.71 L185.75 454.56 L185.92 453.41 L186.10 452.25 L186.27 451.10 L186.44 449.95 L186.62 448.79 L186.79 447.64 L186.96 446.48 L187.13 445.33 L187.30 444.17 L187.48 443.02 L187.65 441.86 L187.82 440.71 L188.00 439.55 L188.17 438.40 L188.35 437.24 L188.52 436.08 L188.70 434.92 L188.88 433.77 L189.05 432.61 L189.23 431.45 L189.42 430.29 L189.60 429.14 L189.78 427.98 L189.97 426.82 L190.16 425.66 L190.35 424.50 L190.54 423.34 L190.73 422.18 L190.92 421.02 L191.12 419.87 L191.32 418.71 L191.52 417.55 L191.73 416.39 L191.94 415.22 L192.15 414.06 L192.36 412.90 L192.57 411.74 L192.79 410.58 L193.02 409.42 L193.24 408.26 L193.47 407.10 L193.70 405.94 L193.94 404.77 L194.18 403.61 L194.42 402.45 L194.67 401.29 L194.92 400.13 L195.17 398.96 L195.43 397.80 L195.69 396.64 L195.96 395.47 L196.23 394.31 L196.51 393.15 L196.79 391.99 L197.08 390.82 L197.37 389.66 L197.66 388.49 L197.96 387.33 L198.27 386.17 L198.58 385.00 L198.90 383.84 L199.22 382.68 L199.55 381.51 L199.88 380.35 L200.22 379.18 L200.57 378.02 L200.92 376.85 L201.28 375.69 L201.64 374.53 L202.01 373.37 L202.39 372.21 L202.78 371.05 L203.18 369.90 L203.58 368.76 L204.00 367.62 L204.43 366.48 L204.86 365.35 L205.31 364.23 L205.77 363.12 L206.24 362.02 L206.72 360.92 L207.22 359.84 L207.73 358.77 L208.25 357.71 L208.79 356.66 L209.34 355.62 L209.91 354.60 L210.50 353.59 L211.10 352.59 L211.71 351.61 L212.34 350.65 L212.99 349.71 L213.66 348.78 L214.35 347.87 L215.06 346.98 L215.78 346.11 L216.52 345.25 L217.29 344.42 L218.07 343.62 L218.88 342.83 L219.71 342.07 L220.56 341.32 L221.43 340.60 L222.31 339.91 L223.22 339.23 L224.15 338.58 L225.09 337.94 L226.05 337.33 L227.03 336.73 L228.02 336.16 L229.02 335.61 L230.05 335.07 L231.08 334.55 L232.13 334.05 L233.19 333.57 L234.27 333.11 L235.35 332.67 L236.45 332.24 L237.55 331.83 L238.67 331.43 L239.79 331.05 L240.92 330.69 L242.06 330.34 L243.21 330.01 L244.36 329.69 L245.52 329.39 L246.69 329.10 L247.86 328.82 L249.03 328.56 L250.21 328.31 L251.39 328.07 L252.57 327.85 L253.75 327.64 L254.94 327.44 L256.12 327.25 L257.31 327.07 L258.49 326.90 L259.68 326.75 L260.86 326.60 L262.05 326.46 L263.23 326.34 L264.42 326.22 L265.61 326.11 L266.79 326.01 L267.98 325.91 L269.17 325.83 L270.35 325.75 L271.54 325.68 L272.73 325.62 L273.91 325.56 L275.10 325.51 L276.29 325.46 L277.47 325.42 L278.66 325.39 L279.85 325.36 L281.03 325.33 L282.22 325.31 L283.41 325.29 L284.59 325.27 L285.78 325.26 L286.96 325.25 L288.15 325.25 L289.33 325.24 L290.51 325.24 L291.70 325.24 L292.88 325.24 L294.06 325.24 L295.24 325.24 L296.43 325.24 L297.61 325.24 L298.79 325.24 L299.97 325.24 L301.14 325.24 L302.32 325.23 L303.50 325.23 L304.68 325.22 L305.85 325.21 L307.03 325.20 L308.20 325.18 L309.38 325.16 L310.55 325.14 L311.72 325.11 L312.89 325.08 L314.06 325.04 L315.23 325.00 L316.40 324.95 L317.56 324.89 L318.73 324.83 L319.89 324.77 L321.06 324.69 L322.22 324.61 L323.38 324.52 L324.54 324.43 L325.70 324.32" stroke="#0000ff" stroke-width="1.6"/>
<path d="M42.30 596.58 L43.43 596.51 L44.56 596.45 L45.70 596.39 L46.84 596.33 L47.99 596.28 L49.13 596.23 L50.28 596.18 L51.44 596.14 L52.59 596.10 L53.75 596.06 L54.91 596.02 L56.08 595.98 L57.25 595.95 L58.42 595.91 L59.59 595.88 L60.77 595.85 L61.94 595.82 L63.12 595.79 L64.30 595.76 L65.49 595.73 L66.67 595.70 L67.86 595.67 L69.04 595.64 L70.23 595.61 L71.42 595.58 L72.62 595.54 L73.81 595.51 L75.00 595.47 L76.20 595.43 L77.39 595.39 L78.59 595.35 L79.79 595.30 L80.99 595.26 L82.18 595.20 L83.38 595.15 L84.58 595.09 L85.78 595.03 L86.98 594.97 L88.17 594.90 L89.37 594.83 L90.57 594.75 L91.77 594.67 L92.96 594.59 L94.16 594.50 L95.35 594.40 L96.55 594.30 L97.74 594.19 L98.93 594.08 L100.12 593.96 L101.31 593.84 L102.50 593.71 L103.68 593.57 L104.87 593.42 L106.05 593.27 L107.23 593.11 L108.41 592.95 L109.58 592.77 L110.76 592.59 L111.93 592.40 L113.10 592.20 L114.27 592.00 L115.43 591.78 L116.59 591.56 L117.75 591.33 L118.91 591.08 L120.06 590.83 L121.21 590.57 L122.36 590.30 L123.50 590.01 L124.64 589.72 L125.77 589.42 L126.91 589.11 L128.03 588.78 L129.16 588.44 L130.28 588.10 L131.39 587.73 L132.50 587.36 L133.60 586.97 L134.69 586.56 L135.78 586.14 L136.85 585.69 L137.92 585.24 L138.98 584.76 L140.02 584.26 L141.06 583.74 L142.08 583.20 L143.09 582.64 L144.09 582.05 L145.08 581.44 L146.05 580.80 L147.00 580.14 L147.94 579.45 L148.86 578.74 L149.77 578.00 L150.66 577.23 L151.52 576.43 L152.38 575.62 L153.21 574.78 L154.02 573.92 L154.81 573.05 L155.58 572.15 L156.32 571.24 L157.05 570.32 L157.75 569.38 L158.43 568.44 L159.08 567.48 L159.71 566.51 L160.32 565.53 L160.91 564.54 L161.48 563.54 L162.02 562.53 L162.55 561.51 L163.06 560.48 L163.56 559.44 L164.03 558.39 L164.49 557.34 L164.94 556.28 L165.37 555.20 L165.78 554.13 L166.18 553.04 L166.57 551.95 L166.95 550.85 L167.31 549.74 L167.66 548.63 L168.01 547.51 L168.34 546.38 L168.67 545.25 L168.98 544.12 L169.29 542.98 L169.60 541.83 L169.89 540.68 L170.18 539.53 L170.47 538.37 L170.75 537.21 L171.02 536.05 L171.29 534.88 L171.55 533.71 L171.81 532.53 L172.06 531.36 L172.31 530.18 L172.56 529.00 L172.80 527.82 L173.04 526.64 L173.27 525.45 L173.51 524.27 L173.74 523.08 L173.97 521.90 L174.19 520.71 L174.42 519.53 L174.64 518.34 L174.86 517.16 L175.08 515.98 L175.30 514.79 L175.52 513.61 L175.74 512.44 L175.96 511.26 L176.18 510.08 L176.40 508.91 L176.61 507.74 L176.83 506.57 L177.05 505.40 L177.26 504.23 L177.48 503.06 L177.69 501.89 L177.91 500.73 L178.12 499.56 L178.33 498.40 L178.55 497.24 L178.76 496.07 L178.97 494.91 L179.18 493.75 L179.39 492.59 L179.59 491.44 L179.80 490.28 L180.01 489.12 L180.21 487.97 L180.42 486.81 L180.62 485.66 L180.83 484.50 L181.03 483.35 L181.23 482.19 L181.43 481.04 L181.63 479.89 L181.83 478.74 L182.03 477.58 L182.22 476.43 L182.42 475.28 L182.61 474.13 L182.81 472.98 L183.00 471.83 L183.19 470.68 L183.38 469.53 L183.57 468.38 L183.76 467.23 L183.94 466.08 L184.13 464.93 L184.31 463.78 L184.50 462.62 L184.68 461.47 L184.86 460.32 L185.04 459.17 L185.22 458.02 L185.40 456.87 L185.57 455.71 L185.75 454.56 L185.92 453.41 L186.10 452.25 L186.27 451.10 L186.44 449.95 L186.62 448.79 L186.79 447.64 L186.96 446.48 L187.13 445.33 L187.30 444.17 L187.48 443.02 L187.65 441.86 L187.82 440.71 L188.00 439.55 L188.17 438.40 L188.35 437.24 L188.52 436.08 L188.70 434.92 L188.88 433.77 L189.05 432.61 L189.23 431.45 L189.42 430.29 L189.60 429.14 L189.78 427.98 L189.97 426.82 L190.16 425.66 L190.35 424.50 L190.54 423.34 L190.73 422.18 L190.92 421.02 L191.12 419.87 L191.32 418.71 L191.52 417.55 L191.73 416.39 L191.94 415.22 L192.15 414.06 L192.36 412.90 L192.57 411.74 L192.79 410.58 L193.02 409.42 L193.24 408.26 L193.47 407.10 L193.70 405.94 L193.94 404.77 L194.18 403.61 L194.42 402.45 L194.67 401.29 L194.92 400.13 L195.17 398.96 L195.43 397.80 L195.69 396.64 L195.96 395.47 L196.23 394.31 L196.51 393.15 L196.79 391.99 L197.08 390.82 L197.37 389.66 L197.66 388.49 L197.96 387.33 L198.27 386.17 L198.58 385.00 L198.90 383.84 L199.22 382.68 L199.55 381.51 L199.88 380.35 L200.22 379.18 L200.57 378.02 L200.92 376.85 L201.28 375.69 L201.64 374.53 L202.01 373.37 L202.39 372.21 L202.78 371.05 L203.18 369.90 L203.58 368.76 L204.00 367.62 L204.43 366.48 L204.86 365.35 L205.31 364.23 L205.77 363.12 L206.24 362.02 L206.72 360.92 L207.22 359.84 L207.73 358.77 L208.25 357.71 L208.79 356.66 L209.34 355.62 L209.91 354.60 L210.50 353.59 L211.10 352.59 L211.71 351.61 L212.34 350.65 L212.99 349.71 L213.66 348.78 L214.35 347.87 L215.06 346.98 L215.78 346.11 L216.52 345.25 L217.29 344.42 L218.07 343.62 L218.88 342.83 L219.71 342.07 L220.56 341.32 L221.43 340.60 L222.31 339.91 L223.22 339.23 L224.15 338.58 L225.09 337.94 L226.05 337.33 L227.03 336.73 L228.02 336.16 L229.02 335.61 L230.05 335.07 L231.08 334.55 L232.13 334.05 L233.19 333.57 L234.27 333.11 L235.35 332.67 L236.45 332.24 L237.55 331.83 L238.67 331.43 L239.79 331.05 L240.92 330.69 L242.06 330.34 L243.21 330.01 L244.36 329.69 L245.52 329.39 L246.69 329.10 L247.86 328.82 L249.03 328.56 L250.21 328.31 L251.39 328.07 L252.57 327.85 L253.75 327.64 L254.94 327.44 L256.12 327.25 L257.31 327.07 L258.49 326.90 L259.68 326.75 L260.86 326.60 L262.05 326.46 L263.23 326.34 L264.42 326.22 L265.61 326.11 L266.79 326.01 L267.98 325.91 L269.17 325.83 L270.35 325.75 L271.54 325.68 L272.73 325.62 L273.91 325.56 L275.10 325.51 L276.29 325.46 L277.47 325.42 L278.66 325.39 L279.85 325.36 L281.03 325.33 L282.22 325.31 L283.41 325.29 L284.59 325.27 L285.78 325.26 L286.96 325.25 L288.15 325.25 L289.33 325.24 L290.51 325.24 L291.70 325.24 L292.88 325.24 L294.06 325.24 L295.24 325.24 L296.43 325.24 L297.61 325.24 L298.79 325.24 L299.97 325.24 L301.14 325.24 L302.32 325.23 L303.50 325.23 L304.68 325.22 L305.85 325.21 L307.03 325.20 L308.20 325.18 L309.38 325.16 L310.55 325.14 L311.72 325.11 L312.89 325.08 L314.06 325.04 L315.23 325.00 L316.40 324.95 L317.56 324.89 L318.73 324.83 L319.89 324.77 L321.06 324.69 L322.22 324.61 L323.38 324.52 L324.54 324.43 L325.70 324.32" stroke="#800080" stroke-width="1.6"/>
<path d="M42.30 591.17 L43.72 590.87 L45.15 590.55 L46.57 590.22 L48.00 589.88 L49.42 589.53 L50.84 589.16 L52.27 588.77 L53.69 588.38 L55.12 587.96 L56.54 587.54 L57.97 587.09 L59.39 586.63 L60.81 586.16 L62.24 585.66 L63.66 585.15 L65.09 584.63 L66.51 584.08 L67.93 583.52 L69.36 582.93 L70.78 582.33 L72.21 581.71 L73.63 581.06 L75.05 580.40 L76.48 579.72 L77.90 579.01 L79.33 578.29 L80.75 577.54 L82.18 576.77 L83.60 575.97 L85.02 575.16 L86.45 574.32 L87.87 573.45 L89.30 572.57 L90.72 571.66 L92.14 570.72 L93.57 569.76 L94.99 568.78 L96.42 567.77 L97.84 566.73 L99.26 565.67 L100.69 564.58 L102.11 563.47 L103.54 562.33 L104.96 561.16 L106.39 559.97 L107.81 558.75 L109.23 557.51 L110.66 556.23 L112.08 554.94 L113.51 553.61 L114.93 552.26 L116.35 550.88 L117.78 549.47 L119.20 548.04 L120.63 546.58 L122.05 545.10 L123.47 543.58 L124.90 542.05 L126.32 540.48 L127.75 538.89 L129.17 537.28 L130.60 535.64 L132.02 533.97 L133.44 532.28 L134.87 530.57 L136.29 528.83 L137.72 527.06 L139.14 525.28 L140.56 523.47 L141.99 521.64 L143.41 519.79 L144.84 517.91 L146.26 516.02 L147.68 514.10 L149.11 512.16 L150.53 510.21 L151.96 508.23 L153.38 506.24 L154.81 504.23 L156.23 502.21 L157.65 500.17 L159.08 498.11 L160.50 496.04 L161.93 493.95 L163.35 491.85 L164.77 489.74 L166.20 487.62 L167.62 485.49 L169.05 483.34 L170.47 481.19 L171.89 479.03 L173.32 476.86 L174.74 474.69 L176.17 472.51 L177.59 470.32 L179.02 468.13 L180.44 465.94 L181.86 463.74 L183.29 461.55 L184.71 459.35 L186.14 457.16 L187.56 454.96 L188.98 452.77 L190.41 450.58 L191.83 448.39 L193.26 446.21 L194.68 444.04 L196.11 441.87 L197.53 439.71 L198.95 437.56 L200.38 435.41 L201.80 433.28 L203.23 431.16 L204.65 429.05 L206.07 426.95 L207.50 424.86 L208.92 422.79 L210.35 420.73 L211.77 418.69 L213.19 416.67 L214.62 414.66 L216.04 412.67 L217.47 410.69 L218.89 408.74 L220.32 406.80 L221.74 404.88 L223.16 402.99 L224.59 401.11 L226.01 399.26 L227.44 397.43 L228.86 395.62 L230.28 393.84 L231.71 392.07 L233.13 390.33 L234.56 388.62 L235.98 386.93 L237.40 385.26 L238.83 383.62 L240.25 382.01 L241.68 380.42 L243.10 378.85 L244.53 377.32 L245.95 375.80 L247.37 374.32 L248.80 372.86 L250.22 371.43 L251.65 370.02 L253.07 368.64 L254.49 367.29 L255.92 365.96 L257.34 364.67 L258.77 363.39 L260.19 362.15 L261.61 360.93 L263.04 359.74 L264.46 358.57 L265.89 357.43 L267.31 356.32 L268.74 355.23 L270.16 354.17 L271.58 353.13 L273.01 352.12 L274.43 351.14 L275.86 350.18 L277.28 349.24 L278.70 348.33 L280.13 347.45 L281.55 346.58 L282.98 345.74 L284.40 344.93 L285.82 344.13 L287.25 343.36 L288.67 342.61 L290.10 341.89 L291.52 341.18 L292.95 340.50 L294.37 339.84 L295.79 339.19 L297.22 338.57 L298.64 337.97 L300.07 337.38 L301.49 336.82 L302.91 336.27 L304.34 335.75 L305.76 335.24 L307.19 334.74 L308.61 334.27 L310.03 333.81 L311.46 333.36 L312.88 332.94 L314.31 332.52 L315.73 332.13 L317.16 331.74 L318.58 331.37 L320.00 331.02 L321.43 330.68 L322.85 330.35 L324.28 330.03 L325.70 329.73" stroke="#222" stroke-width="1.15" stroke-dasharray="5.5 3.5"/>
</g>
<g stroke="#3a3a3a" stroke-width="1.25" fill="none">
<path d="M34.30 323.50 L34.30 597.40 L334.30 597.40"/>
<line x1="34.30" y1="597.40" x2="37.80" y2="597.40"/>
<line x1="34.30" y1="570.01" x2="37.80" y2="570.01"/>
<line x1="34.30" y1="542.62" x2="37.80" y2="542.62"/>
<line x1="34.30" y1="515.23" x2="37.80" y2="515.23"/>
<line x1="34.30" y1="487.84" x2="37.80" y2="487.84"/>
<line x1="34.30" y1="460.45" x2="37.80" y2="460.45"/>
<line x1="34.30" y1="433.06" x2="37.80" y2="433.06"/>
<line x1="34.30" y1="405.67" x2="37.80" y2="405.67"/>
<line x1="34.30" y1="378.28" x2="37.80" y2="378.28"/>
<line x1="34.30" y1="350.89" x2="37.80" y2="350.89"/>
<line x1="34.30" y1="323.50" x2="37.80" y2="323.50"/>
<line x1="42.30" y1="597.40" x2="42.30" y2="594.20"/>
<line x1="113.15" y1="597.40" x2="113.15" y2="594.20"/>
<line x1="184.00" y1="597.40" x2="184.00" y2="594.20"/>
<line x1="254.85" y1="597.40" x2="254.85" y2="594.20"/>
<line x1="325.70" y1="597.40" x2="325.70" y2="594.20"/>
</g>
<g stroke="#3a3a3a" stroke-width="1" fill="none">
<line x1="60.01" y1="597.40" x2="60.01" y2="595.40"/>
<line x1="77.72" y1="597.40" x2="77.72" y2="595.40"/>
<line x1="95.44" y1="597.40" x2="95.44" y2="595.40"/>
<line x1="130.86" y1="597.40" x2="130.86" y2="595.40"/>
<line x1="148.57" y1="597.40" x2="148.57" y2="595.40"/>
<line x1="166.29" y1="597.40" x2="166.29" y2="595.40"/>
<line x1="201.71" y1="597.40" x2="201.71" y2="595.40"/>
<line x1="219.43" y1="597.40" x2="219.43" y2="595.40"/>
<line x1="237.14" y1="597.40" x2="237.14" y2="595.40"/>
<line x1="272.56" y1="597.40" x2="272.56" y2="595.40"/>
<line x1="290.27" y1="597.40" x2="290.27" y2="595.40"/>
<line x1="307.99" y1="597.40" x2="307.99" y2="595.40"/>
</g>
<g font-family="Liberation Sans, sans-serif" stroke="#111" stroke-width="0.18" font-size="9.8" fill="#111">
<text x="29.40" y="600.20" text-anchor="end" textLength="13.2" lengthAdjust="spacingAndGlyphs">0.0</text>
<text x="29.40" y="572.81" text-anchor="end" textLength="13.2" lengthAdjust="spacingAndGlyphs">0.1</text>
<text x="29.40" y="545.42" text-anchor="end" textLength="13.2" lengthAdjust="spacingAndGlyphs">0.2</text>
<text x="29.40" y="518.03" text-anchor="end" textLength="13.2" lengthAdjust="spacingAndGlyphs">0.3</text>
<text x="29.40" y="490.64" text-anchor="end" textLength="13.2" lengthAdjust="spacingAndGlyphs">0.4</text>
<text x="29.40" y="463.25" text-anchor="end" textLength="13.2" lengthAdjust="spacingAndGlyphs">0.5</text>
<text x="29.40" y="435.86" text-anchor="end" textLength="13.2" lengthAdjust="spacingAndGlyphs">0.6</text>
<text x="29.40" y="408.47" text-anchor="end" textLength="13.2" lengthAdjust="spacingAndGlyphs">0.7</text>
<text x="29.40" y="381.08" text-anchor="end" textLength="13.2" lengthAdjust="spacingAndGlyphs">0.8</text>
<text x="29.40" y="353.69" text-anchor="end" textLength="13.2" lengthAdjust="spacingAndGlyphs">0.9</text>
<text x="29.40" y="326.30" text-anchor="end" textLength="13.2" lengthAdjust="spacingAndGlyphs">1.0</text>
<text x="42.30" y="608.20" text-anchor="middle" textLength="11.3" lengthAdjust="spacingAndGlyphs">−2</text>
<text x="113.15" y="608.20" text-anchor="middle" textLength="11.3" lengthAdjust="spacingAndGlyphs">−1</text>
<text x="184.00" y="608.20" text-anchor="middle" textLength="5.2" lengthAdjust="spacingAndGlyphs">0</text>
<text x="254.85" y="608.20" text-anchor="middle" textLength="5.2" lengthAdjust="spacingAndGlyphs">1</text>
<text x="325.70" y="608.20" text-anchor="middle" textLength="5.2" lengthAdjust="spacingAndGlyphs">2</text>
</g>
<g fill="none" stroke-linejoin="round">
<path d="M406.60 595.21 L407.64 595.21 L408.69 595.21 L409.74 595.21 L410.79 595.21 L411.85 595.21 L412.92 595.21 L413.98 595.21 L415.06 595.21 L416.13 595.21 L417.21 595.21 L418.29 595.21 L419.38 595.21 L420.47 595.21 L421.56 595.21 L422.65 595.21 L423.75 595.21 L424.85 595.21 L425.95 595.21 L427.05 595.16 L428.15 595.09 L429.26 595.01 L430.36 594.92 L431.47 594.83 L432.58 594.73 L433.69 594.62 L434.80 594.50 L435.91 594.38 L437.02 594.25 L438.13 594.11 L439.25 593.97 L440.36 593.81 L441.47 593.65 L442.58 593.48 L443.68 593.31 L444.79 593.13 L445.90 592.93 L447.00 592.74 L448.11 592.53 L449.21 592.31 L450.31 592.09 L451.40 591.86 L452.50 591.62 L453.59 591.38 L454.68 591.13 L455.77 590.86 L456.85 590.59 L457.93 590.32 L459.01 590.03 L460.08 589.74 L461.15 589.44 L462.22 589.12 L463.28 588.81 L464.34 588.48 L465.39 588.14 L466.44 587.80 L467.48 587.44 L468.52 587.08 L469.55 586.70 L470.58 586.32 L471.60 585.93 L472.62 585.53 L473.63 585.11 L474.63 584.69 L475.63 584.26 L476.62 583.81 L477.60 583.36 L478.58 582.89 L479.55 582.41 L480.51 581.93 L481.46 581.42 L482.41 580.91 L483.35 580.38 L484.28 579.83 L485.20 579.28 L486.10 578.70 L487.00 578.11 L487.89 577.50 L488.77 576.87 L489.64 576.23 L490.50 575.57 L491.34 574.88 L492.17 574.18 L492.99 573.46 L493.80 572.71 L494.60 571.94 L495.38 571.15 L496.14 570.34 L496.90 569.51 L497.64 568.66 L498.36 567.79 L499.07 566.92 L499.76 566.03 L500.44 565.13 L501.10 564.22 L501.75 563.32 L502.38 562.40 L502.99 561.49 L503.59 560.58 L504.17 559.66 L504.74 558.75 L505.29 557.84 L505.84 556.92 L506.37 556.01 L506.90 555.09 L507.42 554.17 L507.93 553.26 L508.44 552.34 L508.95 551.42 L509.45 550.50 L509.96 549.58 L510.46 548.66 L510.97 547.74 L511.48 546.82 L511.99 545.89 L512.51 544.97 L513.03 544.04 L513.57 543.11 L514.11 542.18 L514.66 541.25 L515.22 540.32 L515.79 539.39 L516.36 538.45 L516.94 537.52 L517.52 536.58 L518.11 535.64 L518.70 534.70 L519.29 533.76 L519.89 532.81 L520.49 531.87 L521.09 530.92 L521.69 529.97 L522.29 529.02 L522.89 528.06 L523.49 527.10 L524.09 526.15 L524.68 525.19 L525.27 524.22 L525.86 523.26 L526.45 522.29 L527.03 521.32 L527.60 520.35 L528.17 519.37 L528.73 518.39 L529.28 517.41 L529.82 516.43 L530.36 515.45 L530.88 514.46 L531.40 513.47 L531.91 512.47 L532.41 511.48 L532.90 510.48 L533.38 509.48 L533.85 508.47 L534.32 507.47 L534.77 506.46 L535.22 505.45 L535.66 504.43 L536.10 503.42 L536.52 502.40 L536.94 501.38 L537.36 500.36 L537.76 499.34 L538.16 498.31 L538.56 497.29 L538.95 496.26 L539.33 495.23 L539.71 494.20 L540.08 493.17 L540.44 492.13 L540.80 491.10 L541.16 490.06 L541.51 489.02 L541.86 487.98 L542.21 486.94 L542.55 485.90 L542.88 484.86 L543.22 483.82 L543.55 482.78 L543.87 481.73 L544.20 480.69 L544.52 479.64 L544.84 478.59 L545.15 477.55 L545.47 476.50 L545.78 475.45 L546.09 474.40 L546.40 473.36 L546.71 472.31 L547.02 471.26 L547.32 470.21 L547.63 469.16 L547.94 468.11 L548.24 467.07 L548.55 466.02 L548.85 464.97 L549.16 463.92 L549.47 462.87 L549.78 461.83 L550.08 460.78 L550.40 459.74 L550.71 458.69 L551.02 457.65 L551.33 456.60 L551.65 455.56 L551.97 454.52 L552.29 453.48 L552.61 452.43 L552.93 451.39 L553.25 450.35 L553.58 449.31 L553.91 448.28 L554.23 447.24 L554.56 446.20 L554.89 445.16 L555.23 444.13 L555.56 443.09 L555.90 442.05 L556.24 441.02 L556.58 439.98 L556.92 438.95 L557.26 437.92 L557.61 436.88 L557.95 435.85 L558.30 434.82 L558.65 433.79 L559.01 432.76 L559.36 431.73 L559.72 430.70 L560.07 429.67 L560.43 428.64 L560.80 427.61 L561.16 426.59 L561.53 425.56 L561.89 424.53 L562.26 423.51 L562.63 422.48 L563.01 421.46 L563.38 420.43 L563.76 419.41 L564.14 418.39 L564.52 417.37 L564.91 416.34 L565.29 415.32 L565.68 414.30 L566.07 413.28 L566.47 412.26 L566.86 411.24 L567.26 410.22 L567.66 409.20 L568.06 408.18 L568.46 407.17 L568.87 406.15 L569.28 405.13 L569.69 404.12 L570.10 403.10 L570.52 402.09 L570.94 401.07 L571.36 400.06 L571.78 399.04 L572.21 398.03 L572.63 397.02 L573.06 396.00 L573.50 394.99 L573.93 393.98 L574.37 392.97 L574.81 391.96 L575.25 390.95 L575.70 389.94 L576.15 388.93 L576.60 387.92 L577.05 386.91 L577.51 385.90 L577.97 384.89 L578.43 383.89 L578.89 382.88 L579.36 381.87 L579.83 380.87 L580.30 379.86 L580.78 378.86 L581.25 377.85 L581.73 376.85 L582.22 375.84 L582.71 374.84 L583.20 373.84 L583.69 372.84 L584.19 371.84 L584.70 370.85 L585.21 369.86 L585.72 368.87 L586.25 367.89 L586.78 366.91 L587.31 365.94 L587.85 364.97 L588.40 364.00 L588.96 363.04 L589.52 362.09 L590.10 361.15 L590.68 360.21 L591.27 359.28 L591.87 358.35 L592.48 357.44 L593.10 356.53 L593.73 355.63 L594.37 354.74 L595.03 353.86 L595.69 352.99 L596.37 352.13 L597.05 351.28 L597.76 350.44 L598.47 349.61 L599.20 348.80 L599.94 347.99 L600.69 347.20 L601.46 346.43 L602.24 345.66 L603.03 344.91 L603.84 344.17 L604.65 343.45 L605.48 342.74 L606.33 342.05 L607.18 341.37 L608.04 340.71 L608.92 340.07 L609.80 339.44 L610.69 338.83 L611.60 338.23 L612.51 337.66 L613.43 337.10 L614.36 336.55 L615.30 336.02 L616.25 335.51 L617.21 335.01 L618.18 334.53 L619.15 334.06 L620.13 333.61 L621.12 333.17 L622.11 332.74 L623.12 332.33 L624.13 331.94 L625.14 331.55 L626.17 331.18 L627.20 330.83 L628.23 330.48 L629.27 330.15 L630.32 329.83 L631.37 329.53 L632.43 329.23 L633.49 328.95 L634.56 328.67 L635.63 328.41 L636.71 328.16 L637.79 327.92 L638.87 327.70 L639.96 327.48 L641.05 327.27 L642.15 327.07 L643.25 326.88 L644.35 326.70 L645.45 326.53 L646.56 326.37 L647.67 326.21 L648.78 326.07 L649.89 325.93 L651.00 325.80 L652.12 325.68 L653.24 325.56 L654.35 325.45 L655.47 325.35 L656.59 325.26 L657.71 325.17 L658.83 325.09 L659.95 325.01 L661.07 324.94 L662.19 324.88 L663.31 324.82 L664.42 324.76 L665.54 324.71 L666.66 324.67 L667.77 324.63 L668.88 324.59 L669.99 324.56 L671.10 324.53 L672.20 324.50 L673.31 324.48 L674.41 324.46 L675.50 324.44 L676.60 324.42 L677.69 324.41 L678.78 324.40 L679.86 324.39 L680.94 324.38 L682.01 324.37 L683.08 324.36 L684.15 324.36 L685.21 324.35 L686.26 324.34 L687.31 324.34 L688.36 324.33 L689.40 324.33" stroke="#ff0000" stroke-width="1.65" stroke-dasharray="2.2 1.9"/>
<path d="M406.60 595.21 L407.67 595.21 L408.74 595.21 L409.82 595.21 L410.90 595.21 L411.99 595.21 L413.08 595.21 L414.17 595.21 L415.27 595.21 L416.37 595.21 L417.47 595.21 L418.58 595.21 L419.68 595.21 L420.79 595.21 L421.91 595.18 L423.02 595.15 L424.14 595.10 L425.25 595.06 L426.37 595.00 L427.50 594.95 L428.62 594.88 L429.74 594.81 L430.86 594.73 L431.99 594.65 L433.11 594.56 L434.24 594.46 L435.36 594.36 L436.49 594.25 L437.61 594.13 L438.74 594.00 L439.86 593.87 L440.98 593.73 L442.11 593.58 L443.23 593.42 L444.35 593.26 L445.47 593.09 L446.58 592.90 L447.70 592.71 L448.81 592.51 L449.92 592.31 L451.03 592.09 L452.13 591.86 L453.24 591.63 L454.34 591.38 L455.43 591.12 L456.53 590.86 L457.62 590.58 L458.71 590.30 L459.79 590.00 L460.87 589.70 L461.94 589.38 L463.01 589.05 L464.08 588.71 L465.14 588.36 L466.20 588.00 L467.25 587.63 L468.30 587.24 L469.34 586.85 L470.37 586.44 L471.40 586.02 L472.43 585.59 L473.45 585.14 L474.46 584.69 L475.46 584.22 L476.46 583.73 L477.46 583.24 L478.44 582.73 L479.42 582.21 L480.39 581.67 L481.36 581.13 L482.31 580.57 L483.26 580.00 L484.20 579.41 L485.14 578.82 L486.06 578.21 L486.98 577.59 L487.90 576.96 L488.80 576.32 L489.69 575.66 L490.58 575.00 L491.46 574.32 L492.33 573.64 L493.20 572.94 L494.05 572.24 L494.90 571.52 L495.73 570.79 L496.56 570.06 L497.38 569.31 L498.19 568.56 L499.00 567.80 L499.79 567.03 L500.57 566.25 L501.35 565.46 L502.12 564.67 L502.87 563.87 L503.62 563.07 L504.36 562.25 L505.09 561.44 L505.81 560.61 L506.52 559.78 L507.23 558.95 L507.93 558.10 L508.62 557.26 L509.30 556.40 L509.98 555.54 L510.65 554.68 L511.32 553.81 L511.98 552.93 L512.63 552.05 L513.28 551.16 L513.92 550.27 L514.56 549.37 L515.20 548.47 L515.83 547.56 L516.46 546.65 L517.09 545.73 L517.71 544.81 L518.33 543.88 L518.94 542.95 L519.56 542.02 L520.17 541.08 L520.78 540.13 L521.39 539.18 L521.99 538.23 L522.59 537.27 L523.19 536.31 L523.78 535.34 L524.37 534.37 L524.95 533.40 L525.53 532.42 L526.10 531.44 L526.66 530.45 L527.22 529.46 L527.77 528.47 L528.32 527.47 L528.85 526.47 L529.38 525.47 L529.90 524.46 L530.42 523.45 L530.92 522.44 L531.42 521.42 L531.90 520.40 L532.38 519.38 L532.84 518.36 L533.30 517.33 L533.74 516.30 L534.18 515.27 L534.60 514.23 L535.01 513.19 L535.41 512.15 L535.80 511.11 L536.18 510.07 L536.55 509.02 L536.91 507.97 L537.27 506.92 L537.61 505.86 L537.95 504.81 L538.28 503.75 L538.60 502.69 L538.92 501.63 L539.23 500.57 L539.54 499.51 L539.84 498.44 L540.14 497.38 L540.43 496.31 L540.72 495.24 L541.01 494.17 L541.29 493.10 L541.57 492.02 L541.85 490.95 L542.13 489.88 L542.41 488.80 L542.69 487.73 L542.96 486.65 L543.24 485.57 L543.52 484.49 L543.79 483.42 L544.07 482.34 L544.35 481.26 L544.62 480.18 L544.90 479.10 L545.18 478.01 L545.45 476.93 L545.73 475.85 L546.00 474.77 L546.28 473.68 L546.55 472.60 L546.82 471.52 L547.10 470.43 L547.37 469.35 L547.64 468.26 L547.92 467.18 L548.19 466.09 L548.46 465.01 L548.73 463.92 L549.00 462.83 L549.27 461.75 L549.54 460.66 L549.81 459.57 L550.08 458.49 L550.34 457.40 L550.61 456.31 L550.88 455.22 L551.14 454.14 L551.41 453.05 L551.67 451.96 L551.93 450.87 L552.20 449.79 L552.46 448.70 L552.72 447.61 L552.98 446.52 L553.24 445.44 L553.50 444.35 L553.76 443.26 L554.01 442.17 L554.27 441.09 L554.52 440.00 L554.78 438.91 L555.03 437.83 L555.28 436.74 L555.54 435.66 L555.79 434.57 L556.03 433.48 L556.28 432.40 L556.53 431.32 L556.78 430.23 L557.02 429.15 L557.27 428.06 L557.51 426.98 L557.76 425.90 L558.00 424.82 L558.25 423.73 L558.50 422.65 L558.74 421.57 L558.99 420.49 L559.24 419.41 L559.49 418.33 L559.74 417.26 L560.00 416.18 L560.25 415.10 L560.51 414.03 L560.77 412.95 L561.03 411.88 L561.30 410.80 L561.56 409.73 L561.84 408.66 L562.11 407.58 L562.39 406.51 L562.67 405.44 L562.95 404.37 L563.24 403.30 L563.53 402.24 L563.83 401.17 L564.13 400.10 L564.44 399.04 L564.75 397.98 L565.06 396.91 L565.38 395.85 L565.71 394.79 L566.04 393.73 L566.38 392.67 L566.72 391.61 L567.07 390.56 L567.43 389.50 L567.79 388.45 L568.16 387.39 L568.54 386.34 L568.92 385.29 L569.31 384.24 L569.71 383.19 L570.12 382.15 L570.53 381.10 L570.95 380.06 L571.38 379.02 L571.82 377.97 L572.27 376.93 L572.73 375.90 L573.19 374.86 L573.66 373.83 L574.15 372.80 L574.64 371.77 L575.14 370.75 L575.65 369.73 L576.17 368.72 L576.70 367.72 L577.24 366.72 L577.79 365.72 L578.34 364.74 L578.91 363.76 L579.49 362.79 L580.08 361.83 L580.68 360.87 L581.29 359.93 L581.91 358.99 L582.54 358.07 L583.18 357.16 L583.84 356.25 L584.50 355.36 L585.18 354.48 L585.86 353.62 L586.56 352.76 L587.27 351.92 L587.99 351.10 L588.72 350.29 L589.47 349.49 L590.22 348.71 L590.99 347.94 L591.77 347.19 L592.57 346.46 L593.37 345.74 L594.19 345.03 L595.02 344.34 L595.86 343.67 L596.72 343.01 L597.59 342.37 L598.47 341.74 L599.36 341.13 L600.27 340.53 L601.19 339.95 L602.13 339.38 L603.08 338.83 L604.04 338.30 L605.01 337.78 L606.00 337.27 L607.00 336.78 L608.01 336.30 L609.03 335.84 L610.06 335.39 L611.10 334.96 L612.15 334.54 L613.21 334.13 L614.28 333.73 L615.35 333.35 L616.43 332.98 L617.52 332.62 L618.61 332.28 L619.71 331.94 L620.81 331.62 L621.92 331.31 L623.03 331.01 L624.14 330.72 L625.25 330.44 L626.37 330.17 L627.48 329.91 L628.60 329.66 L629.72 329.43 L630.83 329.20 L631.95 328.98 L633.06 328.76 L634.17 328.56 L635.28 328.37 L636.38 328.18 L637.48 328.00 L638.58 327.83 L639.68 327.67 L640.77 327.51 L641.87 327.36 L642.96 327.22 L644.04 327.08 L645.13 326.96 L646.22 326.83 L647.30 326.71 L648.38 326.60 L649.47 326.50 L650.55 326.39 L651.63 326.30 L652.71 326.20 L653.79 326.12 L654.87 326.03 L655.95 325.95 L657.03 325.88 L658.12 325.80 L659.20 325.73 L660.28 325.67 L661.37 325.60 L662.45 325.54 L663.54 325.48 L664.63 325.43 L665.72 325.37 L666.82 325.32 L667.91 325.26 L669.01 325.21 L670.11 325.16 L671.21 325.11 L672.32 325.06 L673.43 325.01 L674.54 324.96 L675.66 324.91 L676.78 324.86 L677.90 324.80 L679.03 324.75 L680.16 324.70 L681.30 324.64 L682.44 324.58 L683.59 324.52 L684.74 324.46 L685.90 324.39 L687.06 324.33 L688.23 324.25 L689.40 324.18" stroke="#ff8c00" stroke-width="1.65" stroke-dasharray="2.2 1.9"/>
<path d="M406.60 595.21 L407.73 595.21 L408.85 595.21 L409.98 595.21 L411.10 595.20 L412.23 595.19 L413.36 595.18 L414.49 595.16 L415.62 595.13 L416.75 595.10 L417.88 595.07 L419.01 595.03 L420.14 594.98 L421.27 594.94 L422.41 594.88 L423.54 594.83 L424.67 594.76 L425.80 594.70 L426.94 594.62 L428.07 594.55 L429.20 594.46 L430.34 594.37 L431.47 594.28 L432.60 594.18 L433.73 594.08 L434.87 593.97 L436.00 593.85 L437.13 593.73 L438.26 593.60 L439.39 593.47 L440.52 593.33 L441.65 593.19 L442.78 593.04 L443.91 592.88 L445.04 592.72 L446.17 592.55 L447.29 592.38 L448.42 592.20 L449.55 592.01 L450.67 591.82 L451.79 591.62 L452.92 591.41 L454.04 591.20 L455.16 590.98 L456.28 590.75 L457.40 590.52 L458.51 590.28 L459.63 590.03 L460.74 589.78 L461.86 589.52 L462.97 589.25 L464.08 588.97 L465.19 588.69 L466.30 588.40 L467.40 588.11 L468.51 587.80 L469.61 587.49 L470.71 587.17 L471.81 586.85 L472.91 586.51 L474.00 586.17 L475.10 585.82 L476.19 585.46 L477.28 585.10 L478.37 584.72 L479.45 584.34 L480.54 583.95 L481.62 583.55 L482.69 583.15 L483.76 582.73 L484.83 582.30 L485.90 581.87 L486.95 581.42 L488.01 580.97 L489.05 580.50 L490.09 580.03 L491.13 579.54 L492.16 579.04 L493.18 578.53 L494.19 578.01 L495.19 577.48 L496.19 576.93 L497.17 576.38 L498.15 575.81 L499.12 575.22 L500.07 574.63 L501.02 574.02 L501.96 573.40 L502.88 572.76 L503.79 572.12 L504.70 571.45 L505.58 570.77 L506.46 570.08 L507.32 569.37 L508.17 568.65 L509.01 567.92 L509.83 567.17 L510.64 566.40 L511.44 565.62 L512.22 564.83 L512.99 564.03 L513.75 563.21 L514.50 562.38 L515.24 561.54 L515.96 560.69 L516.67 559.82 L517.37 558.95 L518.06 558.06 L518.73 557.17 L519.40 556.26 L520.05 555.35 L520.70 554.42 L521.33 553.49 L521.95 552.54 L522.56 551.59 L523.16 550.63 L523.75 549.67 L524.33 548.69 L524.90 547.71 L525.46 546.72 L526.00 545.73 L526.54 544.73 L527.07 543.72 L527.59 542.71 L528.10 541.70 L528.61 540.67 L529.10 539.65 L529.58 538.61 L530.06 537.58 L530.52 536.54 L530.98 535.49 L531.43 534.44 L531.87 533.39 L532.30 532.33 L532.73 531.27 L533.14 530.20 L533.55 529.13 L533.95 528.06 L534.35 526.98 L534.73 525.90 L535.11 524.82 L535.48 523.73 L535.85 522.64 L536.21 521.55 L536.56 520.46 L536.90 519.36 L537.24 518.26 L537.58 517.15 L537.90 516.05 L538.22 514.94 L538.54 513.83 L538.84 512.72 L539.15 511.60 L539.44 510.49 L539.74 509.37 L540.02 508.25 L540.30 507.13 L540.58 506.01 L540.85 504.89 L541.12 503.77 L541.38 502.64 L541.64 501.52 L541.89 500.39 L542.14 499.27 L542.39 498.14 L542.63 497.01 L542.87 495.88 L543.10 494.76 L543.33 493.63 L543.56 492.50 L543.78 491.38 L544.01 490.25 L544.22 489.12 L544.44 488.00 L544.65 486.87 L544.86 485.75 L545.07 484.63 L545.27 483.50 L545.47 482.38 L545.67 481.26 L545.87 480.14 L546.07 479.02 L546.26 477.90 L546.45 476.78 L546.64 475.66 L546.83 474.54 L547.02 473.43 L547.20 472.31 L547.39 471.19 L547.57 470.08 L547.75 468.96 L547.93 467.85 L548.11 466.73 L548.28 465.62 L548.46 464.50 L548.63 463.39 L548.81 462.27 L548.98 461.16 L549.15 460.05 L549.33 458.93 L549.50 457.82 L549.67 456.71 L549.84 455.60 L550.01 454.48 L550.18 453.37 L550.35 452.26 L550.52 451.14 L550.69 450.03 L550.86 448.92 L551.04 447.81 L551.21 446.69 L551.38 445.58 L551.55 444.47 L551.72 443.35 L551.90 442.24 L552.07 441.13 L552.25 440.01 L552.42 438.90 L552.60 437.79 L552.78 436.67 L552.96 435.56 L553.14 434.44 L553.32 433.32 L553.51 432.21 L553.69 431.09 L553.88 429.98 L554.07 428.86 L554.26 427.74 L554.45 426.62 L554.64 425.50 L554.84 424.38 L555.04 423.26 L555.24 422.14 L555.44 421.02 L555.64 419.90 L555.85 418.78 L556.06 417.65 L556.27 416.53 L556.49 415.40 L556.71 414.28 L556.93 413.15 L557.15 412.03 L557.38 410.90 L557.61 409.77 L557.85 408.64 L558.08 407.51 L558.32 406.38 L558.57 405.24 L558.81 404.11 L559.06 402.98 L559.32 401.84 L559.58 400.71 L559.84 399.57 L560.11 398.44 L560.39 397.31 L560.67 396.18 L560.95 395.05 L561.24 393.92 L561.54 392.79 L561.84 391.67 L562.15 390.55 L562.47 389.43 L562.80 388.32 L563.13 387.20 L563.47 386.10 L563.81 384.99 L564.17 383.89 L564.53 382.80 L564.90 381.71 L565.28 380.62 L565.67 379.54 L566.07 378.47 L566.48 377.40 L566.89 376.34 L567.32 375.29 L567.76 374.24 L568.21 373.20 L568.67 372.17 L569.14 371.14 L569.62 370.12 L570.11 369.12 L570.62 368.12 L571.13 367.13 L571.66 366.14 L572.20 365.17 L572.75 364.21 L573.32 363.26 L573.90 362.31 L574.49 361.38 L575.10 360.46 L575.72 359.55 L576.36 358.66 L577.00 357.77 L577.67 356.90 L578.35 356.04 L579.04 355.19 L579.75 354.35 L580.47 353.53 L581.21 352.72 L581.97 351.93 L582.74 351.15 L583.53 350.38 L584.34 349.63 L585.16 348.89 L586.00 348.17 L586.86 347.46 L587.74 346.77 L588.63 346.10 L589.53 345.44 L590.45 344.79 L591.39 344.16 L592.34 343.54 L593.30 342.94 L594.27 342.35 L595.25 341.77 L596.24 341.20 L597.25 340.65 L598.26 340.11 L599.27 339.59 L600.30 339.07 L601.33 338.57 L602.37 338.07 L603.41 337.59 L604.45 337.12 L605.50 336.66 L606.56 336.21 L607.62 335.77 L608.68 335.34 L609.75 334.92 L610.82 334.51 L611.89 334.12 L612.97 333.73 L614.05 333.35 L615.13 332.98 L616.22 332.62 L617.31 332.27 L618.41 331.93 L619.50 331.60 L620.60 331.27 L621.71 330.96 L622.81 330.66 L623.92 330.36 L625.03 330.07 L626.14 329.79 L627.26 329.52 L628.38 329.26 L629.50 329.01 L630.62 328.76 L631.75 328.52 L632.87 328.29 L634.00 328.07 L635.13 327.85 L636.26 327.64 L637.39 327.44 L638.53 327.25 L639.66 327.06 L640.80 326.88 L641.94 326.71 L643.07 326.54 L644.21 326.38 L645.35 326.23 L646.50 326.09 L647.64 325.94 L648.78 325.81 L649.92 325.68 L651.06 325.56 L652.21 325.44 L653.35 325.33 L654.49 325.23 L655.64 325.13 L656.78 325.03 L657.92 324.94 L659.06 324.86 L660.20 324.78 L661.35 324.70 L662.49 324.63 L663.63 324.57 L664.76 324.51 L665.90 324.45 L667.04 324.40 L668.17 324.35 L669.31 324.30 L670.44 324.26 L671.57 324.23 L672.70 324.19 L673.83 324.16 L674.96 324.14 L676.08 324.11 L677.20 324.09 L678.32 324.08 L679.44 324.06 L680.56 324.05 L681.67 324.04 L682.78 324.04 L683.89 324.03 L685.00 324.03 L686.10 324.03 L687.20 324.03 L688.30 324.03 L689.39 324.03" stroke="#6b8e23" stroke-width="1.65" stroke-dasharray="9 5 1.5 5"/>
<path d="M406.60 596.03 L407.78 596.03 L408.96 596.03 L410.14 596.03 L411.32 596.03 L412.50 596.03 L413.68 596.03 L414.86 596.03 L416.03 596.03 L417.21 596.03 L418.39 596.03 L419.56 596.03 L420.74 596.03 L421.91 596.03 L423.08 596.03 L424.26 596.03 L425.43 596.03 L426.60 596.03 L427.77 596.03 L428.94 596.03 L430.11 596.03 L431.28 596.03 L432.45 595.97 L433.62 595.91 L434.78 595.84 L435.95 595.76 L437.12 595.69 L438.28 595.60 L439.45 595.51 L440.61 595.42 L441.77 595.32 L442.94 595.22 L444.10 595.11 L445.26 595.00 L446.42 594.88 L447.58 594.76 L448.74 594.63 L449.90 594.50 L451.06 594.36 L452.22 594.22 L453.38 594.08 L454.54 593.92 L455.69 593.77 L456.85 593.61 L458.01 593.45 L459.16 593.28 L460.31 593.10 L461.47 592.93 L462.62 592.75 L463.77 592.56 L464.93 592.37 L466.08 592.17 L467.23 591.97 L468.38 591.77 L469.53 591.56 L470.68 591.35 L471.83 591.13 L472.98 590.91 L474.13 590.69 L475.27 590.46 L476.42 590.23 L477.57 589.99 L478.71 589.75 L479.86 589.51 L481.00 589.26 L482.15 589.00 L483.29 588.75 L484.43 588.49 L485.57 588.22 L486.72 587.95 L487.86 587.68 L489.00 587.41 L490.14 587.13 L491.28 586.84 L492.42 586.55 L493.56 586.26 L494.70 585.97 L495.83 585.67 L496.97 585.37 L498.11 585.06 L499.24 584.75 L500.36 584.44 L501.49 584.11 L502.60 583.78 L503.71 583.44 L504.82 583.09 L505.91 582.71 L507.00 582.32 L508.07 581.90 L509.14 581.45 L510.19 580.98 L511.23 580.47 L512.25 579.93 L513.26 579.35 L514.26 578.72 L515.23 578.07 L516.19 577.37 L517.14 576.64 L518.06 575.88 L518.96 575.09 L519.84 574.28 L520.70 573.43 L521.54 572.56 L522.35 571.66 L523.14 570.74 L523.91 569.80 L524.64 568.85 L525.35 567.87 L526.03 566.88 L526.68 565.88 L527.31 564.87 L527.90 563.84 L528.46 562.81 L528.98 561.77 L529.48 560.72 L529.93 559.67 L530.36 558.62 L530.76 557.56 L531.13 556.50 L531.48 555.43 L531.80 554.36 L532.11 553.29 L532.39 552.22 L532.66 551.14 L532.92 550.06 L533.17 548.97 L533.42 547.88 L533.65 546.79 L533.89 545.70 L534.12 544.60 L534.35 543.50 L534.59 542.39 L534.83 541.29 L535.08 540.18 L535.34 539.07 L535.59 537.95 L535.85 536.84 L536.12 535.72 L536.38 534.60 L536.65 533.47 L536.92 532.34 L537.20 531.22 L537.47 530.08 L537.74 528.95 L538.02 527.81 L538.29 526.68 L538.56 525.54 L538.84 524.39 L539.11 523.25 L539.38 522.11 L539.65 520.96 L539.91 519.81 L540.17 518.66 L540.43 517.51 L540.68 516.35 L540.93 515.20 L541.18 514.04 L541.42 512.88 L541.66 511.72 L541.89 510.56 L542.12 509.40 L542.34 508.23 L542.56 507.07 L542.78 505.90 L542.99 504.74 L543.20 503.57 L543.41 502.40 L543.61 501.23 L543.81 500.06 L544.01 498.89 L544.20 497.72 L544.39 496.55 L544.58 495.37 L544.76 494.20 L544.94 493.03 L545.12 491.85 L545.30 490.68 L545.47 489.50 L545.65 488.33 L545.82 487.15 L545.99 485.98 L546.15 484.80 L546.32 483.63 L546.48 482.45 L546.64 481.28 L546.80 480.10 L546.96 478.93 L547.12 477.75 L547.27 476.58 L547.43 475.41 L547.58 474.23 L547.74 473.06 L547.89 471.89 L548.04 470.72 L548.19 469.55 L548.34 468.38 L548.49 467.21 L548.65 466.04 L548.80 464.87 L548.95 463.71 L549.10 462.54 L549.25 461.38 L549.40 460.22 L549.55 459.05 L549.70 457.89 L549.85 456.73 L550.01 455.58 L550.16 454.42 L550.32 453.26 L550.47 452.11 L550.62 450.95 L550.78 449.80 L550.94 448.65 L551.09 447.49 L551.25 446.34 L551.41 445.19 L551.57 444.04 L551.73 442.89 L551.89 441.74 L552.05 440.60 L552.21 439.45 L552.37 438.30 L552.54 437.16 L552.70 436.01 L552.87 434.86 L553.03 433.72 L553.20 432.57 L553.37 431.43 L553.54 430.28 L553.71 429.14 L553.88 427.99 L554.05 426.85 L554.22 425.71 L554.40 424.56 L554.57 423.42 L554.75 422.27 L554.93 421.13 L555.11 419.98 L555.28 418.84 L555.47 417.69 L555.65 416.55 L555.83 415.40 L556.02 414.25 L556.20 413.11 L556.39 411.96 L556.58 410.81 L556.77 409.66 L556.96 408.51 L557.15 407.36 L557.34 406.21 L557.54 405.06 L557.74 403.91 L557.94 402.76 L558.14 401.60 L558.35 400.45 L558.55 399.30 L558.77 398.15 L558.99 396.99 L559.21 395.84 L559.44 394.69 L559.68 393.54 L559.92 392.38 L560.17 391.23 L560.43 390.08 L560.70 388.93 L560.97 387.79 L561.26 386.64 L561.56 385.49 L561.86 384.35 L562.18 383.21 L562.51 382.07 L562.85 380.93 L563.20 379.79 L563.57 378.66 L563.95 377.52 L564.34 376.39 L564.75 375.27 L565.17 374.15 L565.61 373.03 L566.06 371.92 L566.53 370.81 L567.01 369.72 L567.51 368.63 L568.02 367.55 L568.55 366.48 L569.10 365.42 L569.66 364.38 L570.24 363.34 L570.84 362.32 L571.45 361.31 L572.08 360.32 L572.73 359.34 L573.40 358.38 L574.08 357.44 L574.79 356.51 L575.51 355.61 L576.25 354.72 L577.01 353.85 L577.79 353.01 L578.59 352.18 L579.41 351.38 L580.25 350.61 L581.11 349.85 L581.99 349.13 L582.89 348.42 L583.81 347.75 L584.76 347.10 L585.72 346.48 L586.70 345.88 L587.69 345.30 L588.70 344.74 L589.73 344.20 L590.76 343.68 L591.81 343.17 L592.87 342.68 L593.93 342.20 L595.00 341.73 L596.07 341.27 L597.15 340.82 L598.23 340.37 L599.31 339.93 L600.40 339.50 L601.48 339.06 L602.57 338.63 L603.65 338.19 L604.74 337.76 L605.83 337.31 L606.92 336.87 L608.02 336.42 L609.11 335.96 L610.20 335.49 L611.30 335.02 L612.40 334.55 L613.49 334.08 L614.59 333.60 L615.70 333.13 L616.80 332.67 L617.90 332.21 L619.01 331.75 L620.12 331.31 L621.22 330.87 L622.33 330.45 L623.44 330.04 L624.56 329.65 L625.67 329.28 L626.79 328.92 L627.90 328.59 L629.02 328.27 L630.14 327.97 L631.26 327.69 L632.38 327.42 L633.51 327.17 L634.63 326.94 L635.76 326.72 L636.89 326.52 L638.02 326.33 L639.15 326.16 L640.29 326.00 L641.42 325.85 L642.56 325.71 L643.70 325.59 L644.83 325.47 L645.98 325.37 L647.12 325.28 L648.26 325.19 L649.41 325.12 L650.56 325.05 L651.71 324.99 L652.86 324.94 L654.01 324.90 L655.16 324.86 L656.32 324.83 L657.48 324.80 L658.64 324.78 L659.80 324.76 L660.96 324.74 L662.13 324.73 L663.29 324.72 L664.46 324.71 L665.63 324.71 L666.80 324.70 L667.97 324.70 L669.15 324.69 L670.33 324.69 L671.50 324.68 L672.68 324.67 L673.87 324.66 L675.05 324.64 L676.24 324.63 L677.42 324.60 L678.61 324.58 L679.81 324.55 L681.00 324.51 L682.19 324.47 L683.39 324.42 L684.59 324.36 L685.79 324.29 L686.99 324.22 L688.20 324.14 L689.40 324.05" stroke="#2e7396" stroke-width="1.6"/>
<path d="M406.60 596.03 L407.77 596.03 L408.94 596.03 L410.10 596.03 L411.27 596.03 L412.44 596.03 L413.61 596.03 L414.78 596.03 L415.96 596.03 L417.13 596.03 L418.30 596.03 L419.47 596.03 L420.65 596.03 L421.82 596.03 L422.99 596.03 L424.17 596.03 L425.34 596.03 L426.52 596.03 L427.69 596.03 L428.87 596.03 L430.04 595.99 L431.22 595.94 L432.40 595.89 L433.57 595.83 L434.75 595.76 L435.92 595.69 L437.10 595.62 L438.28 595.54 L439.45 595.45 L440.63 595.36 L441.80 595.27 L442.98 595.17 L444.16 595.07 L445.33 594.97 L446.51 594.85 L447.68 594.74 L448.86 594.62 L450.03 594.49 L451.21 594.36 L452.38 594.23 L453.55 594.09 L454.72 593.95 L455.90 593.80 L457.07 593.65 L458.24 593.49 L459.41 593.33 L460.58 593.16 L461.75 592.99 L462.92 592.82 L464.09 592.64 L465.26 592.45 L466.42 592.27 L467.59 592.07 L468.75 591.88 L469.92 591.67 L471.08 591.47 L472.25 591.26 L473.41 591.04 L474.57 590.82 L475.73 590.60 L476.89 590.37 L478.05 590.14 L479.20 589.90 L480.36 589.66 L481.51 589.41 L482.67 589.16 L483.82 588.91 L484.97 588.65 L486.12 588.38 L487.27 588.12 L488.42 587.84 L489.56 587.57 L490.71 587.29 L491.85 587.00 L492.99 586.71 L494.14 586.42 L495.27 586.12 L496.41 585.82 L497.55 585.51 L498.68 585.20 L499.81 584.89 L500.93 584.58 L502.05 584.27 L503.16 583.96 L504.26 583.64 L505.36 583.31 L506.44 582.96 L507.52 582.60 L508.58 582.21 L509.64 581.80 L510.68 581.35 L511.71 580.86 L512.73 580.34 L513.73 579.77 L514.72 579.15 L515.69 578.50 L516.64 577.81 L517.57 577.08 L518.49 576.31 L519.39 575.52 L520.26 574.69 L521.12 573.83 L521.95 572.95 L522.77 572.04 L523.55 571.11 L524.32 570.15 L525.06 569.18 L525.77 568.19 L526.45 567.18 L527.11 566.16 L527.74 565.13 L528.35 564.09 L528.92 563.04 L529.46 561.98 L529.97 560.92 L530.45 559.86 L530.90 558.79 L531.32 557.72 L531.72 556.65 L532.10 555.57 L532.46 554.49 L532.79 553.40 L533.11 552.31 L533.42 551.22 L533.71 550.13 L533.99 549.03 L534.26 547.93 L534.52 546.83 L534.77 545.72 L535.02 544.61 L535.27 543.50 L535.52 542.39 L535.76 541.27 L536.01 540.15 L536.25 539.02 L536.50 537.90 L536.74 536.77 L536.99 535.64 L537.23 534.51 L537.47 533.37 L537.72 532.24 L537.96 531.10 L538.20 529.95 L538.44 528.81 L538.67 527.67 L538.91 526.52 L539.14 525.37 L539.38 524.22 L539.61 523.06 L539.84 521.91 L540.07 520.75 L540.29 519.59 L540.52 518.43 L540.74 517.27 L540.96 516.11 L541.18 514.94 L541.39 513.78 L541.60 512.61 L541.81 511.44 L542.02 510.27 L542.23 509.10 L542.43 507.93 L542.64 506.76 L542.84 505.59 L543.03 504.41 L543.23 503.24 L543.42 502.06 L543.62 500.89 L543.81 499.71 L544.00 498.53 L544.18 497.35 L544.37 496.17 L544.55 494.99 L544.74 493.81 L544.92 492.63 L545.10 491.45 L545.27 490.27 L545.45 489.09 L545.63 487.91 L545.80 486.73 L545.97 485.55 L546.14 484.37 L546.31 483.19 L546.48 482.01 L546.65 480.83 L546.82 479.65 L546.98 478.47 L547.15 477.29 L547.31 476.12 L547.47 474.94 L547.63 473.76 L547.80 472.58 L547.96 471.41 L548.12 470.23 L548.27 469.06 L548.43 467.89 L548.59 466.71 L548.75 465.54 L548.90 464.37 L549.06 463.20 L549.22 462.04 L549.37 460.87 L549.53 459.71 L549.68 458.54 L549.83 457.38 L549.99 456.22 L550.14 455.06 L550.30 453.90 L550.45 452.74 L550.60 451.58 L550.75 450.43 L550.91 449.27 L551.06 448.11 L551.21 446.96 L551.36 445.81 L551.52 444.65 L551.67 443.50 L551.82 442.35 L551.97 441.20 L552.12 440.05 L552.27 438.89 L552.42 437.74 L552.58 436.59 L552.73 435.44 L552.88 434.29 L553.03 433.14 L553.18 431.99 L553.33 430.84 L553.48 429.68 L553.63 428.53 L553.79 427.38 L553.94 426.23 L554.09 425.07 L554.24 423.92 L554.39 422.77 L554.54 421.61 L554.70 420.45 L554.85 419.30 L555.00 418.14 L555.15 416.98 L555.31 415.82 L555.46 414.66 L555.61 413.50 L555.76 412.33 L555.92 411.17 L556.07 410.00 L556.23 408.84 L556.38 407.67 L556.54 406.50 L556.69 405.33 L556.85 404.15 L557.00 402.98 L557.16 401.80 L557.33 400.63 L557.49 399.45 L557.66 398.27 L557.83 397.10 L558.01 395.92 L558.20 394.74 L558.39 393.57 L558.59 392.39 L558.80 391.22 L559.01 390.05 L559.24 388.88 L559.47 387.71 L559.72 386.55 L559.98 385.39 L560.25 384.23 L560.53 383.07 L560.83 381.92 L561.14 380.77 L561.47 379.63 L561.81 378.49 L562.17 377.35 L562.54 376.22 L562.93 375.09 L563.34 373.97 L563.76 372.86 L564.20 371.76 L564.66 370.66 L565.14 369.57 L565.63 368.49 L566.14 367.42 L566.67 366.36 L567.21 365.31 L567.77 364.27 L568.35 363.25 L568.95 362.23 L569.56 361.23 L570.20 360.24 L570.85 359.27 L571.52 358.31 L572.21 357.37 L572.91 356.44 L573.64 355.53 L574.38 354.63 L575.14 353.76 L575.92 352.90 L576.72 352.06 L577.54 351.24 L578.38 350.44 L579.23 349.66 L580.11 348.90 L581.00 348.16 L581.92 347.44 L582.85 346.75 L583.80 346.08 L584.77 345.43 L585.76 344.79 L586.75 344.18 L587.77 343.58 L588.79 343.00 L589.82 342.44 L590.87 341.89 L591.92 341.35 L592.98 340.82 L594.04 340.31 L595.11 339.80 L596.19 339.31 L597.27 338.82 L598.35 338.35 L599.43 337.88 L600.51 337.42 L601.60 336.97 L602.70 336.52 L603.79 336.09 L604.89 335.66 L605.99 335.25 L607.09 334.84 L608.20 334.44 L609.31 334.05 L610.42 333.66 L611.54 333.29 L612.65 332.92 L613.77 332.56 L614.90 332.21 L616.02 331.87 L617.15 331.53 L618.28 331.20 L619.41 330.88 L620.54 330.57 L621.68 330.27 L622.81 329.97 L623.95 329.68 L625.09 329.40 L626.24 329.13 L627.38 328.86 L628.53 328.60 L629.68 328.35 L630.83 328.11 L631.98 327.87 L633.13 327.64 L634.29 327.42 L635.45 327.20 L636.61 327.00 L637.76 326.80 L638.93 326.60 L640.09 326.41 L641.25 326.23 L642.42 326.06 L643.58 325.89 L644.75 325.73 L645.92 325.58 L647.09 325.43 L648.26 325.29 L649.43 325.16 L650.60 325.03 L651.77 324.91 L652.95 324.79 L654.12 324.68 L655.29 324.58 L656.47 324.48 L657.64 324.39 L658.82 324.31 L660.00 324.23 L661.17 324.16 L662.35 324.09 L663.53 324.03 L664.71 323.97 L665.88 323.92 L667.06 323.88 L668.24 323.84 L669.42 323.81 L670.60 323.78 L671.78 323.76 L672.95 323.74 L674.13 323.73 L675.31 323.73 L676.49 323.73 L677.66 323.73 L678.84 323.73 L680.01 323.73 L681.19 323.73 L682.36 323.73 L683.54 323.73 L684.71 323.73 L685.89 323.73 L687.06 323.73 L688.23 323.73 L689.40 323.73" stroke="#0000ff" stroke-width="1.6"/>
<path d="M406.60 596.03 L407.78 596.03 L408.95 596.03 L410.13 596.03 L411.31 596.03 L412.49 596.03 L413.67 596.03 L414.85 596.03 L416.03 596.03 L417.21 596.03 L418.39 596.03 L419.58 596.03 L420.76 596.03 L421.94 596.03 L423.13 596.03 L424.31 596.03 L425.50 596.03 L426.68 596.03 L427.87 596.01 L429.05 595.97 L430.24 595.92 L431.42 595.88 L432.61 595.83 L433.79 595.77 L434.97 595.71 L436.16 595.65 L437.34 595.58 L438.52 595.51 L439.70 595.43 L440.89 595.35 L442.07 595.27 L443.25 595.18 L444.43 595.09 L445.61 594.99 L446.78 594.89 L447.96 594.79 L449.14 594.68 L450.31 594.56 L451.49 594.44 L452.66 594.32 L453.83 594.19 L455.00 594.06 L456.17 593.93 L457.34 593.79 L458.51 593.64 L459.67 593.49 L460.83 593.34 L462.00 593.18 L463.16 593.02 L464.32 592.85 L465.48 592.68 L466.63 592.50 L467.79 592.32 L468.95 592.14 L470.10 591.95 L471.26 591.75 L472.41 591.55 L473.57 591.35 L474.72 591.14 L475.87 590.93 L477.03 590.71 L478.18 590.49 L479.34 590.26 L480.49 590.03 L481.65 589.80 L482.80 589.55 L483.96 589.31 L485.12 589.06 L486.27 588.80 L487.43 588.54 L488.59 588.28 L489.75 588.01 L490.92 587.73 L492.08 587.45 L493.25 587.17 L494.41 586.88 L495.58 586.58 L496.75 586.28 L497.92 585.98 L499.09 585.66 L500.25 585.33 L501.41 584.99 L502.57 584.64 L503.72 584.27 L504.86 583.89 L506.00 583.49 L507.12 583.06 L508.23 582.62 L509.33 582.15 L510.42 581.65 L511.49 581.13 L512.54 580.59 L513.58 580.01 L514.60 579.40 L515.59 578.77 L516.57 578.10 L517.53 577.41 L518.46 576.69 L519.37 575.95 L520.26 575.18 L521.12 574.39 L521.95 573.57 L522.76 572.74 L523.53 571.87 L524.28 570.99 L525.00 570.09 L525.69 569.17 L526.34 568.23 L526.96 567.27 L527.56 566.30 L528.13 565.31 L528.67 564.30 L529.18 563.27 L529.67 562.24 L530.14 561.19 L530.58 560.13 L531.01 559.05 L531.41 557.96 L531.80 556.87 L532.17 555.76 L532.52 554.65 L532.86 553.53 L533.18 552.40 L533.50 551.26 L533.80 550.12 L534.09 548.97 L534.38 547.82 L534.66 546.67 L534.93 545.51 L535.19 544.35 L535.46 543.19 L535.72 542.03 L535.98 540.87 L536.23 539.71 L536.49 538.54 L536.74 537.38 L536.99 536.22 L537.24 535.06 L537.49 533.90 L537.73 532.73 L537.98 531.57 L538.22 530.41 L538.46 529.25 L538.69 528.08 L538.93 526.92 L539.16 525.75 L539.40 524.59 L539.63 523.43 L539.85 522.26 L540.08 521.10 L540.30 519.93 L540.53 518.77 L540.75 517.60 L540.97 516.44 L541.18 515.27 L541.40 514.11 L541.61 512.94 L541.82 511.77 L542.03 510.61 L542.24 509.44 L542.45 508.27 L542.65 507.11 L542.86 505.94 L543.06 504.77 L543.26 503.61 L543.45 502.44 L543.65 501.27 L543.84 500.10 L544.04 498.93 L544.23 497.77 L544.42 496.60 L544.61 495.43 L544.79 494.26 L544.98 493.09 L545.16 491.92 L545.34 490.75 L545.52 489.58 L545.70 488.41 L545.88 487.24 L546.05 486.07 L546.23 484.90 L546.40 483.73 L546.57 482.56 L546.74 481.39 L546.91 480.22 L547.07 479.05 L547.24 477.87 L547.40 476.70 L547.56 475.53 L547.72 474.36 L547.88 473.19 L548.04 472.01 L548.19 470.84 L548.35 469.67 L548.50 468.50 L548.65 467.32 L548.80 466.15 L548.95 464.98 L549.10 463.80 L549.24 462.63 L549.39 461.45 L549.53 460.28 L549.68 459.11 L549.82 457.93 L549.96 456.76 L550.09 455.58 L550.23 454.41 L550.37 453.23 L550.50 452.06 L550.63 450.88 L550.77 449.71 L550.90 448.53 L551.02 447.36 L551.15 446.18 L551.28 445.00 L551.41 443.83 L551.53 442.65 L551.65 441.47 L551.78 440.30 L551.90 439.12 L552.02 437.94 L552.13 436.77 L552.25 435.59 L552.37 434.41 L552.48 433.23 L552.60 432.06 L552.71 430.88 L552.82 429.70 L552.94 428.52 L553.05 427.35 L553.16 426.17 L553.27 424.99 L553.38 423.81 L553.50 422.63 L553.61 421.46 L553.73 420.28 L553.85 419.10 L553.96 417.92 L554.09 416.75 L554.21 415.57 L554.33 414.39 L554.46 413.22 L554.59 412.04 L554.73 410.87 L554.86 409.69 L555.00 408.52 L555.15 407.34 L555.30 406.17 L555.45 404.99 L555.61 403.82 L555.77 402.65 L555.94 401.48 L556.11 400.31 L556.29 399.14 L556.47 397.97 L556.66 396.80 L556.85 395.63 L557.06 394.46 L557.26 393.30 L557.48 392.13 L557.70 390.96 L557.93 389.80 L558.17 388.64 L558.41 387.47 L558.67 386.31 L558.93 385.15 L559.20 383.99 L559.48 382.83 L559.76 381.68 L560.06 380.52 L560.37 379.36 L560.68 378.21 L561.01 377.06 L561.35 375.91 L561.69 374.76 L562.06 373.62 L562.43 372.48 L562.82 371.35 L563.22 370.22 L563.64 369.11 L564.08 368.00 L564.54 366.91 L565.01 365.83 L565.50 364.76 L566.02 363.70 L566.55 362.66 L567.11 361.64 L567.69 360.63 L568.30 359.64 L568.93 358.67 L569.59 357.72 L570.27 356.79 L570.97 355.88 L571.70 354.99 L572.45 354.12 L573.23 353.27 L574.02 352.44 L574.84 351.62 L575.68 350.82 L576.53 350.04 L577.41 349.28 L578.30 348.54 L579.21 347.81 L580.13 347.10 L581.08 346.40 L582.03 345.72 L583.00 345.06 L583.99 344.41 L584.98 343.78 L585.99 343.16 L587.01 342.56 L588.04 341.97 L589.08 341.39 L590.13 340.83 L591.19 340.28 L592.26 339.74 L593.33 339.22 L594.41 338.71 L595.49 338.21 L596.58 337.73 L597.67 337.25 L598.77 336.79 L599.87 336.34 L600.97 335.90 L602.08 335.46 L603.18 335.05 L604.30 334.64 L605.41 334.24 L606.53 333.85 L607.64 333.47 L608.77 333.10 L609.89 332.74 L611.02 332.40 L612.15 332.06 L613.28 331.73 L614.41 331.41 L615.55 331.10 L616.69 330.79 L617.83 330.50 L618.97 330.22 L620.11 329.94 L621.26 329.68 L622.41 329.42 L623.56 329.17 L624.71 328.92 L625.86 328.69 L627.02 328.46 L628.18 328.24 L629.34 328.03 L630.50 327.83 L631.66 327.63 L632.82 327.44 L633.99 327.26 L635.16 327.09 L636.32 326.92 L637.49 326.76 L638.66 326.60 L639.84 326.45 L641.01 326.31 L642.18 326.17 L643.36 326.04 L644.53 325.91 L645.71 325.79 L646.89 325.68 L648.06 325.57 L649.24 325.46 L650.42 325.37 L651.60 325.27 L652.78 325.18 L653.97 325.10 L655.15 325.02 L656.33 324.94 L657.51 324.87 L658.70 324.80 L659.88 324.74 L661.06 324.68 L662.25 324.63 L663.43 324.57 L664.62 324.52 L665.80 324.48 L666.98 324.44 L668.17 324.40 L669.35 324.36 L670.53 324.33 L671.72 324.30 L672.90 324.27 L674.08 324.24 L675.27 324.22 L676.45 324.20 L677.63 324.17 L678.81 324.16 L679.99 324.14 L681.17 324.12 L682.35 324.11 L683.52 324.10 L684.70 324.09 L685.88 324.08 L687.05 324.07 L688.23 324.06 L689.40 324.05" stroke="#800080" stroke-width="1.6"/>
<path d="M406.60 596.30 L407.83 596.30 L409.06 596.30 L410.29 596.30 L411.51 596.30 L412.73 596.30 L413.95 596.30 L415.16 596.30 L416.37 596.30 L417.58 596.30 L418.78 596.30 L419.99 596.30 L421.18 596.30 L422.38 596.30 L423.57 596.30 L424.77 596.30 L425.95 596.30 L427.14 596.30 L428.32 596.30 L429.51 596.30 L430.69 596.30 L431.87 596.30 L433.04 596.30 L434.22 596.30 L435.39 596.30 L436.56 596.30 L437.73 596.30 L438.90 596.30 L440.07 596.30 L441.24 596.22 L442.41 596.11 L443.57 595.99 L444.74 595.86 L445.90 595.73 L447.07 595.60 L448.23 595.46 L449.39 595.31 L450.55 595.16 L451.72 595.01 L452.88 594.85 L454.04 594.69 L455.21 594.53 L456.37 594.36 L457.53 594.19 L458.70 594.02 L459.86 593.84 L461.03 593.67 L462.19 593.49 L463.36 593.30 L464.53 593.12 L465.70 592.93 L466.87 592.74 L468.04 592.55 L469.21 592.36 L470.38 592.17 L471.56 591.98 L472.74 591.79 L473.92 591.59 L475.10 591.40 L476.28 591.20 L477.46 591.01 L478.65 590.82 L479.84 590.62 L481.03 590.43 L482.22 590.23 L483.41 590.03 L484.60 589.82 L485.80 589.62 L486.99 589.40 L488.18 589.18 L489.37 588.96 L490.56 588.72 L491.74 588.48 L492.93 588.23 L494.11 587.97 L495.29 587.69 L496.46 587.41 L497.63 587.12 L498.80 586.81 L499.97 586.49 L501.13 586.15 L502.28 585.80 L503.43 585.43 L504.57 585.05 L505.71 584.65 L506.84 584.23 L507.97 583.79 L509.08 583.33 L510.20 582.85 L511.30 582.36 L512.39 581.83 L513.47 581.29 L514.54 580.72 L515.59 580.13 L516.61 579.52 L517.62 578.88 L518.60 578.21 L519.55 577.52 L520.47 576.80 L521.36 576.05 L522.21 575.28 L523.02 574.47 L523.79 573.64 L524.52 572.77 L525.20 571.88 L525.84 570.96 L526.45 570.01 L527.02 569.04 L527.56 568.05 L528.08 567.04 L528.57 566.01 L529.03 564.97 L529.48 563.91 L529.91 562.84 L530.32 561.75 L530.73 560.66 L531.12 559.57 L531.51 558.47 L531.90 557.36 L532.28 556.25 L532.65 555.13 L533.01 554.01 L533.37 552.88 L533.73 551.75 L534.07 550.61 L534.41 549.47 L534.75 548.33 L535.08 547.18 L535.40 546.03 L535.72 544.87 L536.04 543.71 L536.35 542.55 L536.65 541.38 L536.95 540.22 L537.24 539.04 L537.53 537.87 L537.81 536.70 L538.09 535.52 L538.36 534.34 L538.63 533.16 L538.89 531.97 L539.15 530.79 L539.41 529.60 L539.66 528.41 L539.90 527.23 L540.14 526.04 L540.38 524.85 L540.61 523.66 L540.84 522.46 L541.07 521.27 L541.29 520.08 L541.51 518.89 L541.72 517.70 L541.93 516.51 L542.14 515.32 L542.34 514.13 L542.54 512.94 L542.74 511.76 L542.93 510.57 L543.12 509.38 L543.31 508.20 L543.49 507.01 L543.68 505.83 L543.85 504.65 L544.03 503.46 L544.20 502.28 L544.37 501.10 L544.54 499.92 L544.71 498.74 L544.87 497.56 L545.03 496.38 L545.19 495.20 L545.34 494.03 L545.50 492.85 L545.65 491.67 L545.80 490.50 L545.95 489.32 L546.10 488.15 L546.24 486.97 L546.39 485.80 L546.53 484.62 L546.67 483.45 L546.81 482.28 L546.94 481.10 L547.08 479.93 L547.22 478.76 L547.35 477.59 L547.49 476.42 L547.62 475.24 L547.75 474.07 L547.88 472.90 L548.01 471.73 L548.14 470.56 L548.27 469.39 L548.40 468.22 L548.53 467.05 L548.66 465.88 L548.79 464.71 L548.91 463.54 L549.04 462.37 L549.17 461.20 L549.30 460.03 L549.43 458.86 L549.56 457.69 L549.69 456.52 L549.82 455.35 L549.94 454.18 L550.07 453.01 L550.21 451.84 L550.34 450.67 L550.47 449.50 L550.60 448.33 L550.73 447.16 L550.86 445.98 L550.99 444.81 L551.13 443.64 L551.26 442.47 L551.40 441.29 L551.53 440.12 L551.67 438.95 L551.80 437.77 L551.94 436.60 L552.08 435.42 L552.21 434.24 L552.35 433.07 L552.49 431.89 L552.63 430.71 L552.77 429.53 L552.92 428.35 L553.06 427.17 L553.20 425.99 L553.35 424.81 L553.49 423.63 L553.64 422.44 L553.78 421.26 L553.93 420.07 L554.08 418.89 L554.23 417.70 L554.38 416.51 L554.53 415.32 L554.69 414.13 L554.84 412.94 L555.00 411.74 L555.15 410.55 L555.31 409.36 L555.47 408.16 L555.63 406.96 L555.79 405.76 L555.96 404.56 L556.12 403.36 L556.29 402.16 L556.45 400.96 L556.63 399.75 L556.80 398.55 L556.98 397.35 L557.16 396.15 L557.35 394.95 L557.54 393.75 L557.74 392.55 L557.95 391.35 L558.16 390.15 L558.37 388.96 L558.60 387.77 L558.83 386.58 L559.06 385.40 L559.31 384.22 L559.57 383.04 L559.83 381.86 L560.11 380.69 L560.39 379.53 L560.68 378.37 L560.99 377.21 L561.30 376.06 L561.63 374.91 L561.97 373.77 L562.32 372.64 L562.68 371.51 L563.06 370.39 L563.45 369.27 L563.86 368.16 L564.28 367.06 L564.71 365.97 L565.16 364.88 L565.62 363.80 L566.10 362.73 L566.60 361.67 L567.11 360.62 L567.64 359.57 L568.19 358.54 L568.76 357.52 L569.34 356.50 L569.95 355.50 L570.57 354.51 L571.21 353.54 L571.87 352.58 L572.56 351.64 L573.26 350.72 L573.99 349.81 L574.74 348.93 L575.51 348.07 L576.31 347.22 L577.13 346.41 L577.97 345.61 L578.84 344.84 L579.73 344.10 L580.65 343.39 L581.59 342.70 L582.56 342.04 L583.54 341.40 L584.55 340.79 L585.57 340.20 L586.62 339.63 L587.67 339.08 L588.75 338.55 L589.83 338.04 L590.93 337.55 L592.04 337.08 L593.15 336.62 L594.28 336.17 L595.41 335.74 L596.54 335.32 L597.68 334.91 L598.82 334.51 L599.96 334.13 L601.10 333.75 L602.25 333.38 L603.39 333.02 L604.54 332.68 L605.69 332.34 L606.84 332.01 L607.99 331.69 L609.14 331.37 L610.30 331.07 L611.45 330.78 L612.61 330.49 L613.77 330.21 L614.92 329.94 L616.08 329.68 L617.25 329.43 L618.41 329.19 L619.57 328.95 L620.74 328.72 L621.90 328.50 L623.07 328.29 L624.23 328.08 L625.40 327.88 L626.57 327.69 L627.74 327.50 L628.91 327.32 L630.09 327.15 L631.26 326.98 L632.43 326.82 L633.61 326.67 L634.78 326.52 L635.96 326.38 L637.14 326.24 L638.32 326.11 L639.50 325.99 L640.67 325.87 L641.85 325.76 L643.04 325.65 L644.22 325.54 L645.40 325.45 L646.58 325.35 L647.77 325.26 L648.95 325.18 L650.13 325.10 L651.32 325.02 L652.51 324.95 L653.69 324.88 L654.88 324.82 L656.07 324.76 L657.25 324.70 L658.44 324.65 L659.63 324.60 L660.82 324.55 L662.01 324.51 L663.20 324.47 L664.39 324.43 L665.58 324.39 L666.77 324.36 L667.96 324.33 L669.15 324.30 L670.34 324.28 L671.53 324.25 L672.72 324.23 L673.91 324.21 L675.10 324.19 L676.29 324.17 L677.49 324.16 L678.68 324.14 L679.87 324.13 L681.06 324.12 L682.25 324.11 L683.44 324.10 L684.64 324.08 L685.83 324.07 L687.02 324.06 L688.21 324.06 L689.40 324.05" stroke="#000000" stroke-width="1.6"/>
<path d="M406.60 591.17 L408.02 590.87 L409.44 590.55 L410.86 590.22 L412.28 589.88 L413.71 589.53 L415.13 589.16 L416.55 588.77 L417.97 588.38 L419.39 587.96 L420.81 587.54 L422.23 587.09 L423.65 586.63 L425.07 586.16 L426.50 585.66 L427.92 585.15 L429.34 584.63 L430.76 584.08 L432.18 583.52 L433.60 582.93 L435.02 582.33 L436.44 581.71 L437.86 581.06 L439.29 580.40 L440.71 579.72 L442.13 579.01 L443.55 578.29 L444.97 577.54 L446.39 576.77 L447.81 575.97 L449.23 575.16 L450.65 574.32 L452.08 573.45 L453.50 572.57 L454.92 571.66 L456.34 570.72 L457.76 569.76 L459.18 568.78 L460.60 567.77 L462.02 566.73 L463.44 565.67 L464.87 564.58 L466.29 563.47 L467.71 562.33 L469.13 561.16 L470.55 559.97 L471.97 558.75 L473.39 557.51 L474.81 556.23 L476.23 554.94 L477.66 553.61 L479.08 552.26 L480.50 550.88 L481.92 549.47 L483.34 548.04 L484.76 546.58 L486.18 545.10 L487.60 543.58 L489.02 542.05 L490.45 540.48 L491.87 538.89 L493.29 537.28 L494.71 535.64 L496.13 533.97 L497.55 532.28 L498.97 530.57 L500.39 528.83 L501.81 527.06 L503.24 525.28 L504.66 523.47 L506.08 521.64 L507.50 519.79 L508.92 517.91 L510.34 516.02 L511.76 514.10 L513.18 512.16 L514.60 510.21 L516.03 508.23 L517.45 506.24 L518.87 504.23 L520.29 502.21 L521.71 500.17 L523.13 498.11 L524.55 496.04 L525.97 493.95 L527.39 491.85 L528.82 489.74 L530.24 487.62 L531.66 485.49 L533.08 483.34 L534.50 481.19 L535.92 479.03 L537.34 476.86 L538.76 474.69 L540.18 472.51 L541.61 470.32 L543.03 468.13 L544.45 465.94 L545.87 463.74 L547.29 461.55 L548.71 459.35 L550.13 457.16 L551.55 454.96 L552.97 452.77 L554.39 450.58 L555.82 448.39 L557.24 446.21 L558.66 444.04 L560.08 441.87 L561.50 439.71 L562.92 437.56 L564.34 435.41 L565.76 433.28 L567.18 431.16 L568.61 429.05 L570.03 426.95 L571.45 424.86 L572.87 422.79 L574.29 420.73 L575.71 418.69 L577.13 416.67 L578.55 414.66 L579.97 412.67 L581.40 410.69 L582.82 408.74 L584.24 406.80 L585.66 404.88 L587.08 402.99 L588.50 401.11 L589.92 399.26 L591.34 397.43 L592.76 395.62 L594.19 393.84 L595.61 392.07 L597.03 390.33 L598.45 388.62 L599.87 386.93 L601.29 385.26 L602.71 383.62 L604.13 382.01 L605.55 380.42 L606.98 378.85 L608.40 377.32 L609.82 375.80 L611.24 374.32 L612.66 372.86 L614.08 371.43 L615.50 370.02 L616.92 368.64 L618.34 367.29 L619.77 365.96 L621.19 364.67 L622.61 363.39 L624.03 362.15 L625.45 360.93 L626.87 359.74 L628.29 358.57 L629.71 357.43 L631.13 356.32 L632.56 355.23 L633.98 354.17 L635.40 353.13 L636.82 352.12 L638.24 351.14 L639.66 350.18 L641.08 349.24 L642.50 348.33 L643.92 347.45 L645.35 346.58 L646.77 345.74 L648.19 344.93 L649.61 344.13 L651.03 343.36 L652.45 342.61 L653.87 341.89 L655.29 341.18 L656.71 340.50 L658.14 339.84 L659.56 339.19 L660.98 338.57 L662.40 337.97 L663.82 337.38 L665.24 336.82 L666.66 336.27 L668.08 335.75 L669.50 335.24 L670.93 334.74 L672.35 334.27 L673.77 333.81 L675.19 333.36 L676.61 332.94 L678.03 332.52 L679.45 332.13 L680.87 331.74 L682.29 331.37 L683.72 331.02 L685.14 330.68 L686.56 330.35 L687.98 330.03 L689.40 329.73" stroke="#222" stroke-width="1.15" stroke-dasharray="5.5 3.5"/>
</g>
<g stroke="#3a3a3a" stroke-width="1.25" fill="none">
<path d="M398.50 323.50 L398.50 597.40 L698.60 597.40"/>
<line x1="398.50" y1="597.40" x2="402.00" y2="597.40"/>
<line x1="398.50" y1="570.01" x2="402.00" y2="570.01"/>
<line x1="398.50" y1="542.62" x2="402.00" y2="542.62"/>
<line x1="398.50" y1="515.23" x2="402.00" y2="515.23"/>
<line x1="398.50" y1="487.84" x2="402.00" y2="487.84"/>
<line x1="398.50" y1="460.45" x2="402.00" y2="460.45"/>
<line x1="398.50" y1="433.06" x2="402.00" y2="433.06"/>
<line x1="398.50" y1="405.67" x2="402.00" y2="405.67"/>
<line x1="398.50" y1="378.28" x2="402.00" y2="378.28"/>
<line x1="398.50" y1="350.89" x2="402.00" y2="350.89"/>
<line x1="398.50" y1="323.50" x2="402.00" y2="323.50"/>
<line x1="406.60" y1="597.40" x2="406.60" y2="594.20"/>
<line x1="477.30" y1="597.40" x2="477.30" y2="594.20"/>
<line x1="548.00" y1="597.40" x2="548.00" y2="594.20"/>
<line x1="618.70" y1="597.40" x2="618.70" y2="594.20"/>
<line x1="689.40" y1="597.40" x2="689.40" y2="594.20"/>
</g>
<g stroke="#3a3a3a" stroke-width="1" fill="none">
<line x1="424.28" y1="597.40" x2="424.28" y2="595.40"/>
<line x1="441.95" y1="597.40" x2="441.95" y2="595.40"/>
<line x1="459.62" y1="597.40" x2="459.62" y2="595.40"/>
<line x1="494.98" y1="597.40" x2="494.98" y2="595.40"/>
<line x1="512.65" y1="597.40" x2="512.65" y2="595.40"/>
<line x1="530.33" y1="597.40" x2="530.33" y2="595.40"/>
<line x1="565.67" y1="597.40" x2="565.67" y2="595.40"/>
<line x1="583.35" y1="597.40" x2="583.35" y2="595.40"/>
<line x1="601.02" y1="597.40" x2="601.02" y2="595.40"/>
<line x1="636.38" y1="597.40" x2="636.38" y2="595.40"/>
<line x1="654.05" y1="597.40" x2="654.05" y2="595.40"/>
<line x1="671.72" y1="597.40" x2="671.72" y2="595.40"/>
</g>
<g font-family="Liberation Sans, sans-serif" stroke="#111" stroke-width="0.18" font-size="9.8" fill="#111">
<text x="393.60" y="600.20" text-anchor="end" textLength="13.2" lengthAdjust="spacingAndGlyphs">0.0</text>
<text x="393.60" y="572.81" text-anchor="end" textLength="13.2" lengthAdjust="spacingAndGlyphs">0.1</text>
<text x="393.60" y="545.42" text-anchor="end" textLength="13.2" lengthAdjust="spacingAndGlyphs">0.2</text>
<text x="393.60" y="518.03" text-anchor="end" textLength="13.2" lengthAdjust="spacingAndGlyphs">0.3</text>
<text x="393.60" y="490.64" text-anchor="end" textLength="13.2" lengthAdjust="spacingAndGlyphs">0.4</text>
<text x="393.60" y="463.25" text-anchor="end" textLength="13.2" lengthAdjust="spacingAndGlyphs">0.5</text>
<text x="393.60" y="435.86" text-anchor="end" textLength="13.2" lengthAdjust="spacingAndGlyphs">0.6</text>
<text x="393.60" y="408.47" text-anchor="end" textLength="13.2" lengthAdjust="spacingAndGlyphs">0.7</text>
<text x="393.60" y="381.08" text-anchor="end" textLength="13.2" lengthAdjust="spacingAndGlyphs">0.8</text>
<text x="393.60" y="353.69" text-anchor="end" textLength="13.2" lengthAdjust="spacingAndGlyphs">0.9</text>
<text x="393.60" y="326.30" text-anchor="end" textLength="13.2" lengthAdjust="spacingAndGlyphs">1.0</text>
<text x="406.60" y="608.20" text-anchor="middle" textLength="11.3" lengthAdjust="spacingAndGlyphs">−2</text>
<text x="477.30" y="608.20" text-anchor="middle" textLength="11.3" lengthAdjust="spacingAndGlyphs">−1</text>
<text x="548.00" y="608.20" text-anchor="middle" textLength="5.2" lengthAdjust="spacingAndGlyphs">0</text>
<text x="618.70" y="608.20" text-anchor="middle" textLength="5.2" lengthAdjust="spacingAndGlyphs">1</text>
<text x="689.40" y="608.20" text-anchor="middle" textLength="5.2" lengthAdjust="spacingAndGlyphs">2</text>
</g>
<rect x="47.6" y="12.4" width="103.1" height="82.4" fill="#fff" stroke="#222" stroke-width="1"/>
<line x1="50.8" y1="21.60" x2="71.3" y2="21.60" stroke="#ff0000" stroke-width="1.2" stroke-dasharray="1.1 0.75" stroke-opacity="0.8"/>
<text x="74.1" y="24.70" font-family="Liberation Sans, sans-serif" stroke="#111" stroke-width="0.18" font-size="9.8" fill="#111" textLength="34.6" lengthAdjust="spacingAndGlyphs">32 Node</text>
<line x1="50.8" y1="30.80" x2="71.3" y2="30.80" stroke="#ff8c00" stroke-width="1.2" stroke-dasharray="1.1 0.75" stroke-opacity="0.7"/>
<text x="74.1" y="33.90" font-family="Liberation Sans, sans-serif" stroke="#111" stroke-width="0.18" font-size="9.8" fill="#111" textLength="34.6" lengthAdjust="spacingAndGlyphs">64 Node</text>
<line x1="50.8" y1="39.90" x2="71.3" y2="39.90" stroke="#6b8e23" stroke-width="1.2" stroke-dasharray="6 2.3 1.3 2.3" stroke-opacity="0.6"/>
<text x="74.1" y="43.00" font-family="Liberation Sans, sans-serif" stroke="#111" stroke-width="0.18" font-size="9.8" fill="#111" textLength="40.0" lengthAdjust="spacingAndGlyphs">128 Node</text>
<line x1="50.8" y1="49.20" x2="71.3" y2="49.20" stroke="#2e7396" stroke-width="1"/>
<text x="74.1" y="52.30" font-family="Liberation Sans, sans-serif" stroke="#111" stroke-width="0.18" font-size="9.8" fill="#111" textLength="40.0" lengthAdjust="spacingAndGlyphs">256 Node</text>
<line x1="50.8" y1="58.40" x2="71.3" y2="58.40" stroke="#0000ff" stroke-width="1"/>
<text x="74.1" y="61.50" font-family="Liberation Sans, sans-serif" stroke="#111" stroke-width="0.18" font-size="9.8" fill="#111" textLength="40.0" lengthAdjust="spacingAndGlyphs">512 Node</text>
<line x1="50.8" y1="67.50" x2="71.3" y2="67.50" stroke="#800080" stroke-width="1"/>
<text x="74.1" y="70.60" font-family="Liberation Sans, sans-serif" stroke="#111" stroke-width="0.18" font-size="9.8" fill="#111" textLength="45.4" lengthAdjust="spacingAndGlyphs">1024 Node</text>
<line x1="50.8" y1="76.50" x2="71.3" y2="76.50" stroke="#000" stroke-width="1"/>
<text x="74.1" y="79.60" font-family="Liberation Sans, sans-serif" stroke="#111" stroke-width="0.18" font-size="9.8" fill="#111" textLength="20.6" lengthAdjust="spacingAndGlyphs">FSPS</text>
<line x1="50.8" y1="85.70" x2="71.3" y2="85.70" stroke="#000" stroke-width="1" stroke-dasharray="6 3.2" stroke-opacity="0.7"/>
<text x="74.1" y="88.80" font-family="Liberation Sans, sans-serif" stroke="#111" stroke-width="0.18" font-size="9.8" fill="#111" textLength="70.7" lengthAdjust="spacingAndGlyphs">Standard Normal</text>
<text transform="translate(12.10 139.40) rotate(-90)" text-anchor="middle" font-family="Liberation Sans, sans-serif" stroke="#111" stroke-width="0.18" font-size="11.3" fill="#111" textLength="79.5" lengthAdjust="spacingAndGlyphs">Empirical CDF</text>
<text transform="translate(375.30 140.10) rotate(-90)" text-anchor="middle" font-family="Liberation Sans, sans-serif" stroke="#111" stroke-width="0.18" font-size="11.3" fill="#111" textLength="79.5" lengthAdjust="spacingAndGlyphs">Empirical CDF</text>
<text transform="translate(8.20 460.50) rotate(-90)" text-anchor="middle" font-family="Liberation Sans, sans-serif" stroke="#111" stroke-width="0.18" font-size="11.3" fill="#111" textLength="79.5" lengthAdjust="spacingAndGlyphs">Empirical CDF</text>
<text transform="translate(373.10 460.50) rotate(-90)" text-anchor="middle" font-family="Liberation Sans, sans-serif" stroke="#111" stroke-width="0.18" font-size="11.3" fill="#111" textLength="79.5" lengthAdjust="spacingAndGlyphs">Empirical CDF</text>
<text x="97.40" y="297.30" font-family="Liberation Serif, serif" font-size="12.0" fill="#111" textLength="14.7" lengthAdjust="spacingAndGlyphs">log</text>
<text x="112.60" y="300.30" font-family="Liberation Serif, serif" font-size="8.2" fill="#111" textLength="7.2" lengthAdjust="spacingAndGlyphs">10</text>
<text x="120.40" y="297.90" font-family="Liberation Serif, serif" font-size="13.5" fill="#111" textLength="4.0" lengthAdjust="spacingAndGlyphs">(</text>
<text x="125.60" y="297.30" font-family="Liberation Serif, serif" font-style="italic" font-size="12.0" fill="#111" textLength="10.6" lengthAdjust="spacingAndGlyphs">M</text>
<path d="M139.80 298.70 L139.80 297.10 M139.80 298.70 L138.28 298.21 M139.80 298.70 L138.86 299.99 M139.80 298.70 L140.74 299.99 M139.80 298.70 L141.32 298.21" stroke="#111" stroke-width="0.85" fill="none"/>
<text x="141.80" y="300.50" font-family="Liberation Serif, serif" font-size="8.5" fill="#111" textLength="2.0" lengthAdjust="spacingAndGlyphs">,</text>
<text x="144.90" y="300.40" font-family="Liberation Serif, serif" font-size="9.3" fill="#111" textLength="26.2" lengthAdjust="spacingAndGlyphs">formed</text>
<text x="172.70" y="297.90" font-family="Liberation Serif, serif" font-size="13.5" fill="#111" textLength="4.4" lengthAdjust="spacingAndGlyphs">/</text>
<text x="177.40" y="297.30" font-family="Liberation Serif, serif" font-style="italic" font-size="12.0" fill="#111" textLength="11.4" lengthAdjust="spacingAndGlyphs">M</text>
<circle cx="194.60" cy="299.20" r="2.60" fill="none" stroke="#111" stroke-width="0.7"/>
<circle cx="194.60" cy="299.20" r="0.55" fill="#111"/>
<text x="198.40" y="297.90" font-family="Liberation Serif, serif" font-size="13.5" fill="#111" textLength="4.0" lengthAdjust="spacingAndGlyphs">)</text>
<text x="207.70" y="296.90" font-family="Liberation Sans, sans-serif" stroke="#111" stroke-width="0.18" font-size="10.6" fill="#111" textLength="69.4" lengthAdjust="spacingAndGlyphs">Discrepancy</text>
<text x="507.00" y="297.60" font-family="Liberation Serif, serif" font-style="italic" font-size="11.0" fill="#111" textLength="5.0" lengthAdjust="spacingAndGlyphs">τ</text>
<text x="513.50" y="300.40" font-family="Liberation Serif, serif" font-size="8.2" fill="#111" textLength="4.5" lengthAdjust="spacingAndGlyphs">2</text>
<text x="522.90" y="297.10" font-family="Liberation Sans, sans-serif" stroke="#111" stroke-width="0.18" font-size="10.6" fill="#111" textLength="68.5" lengthAdjust="spacingAndGlyphs">Discrepancy</text>
<text x="122.00" y="618.60" font-family="Liberation Serif, serif" font-size="12.0" fill="#111" textLength="14.5" lengthAdjust="spacingAndGlyphs">log</text>
<text x="137.00" y="621.60" font-family="Liberation Serif, serif" font-size="8.2" fill="#111" textLength="7.5" lengthAdjust="spacingAndGlyphs">10</text>
<text x="146.40" y="618.60" font-family="Liberation Serif, serif" font-style="italic" font-size="11.0" fill="#111" textLength="5.0" lengthAdjust="spacingAndGlyphs">τ</text>
<text x="152.50" y="621.50" font-family="Liberation Serif, serif" font-size="8.2" fill="#111" textLength="18.0" lengthAdjust="spacingAndGlyphs">AGN</text>
<text x="177.00" y="619.20" font-family="Liberation Sans, sans-serif" stroke="#111" stroke-width="0.18" font-size="10.6" fill="#111" textLength="69.2" lengthAdjust="spacingAndGlyphs">Discrepancy</text>
<text x="472.50" y="618.90" font-family="Liberation Serif, serif" font-size="12.0" fill="#111" textLength="14.8" lengthAdjust="spacingAndGlyphs">log</text>
<text x="487.90" y="621.90" font-family="Liberation Serif, serif" font-size="8.2" fill="#111" textLength="7.1" lengthAdjust="spacingAndGlyphs">10</text>
<text x="495.40" y="619.50" font-family="Liberation Serif, serif" font-size="13.5" fill="#111" textLength="4.0" lengthAdjust="spacingAndGlyphs">(</text>
<text x="500.40" y="618.90" font-family="Liberation Serif, serif" font-style="italic" font-size="12.0" fill="#111" textLength="8.8" lengthAdjust="spacingAndGlyphs">Z</text>
<text x="510.40" y="621.50" font-family="Liberation Serif, serif" font-size="9.4" fill="#111" textLength="10.9" lengthAdjust="spacingAndGlyphs">gas</text>
<text x="521.80" y="619.50" font-family="Liberation Serif, serif" font-size="13.5" fill="#111" textLength="4.6" lengthAdjust="spacingAndGlyphs">/</text>
<text x="526.80" y="618.90" font-family="Liberation Serif, serif" font-style="italic" font-size="12.0" fill="#111" textLength="9.2" lengthAdjust="spacingAndGlyphs">Z</text>
<circle cx="540.00" cy="619.50" r="2.60" fill="none" stroke="#111" stroke-width="0.7"/>
<circle cx="540.00" cy="619.50" r="0.55" fill="#111"/>
<text x="544.40" y="619.50" font-family="Liberation Serif, serif" font-size="13.5" fill="#111" textLength="4.0" lengthAdjust="spacingAndGlyphs">)</text>
<text x="554.80" y="619.20" font-family="Liberation Sans, sans-serif" stroke="#111" stroke-width="0.18" font-size="10.6" fill="#111" textLength="68.8" lengthAdjust="spacingAndGlyphs">Discrepancy</text>
</svg>
</body></html>
